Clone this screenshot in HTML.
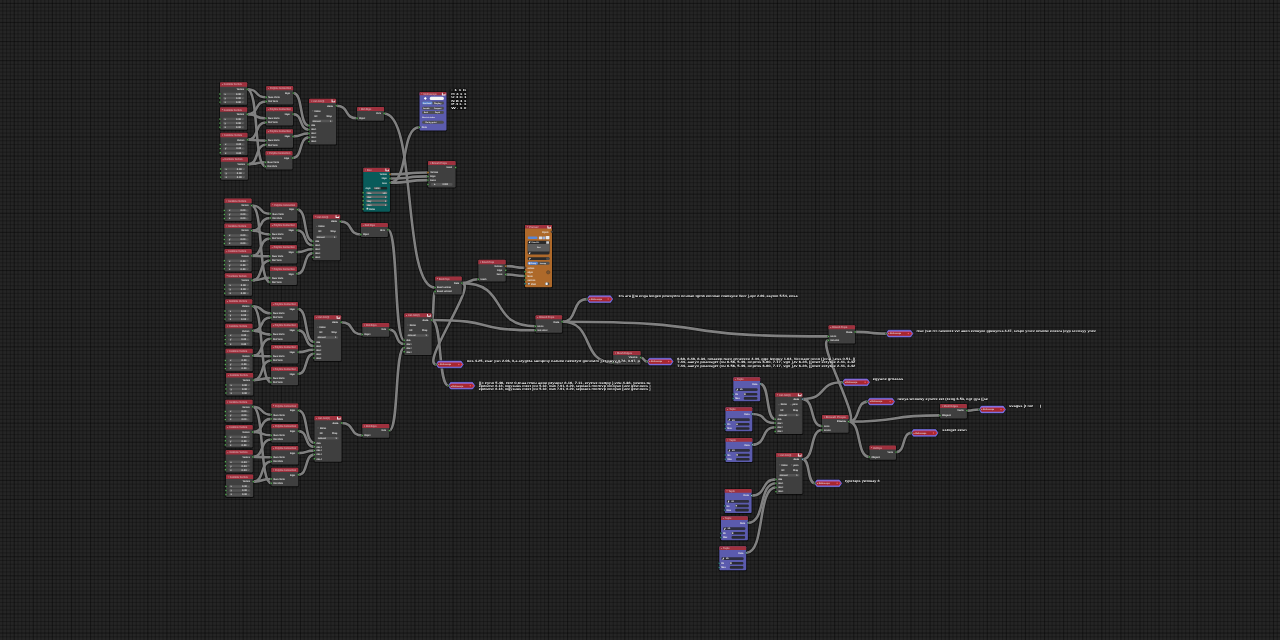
<!DOCTYPE html>
<html><head><meta charset="utf-8"><title>Node Editor</title>
<style>
html,body{margin:0;padding:0;width:1280px;height:640px;overflow:hidden;background:#252525;}
svg{position:absolute;left:0;top:0;display:block;will-change:transform;filter:blur(0.3px);}
text{font-family:"Liberation Sans",sans-serif;text-rendering:geometricPrecision;}
.lo{fill:none;stroke:rgba(8,8,8,0.6);stroke-width:4.0;stroke-linecap:round;}
.li{fill:none;stroke:#808080;stroke-width:2.6;stroke-linecap:round;}
</style></head><body>
<svg width="1280" height="640" viewBox="0 0 1280 640">
<rect width="1280" height="640" fill="#252525"/>
<rect x="-1.58" y="0" width="1" height="640" fill="rgba(0,0,0,0.26)"/>
<rect x="2.23" y="0" width="1" height="640" fill="rgba(0,0,0,0.26)"/>
<rect x="6.05" y="0" width="1" height="640" fill="rgba(0,0,0,0.26)"/>
<rect x="9.86" y="0" width="1" height="640" fill="rgba(0,0,0,0.26)"/>
<rect x="13.68" y="0" width="1.1" height="640" fill="rgba(0,0,0,0.40)"/>
<rect x="17.5" y="0" width="1" height="640" fill="rgba(0,0,0,0.26)"/>
<rect x="21.31" y="0" width="1" height="640" fill="rgba(0,0,0,0.26)"/>
<rect x="25.13" y="0" width="1" height="640" fill="rgba(0,0,0,0.26)"/>
<rect x="28.94" y="0" width="1" height="640" fill="rgba(0,0,0,0.26)"/>
<rect x="32.76" y="0" width="1.1" height="640" fill="rgba(0,0,0,0.40)"/>
<rect x="36.58" y="0" width="1" height="640" fill="rgba(0,0,0,0.26)"/>
<rect x="40.39" y="0" width="1" height="640" fill="rgba(0,0,0,0.26)"/>
<rect x="44.21" y="0" width="1" height="640" fill="rgba(0,0,0,0.26)"/>
<rect x="48.02" y="0" width="1" height="640" fill="rgba(0,0,0,0.26)"/>
<rect x="51.84" y="0" width="1.1" height="640" fill="rgba(0,0,0,0.40)"/>
<rect x="55.66" y="0" width="1" height="640" fill="rgba(0,0,0,0.26)"/>
<rect x="59.47" y="0" width="1" height="640" fill="rgba(0,0,0,0.26)"/>
<rect x="63.29" y="0" width="1" height="640" fill="rgba(0,0,0,0.26)"/>
<rect x="67.1" y="0" width="1" height="640" fill="rgba(0,0,0,0.26)"/>
<rect x="70.92" y="0" width="1.1" height="640" fill="rgba(0,0,0,0.40)"/>
<rect x="74.74" y="0" width="1" height="640" fill="rgba(0,0,0,0.26)"/>
<rect x="78.55" y="0" width="1" height="640" fill="rgba(0,0,0,0.26)"/>
<rect x="82.37" y="0" width="1" height="640" fill="rgba(0,0,0,0.26)"/>
<rect x="86.18" y="0" width="1" height="640" fill="rgba(0,0,0,0.26)"/>
<rect x="90" y="0" width="1.1" height="640" fill="rgba(0,0,0,0.40)"/>
<rect x="93.82" y="0" width="1" height="640" fill="rgba(0,0,0,0.26)"/>
<rect x="97.63" y="0" width="1" height="640" fill="rgba(0,0,0,0.26)"/>
<rect x="101.45" y="0" width="1" height="640" fill="rgba(0,0,0,0.26)"/>
<rect x="105.26" y="0" width="1" height="640" fill="rgba(0,0,0,0.26)"/>
<rect x="109.08" y="0" width="1.1" height="640" fill="rgba(0,0,0,0.40)"/>
<rect x="112.9" y="0" width="1" height="640" fill="rgba(0,0,0,0.26)"/>
<rect x="116.71" y="0" width="1" height="640" fill="rgba(0,0,0,0.26)"/>
<rect x="120.53" y="0" width="1" height="640" fill="rgba(0,0,0,0.26)"/>
<rect x="124.34" y="0" width="1" height="640" fill="rgba(0,0,0,0.26)"/>
<rect x="128.16" y="0" width="1.1" height="640" fill="rgba(0,0,0,0.40)"/>
<rect x="131.98" y="0" width="1" height="640" fill="rgba(0,0,0,0.26)"/>
<rect x="135.79" y="0" width="1" height="640" fill="rgba(0,0,0,0.26)"/>
<rect x="139.61" y="0" width="1" height="640" fill="rgba(0,0,0,0.26)"/>
<rect x="143.42" y="0" width="1" height="640" fill="rgba(0,0,0,0.26)"/>
<rect x="147.24" y="0" width="1.1" height="640" fill="rgba(0,0,0,0.40)"/>
<rect x="151.06" y="0" width="1" height="640" fill="rgba(0,0,0,0.26)"/>
<rect x="154.87" y="0" width="1" height="640" fill="rgba(0,0,0,0.26)"/>
<rect x="158.69" y="0" width="1" height="640" fill="rgba(0,0,0,0.26)"/>
<rect x="162.5" y="0" width="1" height="640" fill="rgba(0,0,0,0.26)"/>
<rect x="166.32" y="0" width="1.1" height="640" fill="rgba(0,0,0,0.40)"/>
<rect x="170.14" y="0" width="1" height="640" fill="rgba(0,0,0,0.26)"/>
<rect x="173.95" y="0" width="1" height="640" fill="rgba(0,0,0,0.26)"/>
<rect x="177.77" y="0" width="1" height="640" fill="rgba(0,0,0,0.26)"/>
<rect x="181.58" y="0" width="1" height="640" fill="rgba(0,0,0,0.26)"/>
<rect x="185.4" y="0" width="1.1" height="640" fill="rgba(0,0,0,0.40)"/>
<rect x="189.22" y="0" width="1" height="640" fill="rgba(0,0,0,0.26)"/>
<rect x="193.03" y="0" width="1" height="640" fill="rgba(0,0,0,0.26)"/>
<rect x="196.85" y="0" width="1" height="640" fill="rgba(0,0,0,0.26)"/>
<rect x="200.66" y="0" width="1" height="640" fill="rgba(0,0,0,0.26)"/>
<rect x="204.48" y="0" width="1.1" height="640" fill="rgba(0,0,0,0.40)"/>
<rect x="208.3" y="0" width="1" height="640" fill="rgba(0,0,0,0.26)"/>
<rect x="212.11" y="0" width="1" height="640" fill="rgba(0,0,0,0.26)"/>
<rect x="215.93" y="0" width="1" height="640" fill="rgba(0,0,0,0.26)"/>
<rect x="219.74" y="0" width="1" height="640" fill="rgba(0,0,0,0.26)"/>
<rect x="223.56" y="0" width="1.1" height="640" fill="rgba(0,0,0,0.40)"/>
<rect x="227.38" y="0" width="1" height="640" fill="rgba(0,0,0,0.26)"/>
<rect x="231.19" y="0" width="1" height="640" fill="rgba(0,0,0,0.26)"/>
<rect x="235.01" y="0" width="1" height="640" fill="rgba(0,0,0,0.26)"/>
<rect x="238.82" y="0" width="1" height="640" fill="rgba(0,0,0,0.26)"/>
<rect x="242.64" y="0" width="1.1" height="640" fill="rgba(0,0,0,0.40)"/>
<rect x="246.46" y="0" width="1" height="640" fill="rgba(0,0,0,0.26)"/>
<rect x="250.27" y="0" width="1" height="640" fill="rgba(0,0,0,0.26)"/>
<rect x="254.09" y="0" width="1" height="640" fill="rgba(0,0,0,0.26)"/>
<rect x="257.9" y="0" width="1" height="640" fill="rgba(0,0,0,0.26)"/>
<rect x="261.72" y="0" width="1.1" height="640" fill="rgba(0,0,0,0.40)"/>
<rect x="265.54" y="0" width="1" height="640" fill="rgba(0,0,0,0.26)"/>
<rect x="269.35" y="0" width="1" height="640" fill="rgba(0,0,0,0.26)"/>
<rect x="273.17" y="0" width="1" height="640" fill="rgba(0,0,0,0.26)"/>
<rect x="276.98" y="0" width="1" height="640" fill="rgba(0,0,0,0.26)"/>
<rect x="280.8" y="0" width="1.1" height="640" fill="rgba(0,0,0,0.40)"/>
<rect x="284.62" y="0" width="1" height="640" fill="rgba(0,0,0,0.26)"/>
<rect x="288.43" y="0" width="1" height="640" fill="rgba(0,0,0,0.26)"/>
<rect x="292.25" y="0" width="1" height="640" fill="rgba(0,0,0,0.26)"/>
<rect x="296.06" y="0" width="1" height="640" fill="rgba(0,0,0,0.26)"/>
<rect x="299.88" y="0" width="1.1" height="640" fill="rgba(0,0,0,0.40)"/>
<rect x="303.7" y="0" width="1" height="640" fill="rgba(0,0,0,0.26)"/>
<rect x="307.51" y="0" width="1" height="640" fill="rgba(0,0,0,0.26)"/>
<rect x="311.33" y="0" width="1" height="640" fill="rgba(0,0,0,0.26)"/>
<rect x="315.14" y="0" width="1" height="640" fill="rgba(0,0,0,0.26)"/>
<rect x="318.96" y="0" width="1.1" height="640" fill="rgba(0,0,0,0.40)"/>
<rect x="322.78" y="0" width="1" height="640" fill="rgba(0,0,0,0.26)"/>
<rect x="326.59" y="0" width="1" height="640" fill="rgba(0,0,0,0.26)"/>
<rect x="330.41" y="0" width="1" height="640" fill="rgba(0,0,0,0.26)"/>
<rect x="334.22" y="0" width="1" height="640" fill="rgba(0,0,0,0.26)"/>
<rect x="338.04" y="0" width="1.1" height="640" fill="rgba(0,0,0,0.40)"/>
<rect x="341.86" y="0" width="1" height="640" fill="rgba(0,0,0,0.26)"/>
<rect x="345.67" y="0" width="1" height="640" fill="rgba(0,0,0,0.26)"/>
<rect x="349.49" y="0" width="1" height="640" fill="rgba(0,0,0,0.26)"/>
<rect x="353.3" y="0" width="1" height="640" fill="rgba(0,0,0,0.26)"/>
<rect x="357.12" y="0" width="1.1" height="640" fill="rgba(0,0,0,0.40)"/>
<rect x="360.94" y="0" width="1" height="640" fill="rgba(0,0,0,0.26)"/>
<rect x="364.75" y="0" width="1" height="640" fill="rgba(0,0,0,0.26)"/>
<rect x="368.57" y="0" width="1" height="640" fill="rgba(0,0,0,0.26)"/>
<rect x="372.38" y="0" width="1" height="640" fill="rgba(0,0,0,0.26)"/>
<rect x="376.2" y="0" width="1.1" height="640" fill="rgba(0,0,0,0.40)"/>
<rect x="380.02" y="0" width="1" height="640" fill="rgba(0,0,0,0.26)"/>
<rect x="383.83" y="0" width="1" height="640" fill="rgba(0,0,0,0.26)"/>
<rect x="387.65" y="0" width="1" height="640" fill="rgba(0,0,0,0.26)"/>
<rect x="391.46" y="0" width="1" height="640" fill="rgba(0,0,0,0.26)"/>
<rect x="395.28" y="0" width="1.1" height="640" fill="rgba(0,0,0,0.40)"/>
<rect x="399.1" y="0" width="1" height="640" fill="rgba(0,0,0,0.26)"/>
<rect x="402.91" y="0" width="1" height="640" fill="rgba(0,0,0,0.26)"/>
<rect x="406.73" y="0" width="1" height="640" fill="rgba(0,0,0,0.26)"/>
<rect x="410.54" y="0" width="1" height="640" fill="rgba(0,0,0,0.26)"/>
<rect x="414.36" y="0" width="1.1" height="640" fill="rgba(0,0,0,0.40)"/>
<rect x="418.18" y="0" width="1" height="640" fill="rgba(0,0,0,0.26)"/>
<rect x="421.99" y="0" width="1" height="640" fill="rgba(0,0,0,0.26)"/>
<rect x="425.81" y="0" width="1" height="640" fill="rgba(0,0,0,0.26)"/>
<rect x="429.62" y="0" width="1" height="640" fill="rgba(0,0,0,0.26)"/>
<rect x="433.44" y="0" width="1.1" height="640" fill="rgba(0,0,0,0.40)"/>
<rect x="437.26" y="0" width="1" height="640" fill="rgba(0,0,0,0.26)"/>
<rect x="441.07" y="0" width="1" height="640" fill="rgba(0,0,0,0.26)"/>
<rect x="444.89" y="0" width="1" height="640" fill="rgba(0,0,0,0.26)"/>
<rect x="448.7" y="0" width="1" height="640" fill="rgba(0,0,0,0.26)"/>
<rect x="452.52" y="0" width="1.1" height="640" fill="rgba(0,0,0,0.40)"/>
<rect x="456.34" y="0" width="1" height="640" fill="rgba(0,0,0,0.26)"/>
<rect x="460.15" y="0" width="1" height="640" fill="rgba(0,0,0,0.26)"/>
<rect x="463.97" y="0" width="1" height="640" fill="rgba(0,0,0,0.26)"/>
<rect x="467.78" y="0" width="1" height="640" fill="rgba(0,0,0,0.26)"/>
<rect x="471.6" y="0" width="1.1" height="640" fill="rgba(0,0,0,0.40)"/>
<rect x="475.42" y="0" width="1" height="640" fill="rgba(0,0,0,0.26)"/>
<rect x="479.23" y="0" width="1" height="640" fill="rgba(0,0,0,0.26)"/>
<rect x="483.05" y="0" width="1" height="640" fill="rgba(0,0,0,0.26)"/>
<rect x="486.86" y="0" width="1" height="640" fill="rgba(0,0,0,0.26)"/>
<rect x="490.68" y="0" width="1.1" height="640" fill="rgba(0,0,0,0.40)"/>
<rect x="494.5" y="0" width="1" height="640" fill="rgba(0,0,0,0.26)"/>
<rect x="498.31" y="0" width="1" height="640" fill="rgba(0,0,0,0.26)"/>
<rect x="502.13" y="0" width="1" height="640" fill="rgba(0,0,0,0.26)"/>
<rect x="505.94" y="0" width="1" height="640" fill="rgba(0,0,0,0.26)"/>
<rect x="509.76" y="0" width="1.1" height="640" fill="rgba(0,0,0,0.40)"/>
<rect x="513.58" y="0" width="1" height="640" fill="rgba(0,0,0,0.26)"/>
<rect x="517.39" y="0" width="1" height="640" fill="rgba(0,0,0,0.26)"/>
<rect x="521.21" y="0" width="1" height="640" fill="rgba(0,0,0,0.26)"/>
<rect x="525.02" y="0" width="1" height="640" fill="rgba(0,0,0,0.26)"/>
<rect x="528.84" y="0" width="1.1" height="640" fill="rgba(0,0,0,0.40)"/>
<rect x="532.66" y="0" width="1" height="640" fill="rgba(0,0,0,0.26)"/>
<rect x="536.47" y="0" width="1" height="640" fill="rgba(0,0,0,0.26)"/>
<rect x="540.29" y="0" width="1" height="640" fill="rgba(0,0,0,0.26)"/>
<rect x="544.1" y="0" width="1" height="640" fill="rgba(0,0,0,0.26)"/>
<rect x="547.92" y="0" width="1.1" height="640" fill="rgba(0,0,0,0.40)"/>
<rect x="551.74" y="0" width="1" height="640" fill="rgba(0,0,0,0.26)"/>
<rect x="555.55" y="0" width="1" height="640" fill="rgba(0,0,0,0.26)"/>
<rect x="559.37" y="0" width="1" height="640" fill="rgba(0,0,0,0.26)"/>
<rect x="563.18" y="0" width="1" height="640" fill="rgba(0,0,0,0.26)"/>
<rect x="567" y="0" width="1.1" height="640" fill="rgba(0,0,0,0.40)"/>
<rect x="570.82" y="0" width="1" height="640" fill="rgba(0,0,0,0.26)"/>
<rect x="574.63" y="0" width="1" height="640" fill="rgba(0,0,0,0.26)"/>
<rect x="578.45" y="0" width="1" height="640" fill="rgba(0,0,0,0.26)"/>
<rect x="582.26" y="0" width="1" height="640" fill="rgba(0,0,0,0.26)"/>
<rect x="586.08" y="0" width="1.1" height="640" fill="rgba(0,0,0,0.40)"/>
<rect x="589.9" y="0" width="1" height="640" fill="rgba(0,0,0,0.26)"/>
<rect x="593.71" y="0" width="1" height="640" fill="rgba(0,0,0,0.26)"/>
<rect x="597.53" y="0" width="1" height="640" fill="rgba(0,0,0,0.26)"/>
<rect x="601.34" y="0" width="1" height="640" fill="rgba(0,0,0,0.26)"/>
<rect x="605.16" y="0" width="1.1" height="640" fill="rgba(0,0,0,0.40)"/>
<rect x="608.98" y="0" width="1" height="640" fill="rgba(0,0,0,0.26)"/>
<rect x="612.79" y="0" width="1" height="640" fill="rgba(0,0,0,0.26)"/>
<rect x="616.61" y="0" width="1" height="640" fill="rgba(0,0,0,0.26)"/>
<rect x="620.42" y="0" width="1" height="640" fill="rgba(0,0,0,0.26)"/>
<rect x="624.24" y="0" width="1.1" height="640" fill="rgba(0,0,0,0.40)"/>
<rect x="628.06" y="0" width="1" height="640" fill="rgba(0,0,0,0.26)"/>
<rect x="631.87" y="0" width="1" height="640" fill="rgba(0,0,0,0.26)"/>
<rect x="635.69" y="0" width="1" height="640" fill="rgba(0,0,0,0.26)"/>
<rect x="639.5" y="0" width="1" height="640" fill="rgba(0,0,0,0.26)"/>
<rect x="643.32" y="0" width="1.1" height="640" fill="rgba(0,0,0,0.40)"/>
<rect x="647.14" y="0" width="1" height="640" fill="rgba(0,0,0,0.26)"/>
<rect x="650.95" y="0" width="1" height="640" fill="rgba(0,0,0,0.26)"/>
<rect x="654.77" y="0" width="1" height="640" fill="rgba(0,0,0,0.26)"/>
<rect x="658.58" y="0" width="1" height="640" fill="rgba(0,0,0,0.26)"/>
<rect x="662.4" y="0" width="1.1" height="640" fill="rgba(0,0,0,0.40)"/>
<rect x="666.22" y="0" width="1" height="640" fill="rgba(0,0,0,0.26)"/>
<rect x="670.03" y="0" width="1" height="640" fill="rgba(0,0,0,0.26)"/>
<rect x="673.85" y="0" width="1" height="640" fill="rgba(0,0,0,0.26)"/>
<rect x="677.66" y="0" width="1" height="640" fill="rgba(0,0,0,0.26)"/>
<rect x="681.48" y="0" width="1.1" height="640" fill="rgba(0,0,0,0.40)"/>
<rect x="685.3" y="0" width="1" height="640" fill="rgba(0,0,0,0.26)"/>
<rect x="689.11" y="0" width="1" height="640" fill="rgba(0,0,0,0.26)"/>
<rect x="692.93" y="0" width="1" height="640" fill="rgba(0,0,0,0.26)"/>
<rect x="696.74" y="0" width="1" height="640" fill="rgba(0,0,0,0.26)"/>
<rect x="700.56" y="0" width="1.1" height="640" fill="rgba(0,0,0,0.40)"/>
<rect x="704.38" y="0" width="1" height="640" fill="rgba(0,0,0,0.26)"/>
<rect x="708.19" y="0" width="1" height="640" fill="rgba(0,0,0,0.26)"/>
<rect x="712.01" y="0" width="1" height="640" fill="rgba(0,0,0,0.26)"/>
<rect x="715.82" y="0" width="1" height="640" fill="rgba(0,0,0,0.26)"/>
<rect x="719.64" y="0" width="1.1" height="640" fill="rgba(0,0,0,0.40)"/>
<rect x="723.46" y="0" width="1" height="640" fill="rgba(0,0,0,0.26)"/>
<rect x="727.27" y="0" width="1" height="640" fill="rgba(0,0,0,0.26)"/>
<rect x="731.09" y="0" width="1" height="640" fill="rgba(0,0,0,0.26)"/>
<rect x="734.9" y="0" width="1" height="640" fill="rgba(0,0,0,0.26)"/>
<rect x="738.72" y="0" width="1.1" height="640" fill="rgba(0,0,0,0.40)"/>
<rect x="742.54" y="0" width="1" height="640" fill="rgba(0,0,0,0.26)"/>
<rect x="746.35" y="0" width="1" height="640" fill="rgba(0,0,0,0.26)"/>
<rect x="750.17" y="0" width="1" height="640" fill="rgba(0,0,0,0.26)"/>
<rect x="753.98" y="0" width="1" height="640" fill="rgba(0,0,0,0.26)"/>
<rect x="757.8" y="0" width="1.1" height="640" fill="rgba(0,0,0,0.40)"/>
<rect x="761.62" y="0" width="1" height="640" fill="rgba(0,0,0,0.26)"/>
<rect x="765.43" y="0" width="1" height="640" fill="rgba(0,0,0,0.26)"/>
<rect x="769.25" y="0" width="1" height="640" fill="rgba(0,0,0,0.26)"/>
<rect x="773.06" y="0" width="1" height="640" fill="rgba(0,0,0,0.26)"/>
<rect x="776.88" y="0" width="1.1" height="640" fill="rgba(0,0,0,0.40)"/>
<rect x="780.7" y="0" width="1" height="640" fill="rgba(0,0,0,0.26)"/>
<rect x="784.51" y="0" width="1" height="640" fill="rgba(0,0,0,0.26)"/>
<rect x="788.33" y="0" width="1" height="640" fill="rgba(0,0,0,0.26)"/>
<rect x="792.14" y="0" width="1" height="640" fill="rgba(0,0,0,0.26)"/>
<rect x="795.96" y="0" width="1.1" height="640" fill="rgba(0,0,0,0.40)"/>
<rect x="799.78" y="0" width="1" height="640" fill="rgba(0,0,0,0.26)"/>
<rect x="803.59" y="0" width="1" height="640" fill="rgba(0,0,0,0.26)"/>
<rect x="807.41" y="0" width="1" height="640" fill="rgba(0,0,0,0.26)"/>
<rect x="811.22" y="0" width="1" height="640" fill="rgba(0,0,0,0.26)"/>
<rect x="815.04" y="0" width="1.1" height="640" fill="rgba(0,0,0,0.40)"/>
<rect x="818.86" y="0" width="1" height="640" fill="rgba(0,0,0,0.26)"/>
<rect x="822.67" y="0" width="1" height="640" fill="rgba(0,0,0,0.26)"/>
<rect x="826.49" y="0" width="1" height="640" fill="rgba(0,0,0,0.26)"/>
<rect x="830.3" y="0" width="1" height="640" fill="rgba(0,0,0,0.26)"/>
<rect x="834.12" y="0" width="1.1" height="640" fill="rgba(0,0,0,0.40)"/>
<rect x="837.94" y="0" width="1" height="640" fill="rgba(0,0,0,0.26)"/>
<rect x="841.75" y="0" width="1" height="640" fill="rgba(0,0,0,0.26)"/>
<rect x="845.57" y="0" width="1" height="640" fill="rgba(0,0,0,0.26)"/>
<rect x="849.38" y="0" width="1" height="640" fill="rgba(0,0,0,0.26)"/>
<rect x="853.2" y="0" width="1.1" height="640" fill="rgba(0,0,0,0.40)"/>
<rect x="857.02" y="0" width="1" height="640" fill="rgba(0,0,0,0.26)"/>
<rect x="860.83" y="0" width="1" height="640" fill="rgba(0,0,0,0.26)"/>
<rect x="864.65" y="0" width="1" height="640" fill="rgba(0,0,0,0.26)"/>
<rect x="868.46" y="0" width="1" height="640" fill="rgba(0,0,0,0.26)"/>
<rect x="872.28" y="0" width="1.1" height="640" fill="rgba(0,0,0,0.40)"/>
<rect x="876.1" y="0" width="1" height="640" fill="rgba(0,0,0,0.26)"/>
<rect x="879.91" y="0" width="1" height="640" fill="rgba(0,0,0,0.26)"/>
<rect x="883.73" y="0" width="1" height="640" fill="rgba(0,0,0,0.26)"/>
<rect x="887.54" y="0" width="1" height="640" fill="rgba(0,0,0,0.26)"/>
<rect x="891.36" y="0" width="1.1" height="640" fill="rgba(0,0,0,0.40)"/>
<rect x="895.18" y="0" width="1" height="640" fill="rgba(0,0,0,0.26)"/>
<rect x="898.99" y="0" width="1" height="640" fill="rgba(0,0,0,0.26)"/>
<rect x="902.81" y="0" width="1" height="640" fill="rgba(0,0,0,0.26)"/>
<rect x="906.62" y="0" width="1" height="640" fill="rgba(0,0,0,0.26)"/>
<rect x="910.44" y="0" width="1.1" height="640" fill="rgba(0,0,0,0.40)"/>
<rect x="914.26" y="0" width="1" height="640" fill="rgba(0,0,0,0.26)"/>
<rect x="918.07" y="0" width="1" height="640" fill="rgba(0,0,0,0.26)"/>
<rect x="921.89" y="0" width="1" height="640" fill="rgba(0,0,0,0.26)"/>
<rect x="925.7" y="0" width="1" height="640" fill="rgba(0,0,0,0.26)"/>
<rect x="929.52" y="0" width="1.1" height="640" fill="rgba(0,0,0,0.40)"/>
<rect x="933.34" y="0" width="1" height="640" fill="rgba(0,0,0,0.26)"/>
<rect x="937.15" y="0" width="1" height="640" fill="rgba(0,0,0,0.26)"/>
<rect x="940.97" y="0" width="1" height="640" fill="rgba(0,0,0,0.26)"/>
<rect x="944.78" y="0" width="1" height="640" fill="rgba(0,0,0,0.26)"/>
<rect x="948.6" y="0" width="1.1" height="640" fill="rgba(0,0,0,0.40)"/>
<rect x="952.42" y="0" width="1" height="640" fill="rgba(0,0,0,0.26)"/>
<rect x="956.23" y="0" width="1" height="640" fill="rgba(0,0,0,0.26)"/>
<rect x="960.05" y="0" width="1" height="640" fill="rgba(0,0,0,0.26)"/>
<rect x="963.86" y="0" width="1" height="640" fill="rgba(0,0,0,0.26)"/>
<rect x="967.68" y="0" width="1.1" height="640" fill="rgba(0,0,0,0.40)"/>
<rect x="971.5" y="0" width="1" height="640" fill="rgba(0,0,0,0.26)"/>
<rect x="975.31" y="0" width="1" height="640" fill="rgba(0,0,0,0.26)"/>
<rect x="979.13" y="0" width="1" height="640" fill="rgba(0,0,0,0.26)"/>
<rect x="982.94" y="0" width="1" height="640" fill="rgba(0,0,0,0.26)"/>
<rect x="986.76" y="0" width="1.1" height="640" fill="rgba(0,0,0,0.40)"/>
<rect x="990.58" y="0" width="1" height="640" fill="rgba(0,0,0,0.26)"/>
<rect x="994.39" y="0" width="1" height="640" fill="rgba(0,0,0,0.26)"/>
<rect x="998.21" y="0" width="1" height="640" fill="rgba(0,0,0,0.26)"/>
<rect x="1002.02" y="0" width="1" height="640" fill="rgba(0,0,0,0.26)"/>
<rect x="1005.84" y="0" width="1.1" height="640" fill="rgba(0,0,0,0.40)"/>
<rect x="1009.66" y="0" width="1" height="640" fill="rgba(0,0,0,0.26)"/>
<rect x="1013.47" y="0" width="1" height="640" fill="rgba(0,0,0,0.26)"/>
<rect x="1017.29" y="0" width="1" height="640" fill="rgba(0,0,0,0.26)"/>
<rect x="1021.1" y="0" width="1" height="640" fill="rgba(0,0,0,0.26)"/>
<rect x="1024.92" y="0" width="1.1" height="640" fill="rgba(0,0,0,0.40)"/>
<rect x="1028.74" y="0" width="1" height="640" fill="rgba(0,0,0,0.26)"/>
<rect x="1032.55" y="0" width="1" height="640" fill="rgba(0,0,0,0.26)"/>
<rect x="1036.37" y="0" width="1" height="640" fill="rgba(0,0,0,0.26)"/>
<rect x="1040.18" y="0" width="1" height="640" fill="rgba(0,0,0,0.26)"/>
<rect x="1044" y="0" width="1.1" height="640" fill="rgba(0,0,0,0.40)"/>
<rect x="1047.82" y="0" width="1" height="640" fill="rgba(0,0,0,0.26)"/>
<rect x="1051.63" y="0" width="1" height="640" fill="rgba(0,0,0,0.26)"/>
<rect x="1055.45" y="0" width="1" height="640" fill="rgba(0,0,0,0.26)"/>
<rect x="1059.26" y="0" width="1" height="640" fill="rgba(0,0,0,0.26)"/>
<rect x="1063.08" y="0" width="1.1" height="640" fill="rgba(0,0,0,0.40)"/>
<rect x="1066.9" y="0" width="1" height="640" fill="rgba(0,0,0,0.26)"/>
<rect x="1070.71" y="0" width="1" height="640" fill="rgba(0,0,0,0.26)"/>
<rect x="1074.53" y="0" width="1" height="640" fill="rgba(0,0,0,0.26)"/>
<rect x="1078.34" y="0" width="1" height="640" fill="rgba(0,0,0,0.26)"/>
<rect x="1082.16" y="0" width="1.1" height="640" fill="rgba(0,0,0,0.40)"/>
<rect x="1085.98" y="0" width="1" height="640" fill="rgba(0,0,0,0.26)"/>
<rect x="1089.79" y="0" width="1" height="640" fill="rgba(0,0,0,0.26)"/>
<rect x="1093.61" y="0" width="1" height="640" fill="rgba(0,0,0,0.26)"/>
<rect x="1097.42" y="0" width="1" height="640" fill="rgba(0,0,0,0.26)"/>
<rect x="1101.24" y="0" width="1.1" height="640" fill="rgba(0,0,0,0.40)"/>
<rect x="1105.06" y="0" width="1" height="640" fill="rgba(0,0,0,0.26)"/>
<rect x="1108.87" y="0" width="1" height="640" fill="rgba(0,0,0,0.26)"/>
<rect x="1112.69" y="0" width="1" height="640" fill="rgba(0,0,0,0.26)"/>
<rect x="1116.5" y="0" width="1" height="640" fill="rgba(0,0,0,0.26)"/>
<rect x="1120.32" y="0" width="1.1" height="640" fill="rgba(0,0,0,0.40)"/>
<rect x="1124.14" y="0" width="1" height="640" fill="rgba(0,0,0,0.26)"/>
<rect x="1127.95" y="0" width="1" height="640" fill="rgba(0,0,0,0.26)"/>
<rect x="1131.77" y="0" width="1" height="640" fill="rgba(0,0,0,0.26)"/>
<rect x="1135.58" y="0" width="1" height="640" fill="rgba(0,0,0,0.26)"/>
<rect x="1139.4" y="0" width="1.1" height="640" fill="rgba(0,0,0,0.40)"/>
<rect x="1143.22" y="0" width="1" height="640" fill="rgba(0,0,0,0.26)"/>
<rect x="1147.03" y="0" width="1" height="640" fill="rgba(0,0,0,0.26)"/>
<rect x="1150.85" y="0" width="1" height="640" fill="rgba(0,0,0,0.26)"/>
<rect x="1154.66" y="0" width="1" height="640" fill="rgba(0,0,0,0.26)"/>
<rect x="1158.48" y="0" width="1.1" height="640" fill="rgba(0,0,0,0.40)"/>
<rect x="1162.3" y="0" width="1" height="640" fill="rgba(0,0,0,0.26)"/>
<rect x="1166.11" y="0" width="1" height="640" fill="rgba(0,0,0,0.26)"/>
<rect x="1169.93" y="0" width="1" height="640" fill="rgba(0,0,0,0.26)"/>
<rect x="1173.74" y="0" width="1" height="640" fill="rgba(0,0,0,0.26)"/>
<rect x="1177.56" y="0" width="1.1" height="640" fill="rgba(0,0,0,0.40)"/>
<rect x="1181.38" y="0" width="1" height="640" fill="rgba(0,0,0,0.26)"/>
<rect x="1185.19" y="0" width="1" height="640" fill="rgba(0,0,0,0.26)"/>
<rect x="1189.01" y="0" width="1" height="640" fill="rgba(0,0,0,0.26)"/>
<rect x="1192.82" y="0" width="1" height="640" fill="rgba(0,0,0,0.26)"/>
<rect x="1196.64" y="0" width="1.1" height="640" fill="rgba(0,0,0,0.40)"/>
<rect x="1200.46" y="0" width="1" height="640" fill="rgba(0,0,0,0.26)"/>
<rect x="1204.27" y="0" width="1" height="640" fill="rgba(0,0,0,0.26)"/>
<rect x="1208.09" y="0" width="1" height="640" fill="rgba(0,0,0,0.26)"/>
<rect x="1211.9" y="0" width="1" height="640" fill="rgba(0,0,0,0.26)"/>
<rect x="1215.72" y="0" width="1.1" height="640" fill="rgba(0,0,0,0.40)"/>
<rect x="1219.54" y="0" width="1" height="640" fill="rgba(0,0,0,0.26)"/>
<rect x="1223.35" y="0" width="1" height="640" fill="rgba(0,0,0,0.26)"/>
<rect x="1227.17" y="0" width="1" height="640" fill="rgba(0,0,0,0.26)"/>
<rect x="1230.98" y="0" width="1" height="640" fill="rgba(0,0,0,0.26)"/>
<rect x="1234.8" y="0" width="1.1" height="640" fill="rgba(0,0,0,0.40)"/>
<rect x="1238.62" y="0" width="1" height="640" fill="rgba(0,0,0,0.26)"/>
<rect x="1242.43" y="0" width="1" height="640" fill="rgba(0,0,0,0.26)"/>
<rect x="1246.25" y="0" width="1" height="640" fill="rgba(0,0,0,0.26)"/>
<rect x="1250.06" y="0" width="1" height="640" fill="rgba(0,0,0,0.26)"/>
<rect x="1253.88" y="0" width="1.1" height="640" fill="rgba(0,0,0,0.40)"/>
<rect x="1257.7" y="0" width="1" height="640" fill="rgba(0,0,0,0.26)"/>
<rect x="1261.51" y="0" width="1" height="640" fill="rgba(0,0,0,0.26)"/>
<rect x="1265.33" y="0" width="1" height="640" fill="rgba(0,0,0,0.26)"/>
<rect x="1269.14" y="0" width="1" height="640" fill="rgba(0,0,0,0.26)"/>
<rect x="1272.96" y="0" width="1.1" height="640" fill="rgba(0,0,0,0.40)"/>
<rect x="1276.78" y="0" width="1" height="640" fill="rgba(0,0,0,0.26)"/>
<rect x="0" y="-0.98" width="1280" height="1" fill="rgba(0,0,0,0.26)"/>
<rect x="0" y="2.84" width="1280" height="1.1" fill="rgba(0,0,0,0.40)"/>
<rect x="0" y="6.66" width="1280" height="1" fill="rgba(0,0,0,0.26)"/>
<rect x="0" y="10.47" width="1280" height="1" fill="rgba(0,0,0,0.26)"/>
<rect x="0" y="14.29" width="1280" height="1" fill="rgba(0,0,0,0.26)"/>
<rect x="0" y="18.1" width="1280" height="1" fill="rgba(0,0,0,0.26)"/>
<rect x="0" y="21.92" width="1280" height="1.1" fill="rgba(0,0,0,0.40)"/>
<rect x="0" y="25.74" width="1280" height="1" fill="rgba(0,0,0,0.26)"/>
<rect x="0" y="29.55" width="1280" height="1" fill="rgba(0,0,0,0.26)"/>
<rect x="0" y="33.37" width="1280" height="1" fill="rgba(0,0,0,0.26)"/>
<rect x="0" y="37.18" width="1280" height="1" fill="rgba(0,0,0,0.26)"/>
<rect x="0" y="41" width="1280" height="1.1" fill="rgba(0,0,0,0.40)"/>
<rect x="0" y="44.82" width="1280" height="1" fill="rgba(0,0,0,0.26)"/>
<rect x="0" y="48.63" width="1280" height="1" fill="rgba(0,0,0,0.26)"/>
<rect x="0" y="52.45" width="1280" height="1" fill="rgba(0,0,0,0.26)"/>
<rect x="0" y="56.26" width="1280" height="1" fill="rgba(0,0,0,0.26)"/>
<rect x="0" y="60.08" width="1280" height="1.1" fill="rgba(0,0,0,0.40)"/>
<rect x="0" y="63.9" width="1280" height="1" fill="rgba(0,0,0,0.26)"/>
<rect x="0" y="67.71" width="1280" height="1" fill="rgba(0,0,0,0.26)"/>
<rect x="0" y="71.53" width="1280" height="1" fill="rgba(0,0,0,0.26)"/>
<rect x="0" y="75.34" width="1280" height="1" fill="rgba(0,0,0,0.26)"/>
<rect x="0" y="79.16" width="1280" height="1.1" fill="rgba(0,0,0,0.40)"/>
<rect x="0" y="82.98" width="1280" height="1" fill="rgba(0,0,0,0.26)"/>
<rect x="0" y="86.79" width="1280" height="1" fill="rgba(0,0,0,0.26)"/>
<rect x="0" y="90.61" width="1280" height="1" fill="rgba(0,0,0,0.26)"/>
<rect x="0" y="94.42" width="1280" height="1" fill="rgba(0,0,0,0.26)"/>
<rect x="0" y="98.24" width="1280" height="1.1" fill="rgba(0,0,0,0.40)"/>
<rect x="0" y="102.06" width="1280" height="1" fill="rgba(0,0,0,0.26)"/>
<rect x="0" y="105.87" width="1280" height="1" fill="rgba(0,0,0,0.26)"/>
<rect x="0" y="109.69" width="1280" height="1" fill="rgba(0,0,0,0.26)"/>
<rect x="0" y="113.5" width="1280" height="1" fill="rgba(0,0,0,0.26)"/>
<rect x="0" y="117.32" width="1280" height="1.1" fill="rgba(0,0,0,0.40)"/>
<rect x="0" y="121.14" width="1280" height="1" fill="rgba(0,0,0,0.26)"/>
<rect x="0" y="124.95" width="1280" height="1" fill="rgba(0,0,0,0.26)"/>
<rect x="0" y="128.77" width="1280" height="1" fill="rgba(0,0,0,0.26)"/>
<rect x="0" y="132.58" width="1280" height="1" fill="rgba(0,0,0,0.26)"/>
<rect x="0" y="136.4" width="1280" height="1.1" fill="rgba(0,0,0,0.40)"/>
<rect x="0" y="140.22" width="1280" height="1" fill="rgba(0,0,0,0.26)"/>
<rect x="0" y="144.03" width="1280" height="1" fill="rgba(0,0,0,0.26)"/>
<rect x="0" y="147.85" width="1280" height="1" fill="rgba(0,0,0,0.26)"/>
<rect x="0" y="151.66" width="1280" height="1" fill="rgba(0,0,0,0.26)"/>
<rect x="0" y="155.48" width="1280" height="1.1" fill="rgba(0,0,0,0.40)"/>
<rect x="0" y="159.3" width="1280" height="1" fill="rgba(0,0,0,0.26)"/>
<rect x="0" y="163.11" width="1280" height="1" fill="rgba(0,0,0,0.26)"/>
<rect x="0" y="166.93" width="1280" height="1" fill="rgba(0,0,0,0.26)"/>
<rect x="0" y="170.74" width="1280" height="1" fill="rgba(0,0,0,0.26)"/>
<rect x="0" y="174.56" width="1280" height="1.1" fill="rgba(0,0,0,0.40)"/>
<rect x="0" y="178.38" width="1280" height="1" fill="rgba(0,0,0,0.26)"/>
<rect x="0" y="182.19" width="1280" height="1" fill="rgba(0,0,0,0.26)"/>
<rect x="0" y="186.01" width="1280" height="1" fill="rgba(0,0,0,0.26)"/>
<rect x="0" y="189.82" width="1280" height="1" fill="rgba(0,0,0,0.26)"/>
<rect x="0" y="193.64" width="1280" height="1.1" fill="rgba(0,0,0,0.40)"/>
<rect x="0" y="197.46" width="1280" height="1" fill="rgba(0,0,0,0.26)"/>
<rect x="0" y="201.27" width="1280" height="1" fill="rgba(0,0,0,0.26)"/>
<rect x="0" y="205.09" width="1280" height="1" fill="rgba(0,0,0,0.26)"/>
<rect x="0" y="208.9" width="1280" height="1" fill="rgba(0,0,0,0.26)"/>
<rect x="0" y="212.72" width="1280" height="1.1" fill="rgba(0,0,0,0.40)"/>
<rect x="0" y="216.54" width="1280" height="1" fill="rgba(0,0,0,0.26)"/>
<rect x="0" y="220.35" width="1280" height="1" fill="rgba(0,0,0,0.26)"/>
<rect x="0" y="224.17" width="1280" height="1" fill="rgba(0,0,0,0.26)"/>
<rect x="0" y="227.98" width="1280" height="1" fill="rgba(0,0,0,0.26)"/>
<rect x="0" y="231.8" width="1280" height="1.1" fill="rgba(0,0,0,0.40)"/>
<rect x="0" y="235.62" width="1280" height="1" fill="rgba(0,0,0,0.26)"/>
<rect x="0" y="239.43" width="1280" height="1" fill="rgba(0,0,0,0.26)"/>
<rect x="0" y="243.25" width="1280" height="1" fill="rgba(0,0,0,0.26)"/>
<rect x="0" y="247.06" width="1280" height="1" fill="rgba(0,0,0,0.26)"/>
<rect x="0" y="250.88" width="1280" height="1.1" fill="rgba(0,0,0,0.40)"/>
<rect x="0" y="254.7" width="1280" height="1" fill="rgba(0,0,0,0.26)"/>
<rect x="0" y="258.51" width="1280" height="1" fill="rgba(0,0,0,0.26)"/>
<rect x="0" y="262.33" width="1280" height="1" fill="rgba(0,0,0,0.26)"/>
<rect x="0" y="266.14" width="1280" height="1" fill="rgba(0,0,0,0.26)"/>
<rect x="0" y="269.96" width="1280" height="1.1" fill="rgba(0,0,0,0.40)"/>
<rect x="0" y="273.78" width="1280" height="1" fill="rgba(0,0,0,0.26)"/>
<rect x="0" y="277.59" width="1280" height="1" fill="rgba(0,0,0,0.26)"/>
<rect x="0" y="281.41" width="1280" height="1" fill="rgba(0,0,0,0.26)"/>
<rect x="0" y="285.22" width="1280" height="1" fill="rgba(0,0,0,0.26)"/>
<rect x="0" y="289.04" width="1280" height="1.1" fill="rgba(0,0,0,0.40)"/>
<rect x="0" y="292.86" width="1280" height="1" fill="rgba(0,0,0,0.26)"/>
<rect x="0" y="296.67" width="1280" height="1" fill="rgba(0,0,0,0.26)"/>
<rect x="0" y="300.49" width="1280" height="1" fill="rgba(0,0,0,0.26)"/>
<rect x="0" y="304.3" width="1280" height="1" fill="rgba(0,0,0,0.26)"/>
<rect x="0" y="308.12" width="1280" height="1.1" fill="rgba(0,0,0,0.40)"/>
<rect x="0" y="311.94" width="1280" height="1" fill="rgba(0,0,0,0.26)"/>
<rect x="0" y="315.75" width="1280" height="1" fill="rgba(0,0,0,0.26)"/>
<rect x="0" y="319.57" width="1280" height="1" fill="rgba(0,0,0,0.26)"/>
<rect x="0" y="323.38" width="1280" height="1" fill="rgba(0,0,0,0.26)"/>
<rect x="0" y="327.2" width="1280" height="1.1" fill="rgba(0,0,0,0.40)"/>
<rect x="0" y="331.02" width="1280" height="1" fill="rgba(0,0,0,0.26)"/>
<rect x="0" y="334.83" width="1280" height="1" fill="rgba(0,0,0,0.26)"/>
<rect x="0" y="338.65" width="1280" height="1" fill="rgba(0,0,0,0.26)"/>
<rect x="0" y="342.46" width="1280" height="1" fill="rgba(0,0,0,0.26)"/>
<rect x="0" y="346.28" width="1280" height="1.1" fill="rgba(0,0,0,0.40)"/>
<rect x="0" y="350.1" width="1280" height="1" fill="rgba(0,0,0,0.26)"/>
<rect x="0" y="353.91" width="1280" height="1" fill="rgba(0,0,0,0.26)"/>
<rect x="0" y="357.73" width="1280" height="1" fill="rgba(0,0,0,0.26)"/>
<rect x="0" y="361.54" width="1280" height="1" fill="rgba(0,0,0,0.26)"/>
<rect x="0" y="365.36" width="1280" height="1.1" fill="rgba(0,0,0,0.40)"/>
<rect x="0" y="369.18" width="1280" height="1" fill="rgba(0,0,0,0.26)"/>
<rect x="0" y="372.99" width="1280" height="1" fill="rgba(0,0,0,0.26)"/>
<rect x="0" y="376.81" width="1280" height="1" fill="rgba(0,0,0,0.26)"/>
<rect x="0" y="380.62" width="1280" height="1" fill="rgba(0,0,0,0.26)"/>
<rect x="0" y="384.44" width="1280" height="1.1" fill="rgba(0,0,0,0.40)"/>
<rect x="0" y="388.26" width="1280" height="1" fill="rgba(0,0,0,0.26)"/>
<rect x="0" y="392.07" width="1280" height="1" fill="rgba(0,0,0,0.26)"/>
<rect x="0" y="395.89" width="1280" height="1" fill="rgba(0,0,0,0.26)"/>
<rect x="0" y="399.7" width="1280" height="1" fill="rgba(0,0,0,0.26)"/>
<rect x="0" y="403.52" width="1280" height="1.1" fill="rgba(0,0,0,0.40)"/>
<rect x="0" y="407.34" width="1280" height="1" fill="rgba(0,0,0,0.26)"/>
<rect x="0" y="411.15" width="1280" height="1" fill="rgba(0,0,0,0.26)"/>
<rect x="0" y="414.97" width="1280" height="1" fill="rgba(0,0,0,0.26)"/>
<rect x="0" y="418.78" width="1280" height="1" fill="rgba(0,0,0,0.26)"/>
<rect x="0" y="422.6" width="1280" height="1.1" fill="rgba(0,0,0,0.40)"/>
<rect x="0" y="426.42" width="1280" height="1" fill="rgba(0,0,0,0.26)"/>
<rect x="0" y="430.23" width="1280" height="1" fill="rgba(0,0,0,0.26)"/>
<rect x="0" y="434.05" width="1280" height="1" fill="rgba(0,0,0,0.26)"/>
<rect x="0" y="437.86" width="1280" height="1" fill="rgba(0,0,0,0.26)"/>
<rect x="0" y="441.68" width="1280" height="1.1" fill="rgba(0,0,0,0.40)"/>
<rect x="0" y="445.5" width="1280" height="1" fill="rgba(0,0,0,0.26)"/>
<rect x="0" y="449.31" width="1280" height="1" fill="rgba(0,0,0,0.26)"/>
<rect x="0" y="453.13" width="1280" height="1" fill="rgba(0,0,0,0.26)"/>
<rect x="0" y="456.94" width="1280" height="1" fill="rgba(0,0,0,0.26)"/>
<rect x="0" y="460.76" width="1280" height="1.1" fill="rgba(0,0,0,0.40)"/>
<rect x="0" y="464.58" width="1280" height="1" fill="rgba(0,0,0,0.26)"/>
<rect x="0" y="468.39" width="1280" height="1" fill="rgba(0,0,0,0.26)"/>
<rect x="0" y="472.21" width="1280" height="1" fill="rgba(0,0,0,0.26)"/>
<rect x="0" y="476.02" width="1280" height="1" fill="rgba(0,0,0,0.26)"/>
<rect x="0" y="479.84" width="1280" height="1.1" fill="rgba(0,0,0,0.40)"/>
<rect x="0" y="483.66" width="1280" height="1" fill="rgba(0,0,0,0.26)"/>
<rect x="0" y="487.47" width="1280" height="1" fill="rgba(0,0,0,0.26)"/>
<rect x="0" y="491.29" width="1280" height="1" fill="rgba(0,0,0,0.26)"/>
<rect x="0" y="495.1" width="1280" height="1" fill="rgba(0,0,0,0.26)"/>
<rect x="0" y="498.92" width="1280" height="1.1" fill="rgba(0,0,0,0.40)"/>
<rect x="0" y="502.74" width="1280" height="1" fill="rgba(0,0,0,0.26)"/>
<rect x="0" y="506.55" width="1280" height="1" fill="rgba(0,0,0,0.26)"/>
<rect x="0" y="510.37" width="1280" height="1" fill="rgba(0,0,0,0.26)"/>
<rect x="0" y="514.18" width="1280" height="1" fill="rgba(0,0,0,0.26)"/>
<rect x="0" y="518" width="1280" height="1.1" fill="rgba(0,0,0,0.40)"/>
<rect x="0" y="521.82" width="1280" height="1" fill="rgba(0,0,0,0.26)"/>
<rect x="0" y="525.63" width="1280" height="1" fill="rgba(0,0,0,0.26)"/>
<rect x="0" y="529.45" width="1280" height="1" fill="rgba(0,0,0,0.26)"/>
<rect x="0" y="533.26" width="1280" height="1" fill="rgba(0,0,0,0.26)"/>
<rect x="0" y="537.08" width="1280" height="1.1" fill="rgba(0,0,0,0.40)"/>
<rect x="0" y="540.9" width="1280" height="1" fill="rgba(0,0,0,0.26)"/>
<rect x="0" y="544.71" width="1280" height="1" fill="rgba(0,0,0,0.26)"/>
<rect x="0" y="548.53" width="1280" height="1" fill="rgba(0,0,0,0.26)"/>
<rect x="0" y="552.34" width="1280" height="1" fill="rgba(0,0,0,0.26)"/>
<rect x="0" y="556.16" width="1280" height="1.1" fill="rgba(0,0,0,0.40)"/>
<rect x="0" y="559.98" width="1280" height="1" fill="rgba(0,0,0,0.26)"/>
<rect x="0" y="563.79" width="1280" height="1" fill="rgba(0,0,0,0.26)"/>
<rect x="0" y="567.61" width="1280" height="1" fill="rgba(0,0,0,0.26)"/>
<rect x="0" y="571.42" width="1280" height="1" fill="rgba(0,0,0,0.26)"/>
<rect x="0" y="575.24" width="1280" height="1.1" fill="rgba(0,0,0,0.40)"/>
<rect x="0" y="579.06" width="1280" height="1" fill="rgba(0,0,0,0.26)"/>
<rect x="0" y="582.87" width="1280" height="1" fill="rgba(0,0,0,0.26)"/>
<rect x="0" y="586.69" width="1280" height="1" fill="rgba(0,0,0,0.26)"/>
<rect x="0" y="590.5" width="1280" height="1" fill="rgba(0,0,0,0.26)"/>
<rect x="0" y="594.32" width="1280" height="1.1" fill="rgba(0,0,0,0.40)"/>
<rect x="0" y="598.14" width="1280" height="1" fill="rgba(0,0,0,0.26)"/>
<rect x="0" y="601.95" width="1280" height="1" fill="rgba(0,0,0,0.26)"/>
<rect x="0" y="605.77" width="1280" height="1" fill="rgba(0,0,0,0.26)"/>
<rect x="0" y="609.58" width="1280" height="1" fill="rgba(0,0,0,0.26)"/>
<rect x="0" y="613.4" width="1280" height="1.1" fill="rgba(0,0,0,0.40)"/>
<rect x="0" y="617.22" width="1280" height="1" fill="rgba(0,0,0,0.26)"/>
<rect x="0" y="621.03" width="1280" height="1" fill="rgba(0,0,0,0.26)"/>
<rect x="0" y="624.85" width="1280" height="1" fill="rgba(0,0,0,0.26)"/>
<rect x="0" y="628.66" width="1280" height="1" fill="rgba(0,0,0,0.26)"/>
<rect x="0" y="632.48" width="1280" height="1.1" fill="rgba(0,0,0,0.40)"/>
<rect x="0" y="636.3" width="1280" height="1" fill="rgba(0,0,0,0.26)"/>
<g><path d="M247.2 89.2C259.55 89.2 253.85 97.3 266.2 97.3" class="lo"/>
<path d="M247.2 114.3C259.55 114.3 253.85 101.5 266.2 101.5" class="lo"/>
<path d="M293.2 93.1C303.47 93.1 298.73 125.5 309 125.5" class="lo"/>
<path d="M247.2 114.3C259.42 114.3 253.78 118.3 266 118.3" class="lo"/>
<path d="M247.5 139.8C259.52 139.8 253.97 122.5 266 122.5" class="lo"/>
<path d="M293 114.1C303.4 114.1 298.6 129.6 309 129.6" class="lo"/>
<path d="M247.5 139.8C259.52 139.8 253.97 140.6 266 140.6" class="lo"/>
<path d="M248 164.2C259.7 164.2 254.3 144.8 266 144.8" class="lo"/>
<path d="M293 136.4C303.4 136.4 298.6 133.4 309 133.4" class="lo"/>
<path d="M248 164.2C259.38 164.2 254.12 162.2 265.5 162.2" class="lo"/>
<path d="M247.2 89.2C259.09 89.2 253.6 166.4 265.5 166.4" class="lo"/>
<path d="M292.5 158C303.23 158 298.27 137.4 309 137.4" class="lo"/>
<path d="M336.2 105.8C349.79 105.8 343.51 118.3 357.1 118.3" class="lo"/>
<path d="M251.6 205.6C263.82 205.6 258.18 213.8 270.4 213.8" class="lo"/>
<path d="M251.6 230.6C263.82 230.6 258.18 218 270.4 218" class="lo"/>
<path d="M297.4 209.6C307.54 209.6 302.86 241.2 313 241.2" class="lo"/>
<path d="M251.6 230.6C263.56 230.6 258.04 234.4 270 234.4" class="lo"/>
<path d="M251.7 255.9C263.59 255.9 258.11 238.6 270 238.6" class="lo"/>
<path d="M297 230.2C307.4 230.2 302.6 245.3 313 245.3" class="lo"/>
<path d="M251.7 255.9C263.53 255.9 258.07 256.3 269.9 256.3" class="lo"/>
<path d="M252 280.3C263.63 280.3 258.26 260.5 269.9 260.5" class="lo"/>
<path d="M296.9 252.1C307.37 252.1 302.53 249.1 313 249.1" class="lo"/>
<path d="M252 280.3C263.63 280.3 258.26 277.9 269.9 277.9" class="lo"/>
<path d="M251.6 205.6C263.5 205.6 258 282.1 269.9 282.1" class="lo"/>
<path d="M296.9 273.7C307.37 273.7 302.53 253.1 313 253.1" class="lo"/>
<path d="M340.2 221.5C353.65 221.5 347.44 234.5 360.9 234.5" class="lo"/>
<path d="M252.3 306.2C264.45 306.2 258.84 313.3 271 313.3" class="lo"/>
<path d="M252.5 330.8C264.52 330.8 258.98 317.5 271 317.5" class="lo"/>
<path d="M298 309.1C308.4 309.1 303.6 341.9 314 341.9" class="lo"/>
<path d="M252.5 330.8C264.52 330.8 258.98 334.6 271 334.6" class="lo"/>
<path d="M252.7 355.7C264.59 355.7 259.11 338.8 271 338.8" class="lo"/>
<path d="M298 330.4C308.4 330.4 303.6 346 314 346" class="lo"/>
<path d="M252.7 355.7C264.59 355.7 259.11 356.3 271 356.3" class="lo"/>
<path d="M253.2 380.1C264.77 380.1 259.43 360.5 271 360.5" class="lo"/>
<path d="M298 352.1C308.4 352.1 303.6 349.8 314 349.8" class="lo"/>
<path d="M253.2 380.1C264.77 380.1 259.43 378.1 271 378.1" class="lo"/>
<path d="M252.3 306.2C264.45 306.2 258.84 382.3 271 382.3" class="lo"/>
<path d="M298 373.9C308.4 373.9 303.6 353.8 314 353.8" class="lo"/>
<path d="M341.2 322.2C354.92 322.2 348.58 334.4 362.3 334.4" class="lo"/>
<path d="M252.6 406.7C264.75 406.7 259.14 414.7 271.3 414.7" class="lo"/>
<path d="M252.7 432C264.79 432 259.21 418.9 271.3 418.9" class="lo"/>
<path d="M298.3 410.5C308.76 410.5 303.94 442.7 314.4 442.7" class="lo"/>
<path d="M252.7 432C264.79 432 259.21 435.3 271.3 435.3" class="lo"/>
<path d="M252.8 456.9C264.82 456.9 259.27 439.5 271.3 439.5" class="lo"/>
<path d="M298.3 431.1C308.76 431.1 303.94 446.8 314.4 446.8" class="lo"/>
<path d="M252.8 456.9C264.82 456.9 259.27 457.3 271.3 457.3" class="lo"/>
<path d="M253.2 481.6C264.97 481.6 259.53 461.5 271.3 461.5" class="lo"/>
<path d="M298.3 453.1C308.76 453.1 303.94 450.6 314.4 450.6" class="lo"/>
<path d="M253.2 481.6C264.97 481.6 259.53 479 271.3 479" class="lo"/>
<path d="M252.6 406.7C264.75 406.7 259.14 483.2 271.3 483.2" class="lo"/>
<path d="M298.3 474.8C308.76 474.8 303.94 454.6 314.4 454.6" class="lo"/>
<path d="M341.6 423C355.06 423 348.84 435.4 362.3 435.4" class="lo"/>
<path d="M384.1 113.5C417.25 113.5 401.95 287.6 435.1 287.6" class="lo"/>
<path d="M387.9 229.7C398.5 229.7 393.6 340.2 404.2 340.2" class="lo"/>
<path d="M389.3 329.6C398.99 329.6 394.51 344 404.2 344" class="lo"/>
<path d="M389.3 430.6C398.99 430.6 394.51 347.8 404.2 347.8" class="lo"/>
<path d="M390 174.2C414.7 174.2 403.3 172.5 428 172.5" class="lo"/>
<path d="M390 178.5C414.7 178.5 403.3 176.4 428 176.4" class="lo"/>
<path d="M390 182.7C414.7 182.7 403.3 180.1 428 180.1" class="lo"/>
<path d="M390 182.7C409.18 182.7 400.32 127.3 419.5 127.3" class="lo"/>
<path d="M461.8 283.1C472.53 283.1 467.57 279.3 478.3 279.3" class="lo"/>
<path d="M461.8 283.1C509.7 283.1 487.6 326.3 535.5 326.3" class="lo"/>
<path d="M461.8 283.1C478.38 283.1 419.73 364.4 436.3 364.4" class="lo"/>
<path d="M431.7 320C433.91 320 432.89 291.5 435.1 291.5" class="lo"/>
<path d="M431.7 320C499.17 320 468.03 330.2 535.5 330.2" class="lo"/>
<path d="M431.7 320C442.69 320 437.62 385.7 448.6 385.7" class="lo"/>
<path d="M505.7 266.1C518.25 266.1 512.46 267.7 525 267.7" class="lo"/>
<path d="M505.7 274.5C518.25 274.5 512.46 276 525 276" class="lo"/>
<path d="M562.1 321.8C578.41 321.8 570.88 299.1 587.2 299.1" class="lo"/>
<path d="M562.1 321.8C595.32 321.8 579.99 362.4 613.2 362.4" class="lo"/>
<path d="M562.1 321.8C735.26 321.8 655.34 336.4 828.5 336.4" class="lo"/>
<path d="M640.6 357.6C644.95 357.6 642.95 361.6 647.3 361.6" class="lo"/>
<path d="M855.1 331.9C875.38 331.9 866.02 333.6 886.3 333.6" class="lo"/>
<path d="M848.6 421.6C861.67 421.6 815.43 340.3 828.5 340.3" class="lo"/>
<path d="M760.2 383.9C769.95 383.9 765.45 419.2 775.2 419.2" class="lo"/>
<path d="M752.3 414C767.19 414 760.31 423 775.2 423" class="lo"/>
<path d="M752.4 444.7C767.22 444.7 760.38 427.2 775.2 427.2" class="lo"/>
<path d="M751.6 495.6C767.46 495.6 760.14 479.4 776 479.4" class="lo"/>
<path d="M747.9 522.9C766.16 522.9 757.74 483.2 776 483.2" class="lo"/>
<path d="M746.2 552.9C765.57 552.9 756.63 487.4 776 487.4" class="lo"/>
<path d="M802.5 399.1C828.56 399.1 816.53 382.3 842.6 382.3" class="lo"/>
<path d="M802.5 399.1C815.17 399.1 809.33 426.1 822 426.1" class="lo"/>
<path d="M802.5 459.3C815.17 459.3 809.33 430 822 430" class="lo"/>
<path d="M802.5 459.3C810.56 459.3 806.84 483.3 814.9 483.3" class="lo"/>
<path d="M848.6 421.6C860.95 421.6 855.25 401.6 867.6 401.6" class="lo"/>
<path d="M848.6 421.6C908.01 421.6 880.59 415.4 940 415.4" class="lo"/>
<path d="M848.6 421.6C862.12 421.6 855.88 456.9 869.4 456.9" class="lo"/>
<path d="M966.9 410.6C974.96 410.6 971.24 409.5 979.3 409.5" class="lo"/>
<path d="M896 452.1C906.01 452.1 901.39 432.9 911.4 432.9" class="lo"/>
<path d="M247.2 89.2C259.55 89.2 253.85 97.3 266.2 97.3" class="li"/>
<path d="M247.2 114.3C259.55 114.3 253.85 101.5 266.2 101.5" class="li"/>
<path d="M293.2 93.1C303.47 93.1 298.73 125.5 309 125.5" class="li"/>
<path d="M247.2 114.3C259.42 114.3 253.78 118.3 266 118.3" class="li"/>
<path d="M247.5 139.8C259.52 139.8 253.97 122.5 266 122.5" class="li"/>
<path d="M293 114.1C303.4 114.1 298.6 129.6 309 129.6" class="li"/>
<path d="M247.5 139.8C259.52 139.8 253.97 140.6 266 140.6" class="li"/>
<path d="M248 164.2C259.7 164.2 254.3 144.8 266 144.8" class="li"/>
<path d="M293 136.4C303.4 136.4 298.6 133.4 309 133.4" class="li"/>
<path d="M248 164.2C259.38 164.2 254.12 162.2 265.5 162.2" class="li"/>
<path d="M247.2 89.2C259.09 89.2 253.6 166.4 265.5 166.4" class="li"/>
<path d="M292.5 158C303.23 158 298.27 137.4 309 137.4" class="li"/>
<path d="M336.2 105.8C349.79 105.8 343.51 118.3 357.1 118.3" class="li"/>
<path d="M251.6 205.6C263.82 205.6 258.18 213.8 270.4 213.8" class="li"/>
<path d="M251.6 230.6C263.82 230.6 258.18 218 270.4 218" class="li"/>
<path d="M297.4 209.6C307.54 209.6 302.86 241.2 313 241.2" class="li"/>
<path d="M251.6 230.6C263.56 230.6 258.04 234.4 270 234.4" class="li"/>
<path d="M251.7 255.9C263.59 255.9 258.11 238.6 270 238.6" class="li"/>
<path d="M297 230.2C307.4 230.2 302.6 245.3 313 245.3" class="li"/>
<path d="M251.7 255.9C263.53 255.9 258.07 256.3 269.9 256.3" class="li"/>
<path d="M252 280.3C263.63 280.3 258.26 260.5 269.9 260.5" class="li"/>
<path d="M296.9 252.1C307.37 252.1 302.53 249.1 313 249.1" class="li"/>
<path d="M252 280.3C263.63 280.3 258.26 277.9 269.9 277.9" class="li"/>
<path d="M251.6 205.6C263.5 205.6 258 282.1 269.9 282.1" class="li"/>
<path d="M296.9 273.7C307.37 273.7 302.53 253.1 313 253.1" class="li"/>
<path d="M340.2 221.5C353.65 221.5 347.44 234.5 360.9 234.5" class="li"/>
<path d="M252.3 306.2C264.45 306.2 258.84 313.3 271 313.3" class="li"/>
<path d="M252.5 330.8C264.52 330.8 258.98 317.5 271 317.5" class="li"/>
<path d="M298 309.1C308.4 309.1 303.6 341.9 314 341.9" class="li"/>
<path d="M252.5 330.8C264.52 330.8 258.98 334.6 271 334.6" class="li"/>
<path d="M252.7 355.7C264.59 355.7 259.11 338.8 271 338.8" class="li"/>
<path d="M298 330.4C308.4 330.4 303.6 346 314 346" class="li"/>
<path d="M252.7 355.7C264.59 355.7 259.11 356.3 271 356.3" class="li"/>
<path d="M253.2 380.1C264.77 380.1 259.43 360.5 271 360.5" class="li"/>
<path d="M298 352.1C308.4 352.1 303.6 349.8 314 349.8" class="li"/>
<path d="M253.2 380.1C264.77 380.1 259.43 378.1 271 378.1" class="li"/>
<path d="M252.3 306.2C264.45 306.2 258.84 382.3 271 382.3" class="li"/>
<path d="M298 373.9C308.4 373.9 303.6 353.8 314 353.8" class="li"/>
<path d="M341.2 322.2C354.92 322.2 348.58 334.4 362.3 334.4" class="li"/>
<path d="M252.6 406.7C264.75 406.7 259.14 414.7 271.3 414.7" class="li"/>
<path d="M252.7 432C264.79 432 259.21 418.9 271.3 418.9" class="li"/>
<path d="M298.3 410.5C308.76 410.5 303.94 442.7 314.4 442.7" class="li"/>
<path d="M252.7 432C264.79 432 259.21 435.3 271.3 435.3" class="li"/>
<path d="M252.8 456.9C264.82 456.9 259.27 439.5 271.3 439.5" class="li"/>
<path d="M298.3 431.1C308.76 431.1 303.94 446.8 314.4 446.8" class="li"/>
<path d="M252.8 456.9C264.82 456.9 259.27 457.3 271.3 457.3" class="li"/>
<path d="M253.2 481.6C264.97 481.6 259.53 461.5 271.3 461.5" class="li"/>
<path d="M298.3 453.1C308.76 453.1 303.94 450.6 314.4 450.6" class="li"/>
<path d="M253.2 481.6C264.97 481.6 259.53 479 271.3 479" class="li"/>
<path d="M252.6 406.7C264.75 406.7 259.14 483.2 271.3 483.2" class="li"/>
<path d="M298.3 474.8C308.76 474.8 303.94 454.6 314.4 454.6" class="li"/>
<path d="M341.6 423C355.06 423 348.84 435.4 362.3 435.4" class="li"/>
<path d="M384.1 113.5C417.25 113.5 401.95 287.6 435.1 287.6" class="li"/>
<path d="M387.9 229.7C398.5 229.7 393.6 340.2 404.2 340.2" class="li"/>
<path d="M389.3 329.6C398.99 329.6 394.51 344 404.2 344" class="li"/>
<path d="M389.3 430.6C398.99 430.6 394.51 347.8 404.2 347.8" class="li"/>
<path d="M390 174.2C414.7 174.2 403.3 172.5 428 172.5" class="li"/>
<path d="M390 178.5C414.7 178.5 403.3 176.4 428 176.4" class="li"/>
<path d="M390 182.7C414.7 182.7 403.3 180.1 428 180.1" class="li"/>
<path d="M390 182.7C409.18 182.7 400.32 127.3 419.5 127.3" class="li"/>
<path d="M461.8 283.1C472.53 283.1 467.57 279.3 478.3 279.3" class="li"/>
<path d="M461.8 283.1C509.7 283.1 487.6 326.3 535.5 326.3" class="li"/>
<path d="M461.8 283.1C478.38 283.1 419.73 364.4 436.3 364.4" class="li"/>
<path d="M431.7 320C433.91 320 432.89 291.5 435.1 291.5" class="li"/>
<path d="M431.7 320C499.17 320 468.03 330.2 535.5 330.2" class="li"/>
<path d="M431.7 320C442.69 320 437.62 385.7 448.6 385.7" class="li"/>
<path d="M505.7 266.1C518.25 266.1 512.46 267.7 525 267.7" class="li"/>
<path d="M505.7 274.5C518.25 274.5 512.46 276 525 276" class="li"/>
<path d="M562.1 321.8C578.41 321.8 570.88 299.1 587.2 299.1" class="li"/>
<path d="M562.1 321.8C595.32 321.8 579.99 362.4 613.2 362.4" class="li"/>
<path d="M562.1 321.8C735.26 321.8 655.34 336.4 828.5 336.4" class="li"/>
<path d="M640.6 357.6C644.95 357.6 642.95 361.6 647.3 361.6" class="li"/>
<path d="M855.1 331.9C875.38 331.9 866.02 333.6 886.3 333.6" class="li"/>
<path d="M848.6 421.6C861.67 421.6 815.43 340.3 828.5 340.3" class="li"/>
<path d="M760.2 383.9C769.95 383.9 765.45 419.2 775.2 419.2" class="li"/>
<path d="M752.3 414C767.19 414 760.31 423 775.2 423" class="li"/>
<path d="M752.4 444.7C767.22 444.7 760.38 427.2 775.2 427.2" class="li"/>
<path d="M751.6 495.6C767.46 495.6 760.14 479.4 776 479.4" class="li"/>
<path d="M747.9 522.9C766.16 522.9 757.74 483.2 776 483.2" class="li"/>
<path d="M746.2 552.9C765.57 552.9 756.63 487.4 776 487.4" class="li"/>
<path d="M802.5 399.1C828.56 399.1 816.53 382.3 842.6 382.3" class="li"/>
<path d="M802.5 399.1C815.17 399.1 809.33 426.1 822 426.1" class="li"/>
<path d="M802.5 459.3C815.17 459.3 809.33 430 822 430" class="li"/>
<path d="M802.5 459.3C810.56 459.3 806.84 483.3 814.9 483.3" class="li"/>
<path d="M848.6 421.6C860.95 421.6 855.25 401.6 867.6 401.6" class="li"/>
<path d="M848.6 421.6C908.01 421.6 880.59 415.4 940 415.4" class="li"/>
<path d="M848.6 421.6C862.12 421.6 855.88 456.9 869.4 456.9" class="li"/>
<path d="M966.9 410.6C974.96 410.6 971.24 409.5 979.3 409.5" class="li"/>
<path d="M896 452.1C906.01 452.1 901.39 432.9 911.4 432.9" class="li"/></g>
<g><rect x="219.2" y="81.7" width="28.8" height="24" rx="1.6" fill="rgba(0,0,0,0.6)"/>
<rect x="220" y="82.2" width="27.2" height="22.5" rx="1" fill="#3f3f3f"/>
<path d="M220 83.2 a1 1 0 0 1 1 -1 h25.2 a1 1 0 0 1 1 1 v3.5 h-27.2 z" fill="#9f313e"/>
<path d="M221.8 84.25 l1 0 l-0.5 0.9z" fill="#ddd"/>
<text x="223.8" y="85.45" font-size="2.9" fill="#f6e6e8" font-weight="bold" opacity="0.62" textLength="18" lengthAdjust="spacingAndGlyphs">Combine Vectors</text>
<text x="236.8" y="90.05" font-size="2.5" fill="#e8e8e8" font-weight="bold" textLength="7.4" lengthAdjust="spacingAndGlyphs">Vectors</text>
<rect x="222.9" y="92.75" width="21.4" height="2.5" rx="1" fill="#555555"/>
<text x="224.6" y="94.8" font-size="2.3" fill="#e8e8e8" font-weight="bold" textLength="1.4" lengthAdjust="spacingAndGlyphs">x</text>
<text x="236" y="94.8" font-size="2.3" fill="#e8e8e8" font-weight="bold" textLength="5" lengthAdjust="spacingAndGlyphs">0.00</text>
<text x="242.2" y="94.7" font-size="2.0" fill="#e8e8e8" opacity="0.6">›</text>
<rect x="222.9" y="96.75" width="21.4" height="2.5" rx="1" fill="#555555"/>
<text x="224.6" y="98.8" font-size="2.3" fill="#e8e8e8" font-weight="bold" textLength="1.4" lengthAdjust="spacingAndGlyphs">y</text>
<text x="236" y="98.8" font-size="2.3" fill="#e8e8e8" font-weight="bold" textLength="5" lengthAdjust="spacingAndGlyphs">0.00</text>
<text x="242.2" y="98.7" font-size="2.0" fill="#e8e8e8" opacity="0.6">›</text>
<rect x="222.9" y="100.85" width="21.4" height="2.5" rx="1" fill="#555555"/>
<text x="224.6" y="102.9" font-size="2.3" fill="#e8e8e8" font-weight="bold" textLength="1.4" lengthAdjust="spacingAndGlyphs">z</text>
<text x="236" y="102.9" font-size="2.3" fill="#e8e8e8" font-weight="bold" textLength="5" lengthAdjust="spacingAndGlyphs">0.00</text>
<text x="242.2" y="102.8" font-size="2.0" fill="#e8e8e8" opacity="0.6">›</text>
<circle cx="247.2" cy="89.2" r="0.95" fill="#62c462" stroke="#111" stroke-width="0.4"/>
<circle cx="220" cy="94" r="0.95" fill="#62c462" stroke="#111" stroke-width="0.4"/>
<circle cx="220" cy="98" r="0.95" fill="#62c462" stroke="#111" stroke-width="0.4"/>
<circle cx="220" cy="102.1" r="0.95" fill="#62c462" stroke="#111" stroke-width="0.4"/>
<rect x="265.4" y="85.5" width="28.6" height="20" rx="1.6" fill="rgba(0,0,0,0.6)"/>
<rect x="266.2" y="86" width="27" height="18.5" rx="1" fill="#3f3f3f"/>
<path d="M266.2 87 a1 1 0 0 1 1 -1 h25 a1 1 0 0 1 1 1 v3.3 h-27 z" fill="#9f313e"/>
<path d="M268 87.95 l1 0 l-0.5 0.9z" fill="#ddd"/>
<text x="270" y="89.15" font-size="2.9" fill="#f6e6e8" font-weight="bold" opacity="0.62" textLength="21" lengthAdjust="spacingAndGlyphs">Polyline Connection</text>
<text x="285" y="93.95" font-size="2.5" fill="#e8e8e8" font-weight="bold" textLength="5" lengthAdjust="spacingAndGlyphs">Edges</text>
<text x="268.3" y="98.15" font-size="2.5" fill="#e8e8e8" font-weight="bold" textLength="11.4" lengthAdjust="spacingAndGlyphs">Num Verts</text>
<text x="268.3" y="102.35" font-size="2.5" fill="#e8e8e8" font-weight="bold" textLength="9.6" lengthAdjust="spacingAndGlyphs">Dist Verts</text>
<circle cx="293.2" cy="93.1" r="0.95" fill="#62c462" stroke="#111" stroke-width="0.4"/>
<circle cx="266.2" cy="97.3" r="0.95" fill="#62c462" stroke="#111" stroke-width="0.4"/>
<circle cx="266.2" cy="101.5" r="0.95" fill="#62c462" stroke="#111" stroke-width="0.4"/>
<rect x="219.2" y="106.8" width="28.8" height="24" rx="1.6" fill="rgba(0,0,0,0.6)"/>
<rect x="220" y="107.3" width="27.2" height="22.5" rx="1" fill="#3f3f3f"/>
<path d="M220 108.3 a1 1 0 0 1 1 -1 h25.2 a1 1 0 0 1 1 1 v3.5 h-27.2 z" fill="#9f313e"/>
<path d="M221.8 109.35 l1 0 l-0.5 0.9z" fill="#ddd"/>
<text x="223.8" y="110.55" font-size="2.9" fill="#f6e6e8" font-weight="bold" opacity="0.62" textLength="18" lengthAdjust="spacingAndGlyphs">Combine Vectors</text>
<text x="236.8" y="115.15" font-size="2.5" fill="#e8e8e8" font-weight="bold" textLength="7.4" lengthAdjust="spacingAndGlyphs">Vectors</text>
<rect x="222.9" y="117.85" width="21.4" height="2.5" rx="1" fill="#555555"/>
<text x="224.6" y="119.9" font-size="2.3" fill="#e8e8e8" font-weight="bold" textLength="1.4" lengthAdjust="spacingAndGlyphs">x</text>
<text x="236" y="119.9" font-size="2.3" fill="#e8e8e8" font-weight="bold" textLength="5" lengthAdjust="spacingAndGlyphs">0.00</text>
<text x="242.2" y="119.8" font-size="2.0" fill="#e8e8e8" opacity="0.6">›</text>
<rect x="222.9" y="121.85" width="21.4" height="2.5" rx="1" fill="#555555"/>
<text x="224.6" y="123.9" font-size="2.3" fill="#e8e8e8" font-weight="bold" textLength="1.4" lengthAdjust="spacingAndGlyphs">y</text>
<text x="236" y="123.9" font-size="2.3" fill="#e8e8e8" font-weight="bold" textLength="5" lengthAdjust="spacingAndGlyphs">0.00</text>
<text x="242.2" y="123.8" font-size="2.0" fill="#e8e8e8" opacity="0.6">›</text>
<rect x="222.9" y="125.95" width="21.4" height="2.5" rx="1" fill="#555555"/>
<text x="224.6" y="128" font-size="2.3" fill="#e8e8e8" font-weight="bold" textLength="1.4" lengthAdjust="spacingAndGlyphs">z</text>
<text x="236" y="128" font-size="2.3" fill="#e8e8e8" font-weight="bold" textLength="5" lengthAdjust="spacingAndGlyphs">0.00</text>
<text x="242.2" y="127.9" font-size="2.0" fill="#e8e8e8" opacity="0.6">›</text>
<circle cx="247.2" cy="114.3" r="0.95" fill="#62c462" stroke="#111" stroke-width="0.4"/>
<circle cx="220" cy="119.1" r="0.95" fill="#62c462" stroke="#111" stroke-width="0.4"/>
<circle cx="220" cy="123.1" r="0.95" fill="#62c462" stroke="#111" stroke-width="0.4"/>
<circle cx="220" cy="127.2" r="0.95" fill="#62c462" stroke="#111" stroke-width="0.4"/>
<rect x="265.2" y="106.5" width="28.6" height="20" rx="1.6" fill="rgba(0,0,0,0.6)"/>
<rect x="266" y="107" width="27" height="18.5" rx="1" fill="#3f3f3f"/>
<path d="M266 108 a1 1 0 0 1 1 -1 h25 a1 1 0 0 1 1 1 v3.3 h-27 z" fill="#9f313e"/>
<path d="M267.8 108.95 l1 0 l-0.5 0.9z" fill="#ddd"/>
<text x="269.8" y="110.15" font-size="2.9" fill="#f6e6e8" font-weight="bold" opacity="0.62" textLength="21" lengthAdjust="spacingAndGlyphs">Polyline Connection</text>
<text x="284.8" y="114.95" font-size="2.5" fill="#e8e8e8" font-weight="bold" textLength="5" lengthAdjust="spacingAndGlyphs">Edges</text>
<text x="268.1" y="119.15" font-size="2.5" fill="#e8e8e8" font-weight="bold" textLength="11.4" lengthAdjust="spacingAndGlyphs">Num Verts</text>
<text x="268.1" y="123.35" font-size="2.5" fill="#e8e8e8" font-weight="bold" textLength="9.6" lengthAdjust="spacingAndGlyphs">Dist Verts</text>
<circle cx="293" cy="114.1" r="0.95" fill="#62c462" stroke="#111" stroke-width="0.4"/>
<circle cx="266" cy="118.3" r="0.95" fill="#62c462" stroke="#111" stroke-width="0.4"/>
<circle cx="266" cy="122.5" r="0.95" fill="#62c462" stroke="#111" stroke-width="0.4"/>
<rect x="219.5" y="132.3" width="28.8" height="24" rx="1.6" fill="rgba(0,0,0,0.6)"/>
<rect x="220.3" y="132.8" width="27.2" height="22.5" rx="1" fill="#3f3f3f"/>
<path d="M220.3 133.8 a1 1 0 0 1 1 -1 h25.2 a1 1 0 0 1 1 1 v3.5 h-27.2 z" fill="#9f313e"/>
<path d="M222.1 134.85 l1 0 l-0.5 0.9z" fill="#ddd"/>
<text x="224.1" y="136.05" font-size="2.9" fill="#f6e6e8" font-weight="bold" opacity="0.62" textLength="18" lengthAdjust="spacingAndGlyphs">Combine Vectors</text>
<text x="237.1" y="140.65" font-size="2.5" fill="#e8e8e8" font-weight="bold" textLength="7.4" lengthAdjust="spacingAndGlyphs">Vectors</text>
<rect x="223.2" y="143.35" width="21.4" height="2.5" rx="1" fill="#555555"/>
<text x="224.9" y="145.4" font-size="2.3" fill="#e8e8e8" font-weight="bold" textLength="1.4" lengthAdjust="spacingAndGlyphs">x</text>
<text x="236.3" y="145.4" font-size="2.3" fill="#e8e8e8" font-weight="bold" textLength="5" lengthAdjust="spacingAndGlyphs">0.00</text>
<text x="242.5" y="145.3" font-size="2.0" fill="#e8e8e8" opacity="0.6">›</text>
<rect x="223.2" y="147.35" width="21.4" height="2.5" rx="1" fill="#555555"/>
<text x="224.9" y="149.4" font-size="2.3" fill="#e8e8e8" font-weight="bold" textLength="1.4" lengthAdjust="spacingAndGlyphs">y</text>
<text x="236.3" y="149.4" font-size="2.3" fill="#e8e8e8" font-weight="bold" textLength="5" lengthAdjust="spacingAndGlyphs">0.00</text>
<text x="242.5" y="149.3" font-size="2.0" fill="#e8e8e8" opacity="0.6">›</text>
<rect x="223.2" y="151.45" width="21.4" height="2.5" rx="1" fill="#555555"/>
<text x="224.9" y="153.5" font-size="2.3" fill="#e8e8e8" font-weight="bold" textLength="1.4" lengthAdjust="spacingAndGlyphs">z</text>
<text x="236.3" y="153.5" font-size="2.3" fill="#e8e8e8" font-weight="bold" textLength="5" lengthAdjust="spacingAndGlyphs">0.00</text>
<text x="242.5" y="153.4" font-size="2.0" fill="#e8e8e8" opacity="0.6">›</text>
<circle cx="247.5" cy="139.8" r="0.95" fill="#62c462" stroke="#111" stroke-width="0.4"/>
<circle cx="220.3" cy="144.6" r="0.95" fill="#62c462" stroke="#111" stroke-width="0.4"/>
<circle cx="220.3" cy="148.6" r="0.95" fill="#62c462" stroke="#111" stroke-width="0.4"/>
<circle cx="220.3" cy="152.7" r="0.95" fill="#62c462" stroke="#111" stroke-width="0.4"/>
<rect x="265.2" y="128.8" width="28.6" height="20" rx="1.6" fill="rgba(0,0,0,0.6)"/>
<rect x="266" y="129.3" width="27" height="18.5" rx="1" fill="#3f3f3f"/>
<path d="M266 130.3 a1 1 0 0 1 1 -1 h25 a1 1 0 0 1 1 1 v3.3 h-27 z" fill="#9f313e"/>
<path d="M267.8 131.25 l1 0 l-0.5 0.9z" fill="#ddd"/>
<text x="269.8" y="132.45" font-size="2.9" fill="#f6e6e8" font-weight="bold" opacity="0.62" textLength="21" lengthAdjust="spacingAndGlyphs">Polyline Connection</text>
<text x="284.8" y="137.25" font-size="2.5" fill="#e8e8e8" font-weight="bold" textLength="5" lengthAdjust="spacingAndGlyphs">Edges</text>
<text x="268.1" y="141.45" font-size="2.5" fill="#e8e8e8" font-weight="bold" textLength="11.4" lengthAdjust="spacingAndGlyphs">Num Verts</text>
<text x="268.1" y="145.65" font-size="2.5" fill="#e8e8e8" font-weight="bold" textLength="9.6" lengthAdjust="spacingAndGlyphs">Dist Verts</text>
<circle cx="293" cy="136.4" r="0.95" fill="#62c462" stroke="#111" stroke-width="0.4"/>
<circle cx="266" cy="140.6" r="0.95" fill="#62c462" stroke="#111" stroke-width="0.4"/>
<circle cx="266" cy="144.8" r="0.95" fill="#62c462" stroke="#111" stroke-width="0.4"/>
<rect x="220" y="156.7" width="28.8" height="24" rx="1.6" fill="rgba(0,0,0,0.6)"/>
<rect x="220.8" y="157.2" width="27.2" height="22.5" rx="1" fill="#3f3f3f"/>
<path d="M220.8 158.2 a1 1 0 0 1 1 -1 h25.2 a1 1 0 0 1 1 1 v3.5 h-27.2 z" fill="#9f313e"/>
<path d="M222.6 159.25 l1 0 l-0.5 0.9z" fill="#ddd"/>
<text x="224.6" y="160.45" font-size="2.9" fill="#f6e6e8" font-weight="bold" opacity="0.62" textLength="18" lengthAdjust="spacingAndGlyphs">Combine Vectors</text>
<text x="237.6" y="165.05" font-size="2.5" fill="#e8e8e8" font-weight="bold" textLength="7.4" lengthAdjust="spacingAndGlyphs">Vectors</text>
<rect x="223.7" y="167.75" width="21.4" height="2.5" rx="1" fill="#555555"/>
<text x="225.4" y="169.8" font-size="2.3" fill="#e8e8e8" font-weight="bold" textLength="1.4" lengthAdjust="spacingAndGlyphs">x</text>
<text x="236.8" y="169.8" font-size="2.3" fill="#e8e8e8" font-weight="bold" textLength="5" lengthAdjust="spacingAndGlyphs">0.00</text>
<text x="243" y="169.7" font-size="2.0" fill="#e8e8e8" opacity="0.6">›</text>
<rect x="223.7" y="171.75" width="21.4" height="2.5" rx="1" fill="#555555"/>
<text x="225.4" y="173.8" font-size="2.3" fill="#e8e8e8" font-weight="bold" textLength="1.4" lengthAdjust="spacingAndGlyphs">y</text>
<text x="236.8" y="173.8" font-size="2.3" fill="#e8e8e8" font-weight="bold" textLength="5" lengthAdjust="spacingAndGlyphs">0.00</text>
<text x="243" y="173.7" font-size="2.0" fill="#e8e8e8" opacity="0.6">›</text>
<rect x="223.7" y="175.85" width="21.4" height="2.5" rx="1" fill="#555555"/>
<text x="225.4" y="177.9" font-size="2.3" fill="#e8e8e8" font-weight="bold" textLength="1.4" lengthAdjust="spacingAndGlyphs">z</text>
<text x="236.8" y="177.9" font-size="2.3" fill="#e8e8e8" font-weight="bold" textLength="5" lengthAdjust="spacingAndGlyphs">0.00</text>
<text x="243" y="177.8" font-size="2.0" fill="#e8e8e8" opacity="0.6">›</text>
<circle cx="248" cy="164.2" r="0.95" fill="#62c462" stroke="#111" stroke-width="0.4"/>
<circle cx="220.8" cy="169" r="0.95" fill="#62c462" stroke="#111" stroke-width="0.4"/>
<circle cx="220.8" cy="173" r="0.95" fill="#62c462" stroke="#111" stroke-width="0.4"/>
<circle cx="220.8" cy="177.1" r="0.95" fill="#62c462" stroke="#111" stroke-width="0.4"/>
<rect x="264.7" y="150.4" width="28.6" height="20" rx="1.6" fill="rgba(0,0,0,0.6)"/>
<rect x="265.5" y="150.9" width="27" height="18.5" rx="1" fill="#3f3f3f"/>
<path d="M265.5 151.9 a1 1 0 0 1 1 -1 h25 a1 1 0 0 1 1 1 v3.3 h-27 z" fill="#9f313e"/>
<path d="M267.3 152.85 l1 0 l-0.5 0.9z" fill="#ddd"/>
<text x="269.3" y="154.05" font-size="2.9" fill="#f6e6e8" font-weight="bold" opacity="0.62" textLength="21" lengthAdjust="spacingAndGlyphs">Polyline Connection</text>
<text x="284.3" y="158.85" font-size="2.5" fill="#e8e8e8" font-weight="bold" textLength="5" lengthAdjust="spacingAndGlyphs">Edges</text>
<text x="267.6" y="163.05" font-size="2.5" fill="#e8e8e8" font-weight="bold" textLength="11.4" lengthAdjust="spacingAndGlyphs">Num Verts</text>
<text x="267.6" y="167.25" font-size="2.5" fill="#e8e8e8" font-weight="bold" textLength="9.6" lengthAdjust="spacingAndGlyphs">Dist Verts</text>
<circle cx="292.5" cy="158" r="0.95" fill="#62c462" stroke="#111" stroke-width="0.4"/>
<circle cx="265.5" cy="162.2" r="0.95" fill="#62c462" stroke="#111" stroke-width="0.4"/>
<circle cx="265.5" cy="166.4" r="0.95" fill="#62c462" stroke="#111" stroke-width="0.4"/>
<rect x="308.2" y="98.3" width="28.8" height="47.3" rx="1.6" fill="rgba(0,0,0,0.6)"/>
<rect x="309" y="98.8" width="27.2" height="45.8" rx="1" fill="#3f3f3f"/>
<path d="M309 99.8 a1 1 0 0 1 1 -1 h25.2 a1 1 0 0 1 1 1 v3.3 h-27.2 z" fill="#9f313e"/>
<path d="M310.8 100.75 l1 0 l-0.5 0.9z" fill="#ddd"/>
<text x="312.8" y="101.95" font-size="2.9" fill="#f6e6e8" font-weight="bold" opacity="0.62" textLength="11.5" lengthAdjust="spacingAndGlyphs">List Join(1)</text>
<path d="M331.6 99.5 l0.9 0 l0 1.9 l1.9 0 l0.5 -1.2 l0.4 0 l-0.2 2.1 l-3.5 0 z" fill="#f2f2f2"/>
<text x="327.1" y="106.65" font-size="2.5" fill="#e8e8e8" font-weight="bold" textLength="5.8" lengthAdjust="spacingAndGlyphs">data</text>
<rect x="312" y="110" width="1.4" height="1.4" rx="0.3" fill="#5a5a5a"/>
<text x="314.5" y="111.55" font-size="2.5" fill="#e8e8e8" font-weight="bold" textLength="6.2" lengthAdjust="spacingAndGlyphs">Flatten</text>
<text x="314.4" y="116.65" font-size="2.5" fill="#e8e8e8" font-weight="bold" textLength="2.8" lengthAdjust="spacingAndGlyphs">Fill</text>
<text x="326.6" y="116.65" font-size="2.5" fill="#e8e8e8" font-weight="bold" textLength="5.2" lengthAdjust="spacingAndGlyphs">Wrap</text>
<rect x="312" y="119.8" width="21.2" height="2.5" rx="1" fill="#555555"/>
<text x="312.6" y="121.9" font-size="2.3" fill="#e8e8e8" font-weight="bold" textLength="8" lengthAdjust="spacingAndGlyphs">JoinLevel</text>
<text x="330" y="121.9" font-size="2.3" fill="#e8e8e8" font-weight="bold">1</text>
<text x="311.2" y="126.35" font-size="2.5" fill="#e8e8e8" font-weight="bold" textLength="4" lengthAdjust="spacingAndGlyphs">data</text>
<text x="311.2" y="130.45" font-size="2.5" fill="#e8e8e8" font-weight="bold" textLength="5" lengthAdjust="spacingAndGlyphs">data 1</text>
<text x="311.2" y="134.25" font-size="2.5" fill="#e8e8e8" font-weight="bold" textLength="5" lengthAdjust="spacingAndGlyphs">data 2</text>
<text x="311.2" y="138.25" font-size="2.5" fill="#e8e8e8" font-weight="bold" textLength="5" lengthAdjust="spacingAndGlyphs">data 3</text>
<text x="311.2" y="142.45" font-size="2.5" fill="#e8e8e8" font-weight="bold" textLength="5" lengthAdjust="spacingAndGlyphs">data 4</text>
<circle cx="336.2" cy="105.8" r="0.95" fill="#62c462" stroke="#111" stroke-width="0.4"/>
<circle cx="309" cy="125.5" r="0.95" fill="#62c462" stroke="#111" stroke-width="0.4"/>
<circle cx="309" cy="129.6" r="0.95" fill="#62c462" stroke="#111" stroke-width="0.4"/>
<circle cx="309" cy="133.4" r="0.95" fill="#62c462" stroke="#111" stroke-width="0.4"/>
<circle cx="309" cy="137.4" r="0.95" fill="#62c462" stroke="#111" stroke-width="0.4"/>
<circle cx="309" cy="141.6" r="0.95" fill="#62c462" stroke="#111" stroke-width="0.4"/>
<rect x="356.3" y="106.4" width="28.6" height="15.3" rx="1.6" fill="rgba(0,0,0,0.6)"/>
<rect x="357.1" y="106.9" width="27" height="13.8" rx="1" fill="#3f3f3f"/>
<path d="M357.1 107.9 a1 1 0 0 1 1 -1 h25 a1 1 0 0 1 1 1 v3 h-27 z" fill="#9f313e"/>
<path d="M358.9 108.7 l1 0 l-0.5 0.9z" fill="#ddd"/>
<text x="360.9" y="109.9" font-size="2.9" fill="#f6e6e8" font-weight="bold" opacity="0.62" textLength="10.3" lengthAdjust="spacingAndGlyphs">Mesh Edges</text>
<text x="376.1" y="114.35" font-size="2.5" fill="#e8e8e8" font-weight="bold" textLength="4.9" lengthAdjust="spacingAndGlyphs">Verts</text>
<text x="359.1" y="119.15" font-size="2.5" fill="#e8e8e8" font-weight="bold" textLength="6" lengthAdjust="spacingAndGlyphs">Object</text>
<circle cx="384.1" cy="113.5" r="0.95" fill="#62c462" stroke="#111" stroke-width="0.4"/>
<circle cx="357.1" cy="118.3" r="0.95" fill="#62c462" stroke="#111" stroke-width="0.4"/>
<rect x="223.6" y="198.1" width="28.8" height="24" rx="1.6" fill="rgba(0,0,0,0.6)"/>
<rect x="224.4" y="198.6" width="27.2" height="22.5" rx="1" fill="#3f3f3f"/>
<path d="M224.4 199.6 a1 1 0 0 1 1 -1 h25.2 a1 1 0 0 1 1 1 v3.5 h-27.2 z" fill="#9f313e"/>
<path d="M226.2 200.65 l1 0 l-0.5 0.9z" fill="#ddd"/>
<text x="228.2" y="201.85" font-size="2.9" fill="#f6e6e8" font-weight="bold" opacity="0.62" textLength="18" lengthAdjust="spacingAndGlyphs">Combine Vectors</text>
<text x="241.2" y="206.45" font-size="2.5" fill="#e8e8e8" font-weight="bold" textLength="7.4" lengthAdjust="spacingAndGlyphs">Vectors</text>
<rect x="227.3" y="209.15" width="21.4" height="2.5" rx="1" fill="#555555"/>
<text x="229" y="211.2" font-size="2.3" fill="#e8e8e8" font-weight="bold" textLength="1.4" lengthAdjust="spacingAndGlyphs">x</text>
<text x="240.4" y="211.2" font-size="2.3" fill="#e8e8e8" font-weight="bold" textLength="5" lengthAdjust="spacingAndGlyphs">0.00</text>
<text x="246.6" y="211.1" font-size="2.0" fill="#e8e8e8" opacity="0.6">›</text>
<rect x="227.3" y="213.15" width="21.4" height="2.5" rx="1" fill="#555555"/>
<text x="229" y="215.2" font-size="2.3" fill="#e8e8e8" font-weight="bold" textLength="1.4" lengthAdjust="spacingAndGlyphs">y</text>
<text x="240.4" y="215.2" font-size="2.3" fill="#e8e8e8" font-weight="bold" textLength="5" lengthAdjust="spacingAndGlyphs">0.00</text>
<text x="246.6" y="215.1" font-size="2.0" fill="#e8e8e8" opacity="0.6">›</text>
<rect x="227.3" y="217.25" width="21.4" height="2.5" rx="1" fill="#555555"/>
<text x="229" y="219.3" font-size="2.3" fill="#e8e8e8" font-weight="bold" textLength="1.4" lengthAdjust="spacingAndGlyphs">z</text>
<text x="240.4" y="219.3" font-size="2.3" fill="#e8e8e8" font-weight="bold" textLength="5" lengthAdjust="spacingAndGlyphs">0.00</text>
<text x="246.6" y="219.2" font-size="2.0" fill="#e8e8e8" opacity="0.6">›</text>
<circle cx="251.6" cy="205.6" r="0.95" fill="#62c462" stroke="#111" stroke-width="0.4"/>
<circle cx="224.4" cy="210.4" r="0.95" fill="#62c462" stroke="#111" stroke-width="0.4"/>
<circle cx="224.4" cy="214.4" r="0.95" fill="#62c462" stroke="#111" stroke-width="0.4"/>
<circle cx="224.4" cy="218.5" r="0.95" fill="#62c462" stroke="#111" stroke-width="0.4"/>
<rect x="269.6" y="202" width="28.6" height="20" rx="1.6" fill="rgba(0,0,0,0.6)"/>
<rect x="270.4" y="202.5" width="27" height="18.5" rx="1" fill="#3f3f3f"/>
<path d="M270.4 203.5 a1 1 0 0 1 1 -1 h25 a1 1 0 0 1 1 1 v3.3 h-27 z" fill="#9f313e"/>
<path d="M272.2 204.45 l1 0 l-0.5 0.9z" fill="#ddd"/>
<text x="274.2" y="205.65" font-size="2.9" fill="#f6e6e8" font-weight="bold" opacity="0.62" textLength="21" lengthAdjust="spacingAndGlyphs">Polyline Connection</text>
<text x="289.2" y="210.45" font-size="2.5" fill="#e8e8e8" font-weight="bold" textLength="5" lengthAdjust="spacingAndGlyphs">Edges</text>
<text x="272.5" y="214.65" font-size="2.5" fill="#e8e8e8" font-weight="bold" textLength="11.4" lengthAdjust="spacingAndGlyphs">Num Verts</text>
<text x="272.5" y="218.85" font-size="2.5" fill="#e8e8e8" font-weight="bold" textLength="9.6" lengthAdjust="spacingAndGlyphs">Dist Verts</text>
<circle cx="297.4" cy="209.6" r="0.95" fill="#62c462" stroke="#111" stroke-width="0.4"/>
<circle cx="270.4" cy="213.8" r="0.95" fill="#62c462" stroke="#111" stroke-width="0.4"/>
<circle cx="270.4" cy="218" r="0.95" fill="#62c462" stroke="#111" stroke-width="0.4"/>
<rect x="223.6" y="223.1" width="28.8" height="24" rx="1.6" fill="rgba(0,0,0,0.6)"/>
<rect x="224.4" y="223.6" width="27.2" height="22.5" rx="1" fill="#3f3f3f"/>
<path d="M224.4 224.6 a1 1 0 0 1 1 -1 h25.2 a1 1 0 0 1 1 1 v3.5 h-27.2 z" fill="#9f313e"/>
<path d="M226.2 225.65 l1 0 l-0.5 0.9z" fill="#ddd"/>
<text x="228.2" y="226.85" font-size="2.9" fill="#f6e6e8" font-weight="bold" opacity="0.62" textLength="18" lengthAdjust="spacingAndGlyphs">Combine Vectors</text>
<text x="241.2" y="231.45" font-size="2.5" fill="#e8e8e8" font-weight="bold" textLength="7.4" lengthAdjust="spacingAndGlyphs">Vectors</text>
<rect x="227.3" y="234.15" width="21.4" height="2.5" rx="1" fill="#555555"/>
<text x="229" y="236.2" font-size="2.3" fill="#e8e8e8" font-weight="bold" textLength="1.4" lengthAdjust="spacingAndGlyphs">x</text>
<text x="240.4" y="236.2" font-size="2.3" fill="#e8e8e8" font-weight="bold" textLength="5" lengthAdjust="spacingAndGlyphs">0.00</text>
<text x="246.6" y="236.1" font-size="2.0" fill="#e8e8e8" opacity="0.6">›</text>
<rect x="227.3" y="238.15" width="21.4" height="2.5" rx="1" fill="#555555"/>
<text x="229" y="240.2" font-size="2.3" fill="#e8e8e8" font-weight="bold" textLength="1.4" lengthAdjust="spacingAndGlyphs">y</text>
<text x="240.4" y="240.2" font-size="2.3" fill="#e8e8e8" font-weight="bold" textLength="5" lengthAdjust="spacingAndGlyphs">0.00</text>
<text x="246.6" y="240.1" font-size="2.0" fill="#e8e8e8" opacity="0.6">›</text>
<rect x="227.3" y="242.25" width="21.4" height="2.5" rx="1" fill="#555555"/>
<text x="229" y="244.3" font-size="2.3" fill="#e8e8e8" font-weight="bold" textLength="1.4" lengthAdjust="spacingAndGlyphs">z</text>
<text x="240.4" y="244.3" font-size="2.3" fill="#e8e8e8" font-weight="bold" textLength="5" lengthAdjust="spacingAndGlyphs">0.00</text>
<text x="246.6" y="244.2" font-size="2.0" fill="#e8e8e8" opacity="0.6">›</text>
<circle cx="251.6" cy="230.6" r="0.95" fill="#62c462" stroke="#111" stroke-width="0.4"/>
<circle cx="224.4" cy="235.4" r="0.95" fill="#62c462" stroke="#111" stroke-width="0.4"/>
<circle cx="224.4" cy="239.4" r="0.95" fill="#62c462" stroke="#111" stroke-width="0.4"/>
<circle cx="224.4" cy="243.5" r="0.95" fill="#62c462" stroke="#111" stroke-width="0.4"/>
<rect x="269.2" y="222.6" width="28.6" height="20" rx="1.6" fill="rgba(0,0,0,0.6)"/>
<rect x="270" y="223.1" width="27" height="18.5" rx="1" fill="#3f3f3f"/>
<path d="M270 224.1 a1 1 0 0 1 1 -1 h25 a1 1 0 0 1 1 1 v3.3 h-27 z" fill="#9f313e"/>
<path d="M271.8 225.05 l1 0 l-0.5 0.9z" fill="#ddd"/>
<text x="273.8" y="226.25" font-size="2.9" fill="#f6e6e8" font-weight="bold" opacity="0.62" textLength="21" lengthAdjust="spacingAndGlyphs">Polyline Connection</text>
<text x="288.8" y="231.05" font-size="2.5" fill="#e8e8e8" font-weight="bold" textLength="5" lengthAdjust="spacingAndGlyphs">Edges</text>
<text x="272.1" y="235.25" font-size="2.5" fill="#e8e8e8" font-weight="bold" textLength="11.4" lengthAdjust="spacingAndGlyphs">Num Verts</text>
<text x="272.1" y="239.45" font-size="2.5" fill="#e8e8e8" font-weight="bold" textLength="9.6" lengthAdjust="spacingAndGlyphs">Dist Verts</text>
<circle cx="297" cy="230.2" r="0.95" fill="#62c462" stroke="#111" stroke-width="0.4"/>
<circle cx="270" cy="234.4" r="0.95" fill="#62c462" stroke="#111" stroke-width="0.4"/>
<circle cx="270" cy="238.6" r="0.95" fill="#62c462" stroke="#111" stroke-width="0.4"/>
<rect x="223.7" y="248.4" width="28.8" height="24" rx="1.6" fill="rgba(0,0,0,0.6)"/>
<rect x="224.5" y="248.9" width="27.2" height="22.5" rx="1" fill="#3f3f3f"/>
<path d="M224.5 249.9 a1 1 0 0 1 1 -1 h25.2 a1 1 0 0 1 1 1 v3.5 h-27.2 z" fill="#9f313e"/>
<path d="M226.3 250.95 l1 0 l-0.5 0.9z" fill="#ddd"/>
<text x="228.3" y="252.15" font-size="2.9" fill="#f6e6e8" font-weight="bold" opacity="0.62" textLength="18" lengthAdjust="spacingAndGlyphs">Combine Vectors</text>
<text x="241.3" y="256.75" font-size="2.5" fill="#e8e8e8" font-weight="bold" textLength="7.4" lengthAdjust="spacingAndGlyphs">Vectors</text>
<rect x="227.4" y="259.45" width="21.4" height="2.5" rx="1" fill="#555555"/>
<text x="229.1" y="261.5" font-size="2.3" fill="#e8e8e8" font-weight="bold" textLength="1.4" lengthAdjust="spacingAndGlyphs">x</text>
<text x="240.5" y="261.5" font-size="2.3" fill="#e8e8e8" font-weight="bold" textLength="5" lengthAdjust="spacingAndGlyphs">0.00</text>
<text x="246.7" y="261.4" font-size="2.0" fill="#e8e8e8" opacity="0.6">›</text>
<rect x="227.4" y="263.45" width="21.4" height="2.5" rx="1" fill="#555555"/>
<text x="229.1" y="265.5" font-size="2.3" fill="#e8e8e8" font-weight="bold" textLength="1.4" lengthAdjust="spacingAndGlyphs">y</text>
<text x="240.5" y="265.5" font-size="2.3" fill="#e8e8e8" font-weight="bold" textLength="5" lengthAdjust="spacingAndGlyphs">0.00</text>
<text x="246.7" y="265.4" font-size="2.0" fill="#e8e8e8" opacity="0.6">›</text>
<rect x="227.4" y="267.55" width="21.4" height="2.5" rx="1" fill="#555555"/>
<text x="229.1" y="269.6" font-size="2.3" fill="#e8e8e8" font-weight="bold" textLength="1.4" lengthAdjust="spacingAndGlyphs">z</text>
<text x="240.5" y="269.6" font-size="2.3" fill="#e8e8e8" font-weight="bold" textLength="5" lengthAdjust="spacingAndGlyphs">0.00</text>
<text x="246.7" y="269.5" font-size="2.0" fill="#e8e8e8" opacity="0.6">›</text>
<circle cx="251.7" cy="255.9" r="0.95" fill="#62c462" stroke="#111" stroke-width="0.4"/>
<circle cx="224.5" cy="260.7" r="0.95" fill="#62c462" stroke="#111" stroke-width="0.4"/>
<circle cx="224.5" cy="264.7" r="0.95" fill="#62c462" stroke="#111" stroke-width="0.4"/>
<circle cx="224.5" cy="268.8" r="0.95" fill="#62c462" stroke="#111" stroke-width="0.4"/>
<rect x="269.1" y="244.5" width="28.6" height="20" rx="1.6" fill="rgba(0,0,0,0.6)"/>
<rect x="269.9" y="245" width="27" height="18.5" rx="1" fill="#3f3f3f"/>
<path d="M269.9 246 a1 1 0 0 1 1 -1 h25 a1 1 0 0 1 1 1 v3.3 h-27 z" fill="#9f313e"/>
<path d="M271.7 246.95 l1 0 l-0.5 0.9z" fill="#ddd"/>
<text x="273.7" y="248.15" font-size="2.9" fill="#f6e6e8" font-weight="bold" opacity="0.62" textLength="21" lengthAdjust="spacingAndGlyphs">Polyline Connection</text>
<text x="288.7" y="252.95" font-size="2.5" fill="#e8e8e8" font-weight="bold" textLength="5" lengthAdjust="spacingAndGlyphs">Edges</text>
<text x="272" y="257.15" font-size="2.5" fill="#e8e8e8" font-weight="bold" textLength="11.4" lengthAdjust="spacingAndGlyphs">Num Verts</text>
<text x="272" y="261.35" font-size="2.5" fill="#e8e8e8" font-weight="bold" textLength="9.6" lengthAdjust="spacingAndGlyphs">Dist Verts</text>
<circle cx="296.9" cy="252.1" r="0.95" fill="#62c462" stroke="#111" stroke-width="0.4"/>
<circle cx="269.9" cy="256.3" r="0.95" fill="#62c462" stroke="#111" stroke-width="0.4"/>
<circle cx="269.9" cy="260.5" r="0.95" fill="#62c462" stroke="#111" stroke-width="0.4"/>
<rect x="224" y="272.8" width="28.8" height="24" rx="1.6" fill="rgba(0,0,0,0.6)"/>
<rect x="224.8" y="273.3" width="27.2" height="22.5" rx="1" fill="#3f3f3f"/>
<path d="M224.8 274.3 a1 1 0 0 1 1 -1 h25.2 a1 1 0 0 1 1 1 v3.5 h-27.2 z" fill="#9f313e"/>
<path d="M226.6 275.35 l1 0 l-0.5 0.9z" fill="#ddd"/>
<text x="228.6" y="276.55" font-size="2.9" fill="#f6e6e8" font-weight="bold" opacity="0.62" textLength="18" lengthAdjust="spacingAndGlyphs">Combine Vectors</text>
<text x="241.6" y="281.15" font-size="2.5" fill="#e8e8e8" font-weight="bold" textLength="7.4" lengthAdjust="spacingAndGlyphs">Vectors</text>
<rect x="227.7" y="283.85" width="21.4" height="2.5" rx="1" fill="#555555"/>
<text x="229.4" y="285.9" font-size="2.3" fill="#e8e8e8" font-weight="bold" textLength="1.4" lengthAdjust="spacingAndGlyphs">x</text>
<text x="240.8" y="285.9" font-size="2.3" fill="#e8e8e8" font-weight="bold" textLength="5" lengthAdjust="spacingAndGlyphs">0.00</text>
<text x="247" y="285.8" font-size="2.0" fill="#e8e8e8" opacity="0.6">›</text>
<rect x="227.7" y="287.85" width="21.4" height="2.5" rx="1" fill="#555555"/>
<text x="229.4" y="289.9" font-size="2.3" fill="#e8e8e8" font-weight="bold" textLength="1.4" lengthAdjust="spacingAndGlyphs">y</text>
<text x="240.8" y="289.9" font-size="2.3" fill="#e8e8e8" font-weight="bold" textLength="5" lengthAdjust="spacingAndGlyphs">0.00</text>
<text x="247" y="289.8" font-size="2.0" fill="#e8e8e8" opacity="0.6">›</text>
<rect x="227.7" y="291.95" width="21.4" height="2.5" rx="1" fill="#555555"/>
<text x="229.4" y="294" font-size="2.3" fill="#e8e8e8" font-weight="bold" textLength="1.4" lengthAdjust="spacingAndGlyphs">z</text>
<text x="240.8" y="294" font-size="2.3" fill="#e8e8e8" font-weight="bold" textLength="5" lengthAdjust="spacingAndGlyphs">0.00</text>
<text x="247" y="293.9" font-size="2.0" fill="#e8e8e8" opacity="0.6">›</text>
<circle cx="252" cy="280.3" r="0.95" fill="#62c462" stroke="#111" stroke-width="0.4"/>
<circle cx="224.8" cy="285.1" r="0.95" fill="#62c462" stroke="#111" stroke-width="0.4"/>
<circle cx="224.8" cy="289.1" r="0.95" fill="#62c462" stroke="#111" stroke-width="0.4"/>
<circle cx="224.8" cy="293.2" r="0.95" fill="#62c462" stroke="#111" stroke-width="0.4"/>
<rect x="269.1" y="266.1" width="28.6" height="20" rx="1.6" fill="rgba(0,0,0,0.6)"/>
<rect x="269.9" y="266.6" width="27" height="18.5" rx="1" fill="#3f3f3f"/>
<path d="M269.9 267.6 a1 1 0 0 1 1 -1 h25 a1 1 0 0 1 1 1 v3.3 h-27 z" fill="#9f313e"/>
<path d="M271.7 268.55 l1 0 l-0.5 0.9z" fill="#ddd"/>
<text x="273.7" y="269.75" font-size="2.9" fill="#f6e6e8" font-weight="bold" opacity="0.62" textLength="21" lengthAdjust="spacingAndGlyphs">Polyline Connection</text>
<text x="288.7" y="274.55" font-size="2.5" fill="#e8e8e8" font-weight="bold" textLength="5" lengthAdjust="spacingAndGlyphs">Edges</text>
<text x="272" y="278.75" font-size="2.5" fill="#e8e8e8" font-weight="bold" textLength="11.4" lengthAdjust="spacingAndGlyphs">Num Verts</text>
<text x="272" y="282.95" font-size="2.5" fill="#e8e8e8" font-weight="bold" textLength="9.6" lengthAdjust="spacingAndGlyphs">Dist Verts</text>
<circle cx="296.9" cy="273.7" r="0.95" fill="#62c462" stroke="#111" stroke-width="0.4"/>
<circle cx="269.9" cy="277.9" r="0.95" fill="#62c462" stroke="#111" stroke-width="0.4"/>
<circle cx="269.9" cy="282.1" r="0.95" fill="#62c462" stroke="#111" stroke-width="0.4"/>
<rect x="312.2" y="214" width="28.8" height="47.3" rx="1.6" fill="rgba(0,0,0,0.6)"/>
<rect x="313" y="214.5" width="27.2" height="45.8" rx="1" fill="#3f3f3f"/>
<path d="M313 215.5 a1 1 0 0 1 1 -1 h25.2 a1 1 0 0 1 1 1 v3.3 h-27.2 z" fill="#9f313e"/>
<path d="M314.8 216.45 l1 0 l-0.5 0.9z" fill="#ddd"/>
<text x="316.8" y="217.65" font-size="2.9" fill="#f6e6e8" font-weight="bold" opacity="0.62" textLength="11.5" lengthAdjust="spacingAndGlyphs">List Join(1)</text>
<path d="M335.6 215.2 l0.9 0 l0 1.9 l1.9 0 l0.5 -1.2 l0.4 0 l-0.2 2.1 l-3.5 0 z" fill="#f2f2f2"/>
<text x="331.1" y="222.35" font-size="2.5" fill="#e8e8e8" font-weight="bold" textLength="5.8" lengthAdjust="spacingAndGlyphs">data</text>
<rect x="316" y="225.7" width="1.4" height="1.4" rx="0.3" fill="#5a5a5a"/>
<text x="318.5" y="227.25" font-size="2.5" fill="#e8e8e8" font-weight="bold" textLength="6.2" lengthAdjust="spacingAndGlyphs">Flatten</text>
<text x="318.4" y="232.35" font-size="2.5" fill="#e8e8e8" font-weight="bold" textLength="2.8" lengthAdjust="spacingAndGlyphs">Fill</text>
<text x="330.6" y="232.35" font-size="2.5" fill="#e8e8e8" font-weight="bold" textLength="5.2" lengthAdjust="spacingAndGlyphs">Wrap</text>
<rect x="316" y="235.5" width="21.2" height="2.5" rx="1" fill="#555555"/>
<text x="316.6" y="237.6" font-size="2.3" fill="#e8e8e8" font-weight="bold" textLength="8" lengthAdjust="spacingAndGlyphs">JoinLevel</text>
<text x="334" y="237.6" font-size="2.3" fill="#e8e8e8" font-weight="bold">1</text>
<text x="315.2" y="242.05" font-size="2.5" fill="#e8e8e8" font-weight="bold" textLength="4" lengthAdjust="spacingAndGlyphs">data</text>
<text x="315.2" y="246.15" font-size="2.5" fill="#e8e8e8" font-weight="bold" textLength="5" lengthAdjust="spacingAndGlyphs">data 1</text>
<text x="315.2" y="249.95" font-size="2.5" fill="#e8e8e8" font-weight="bold" textLength="5" lengthAdjust="spacingAndGlyphs">data 2</text>
<text x="315.2" y="253.95" font-size="2.5" fill="#e8e8e8" font-weight="bold" textLength="5" lengthAdjust="spacingAndGlyphs">data 3</text>
<text x="315.2" y="258.15" font-size="2.5" fill="#e8e8e8" font-weight="bold" textLength="5" lengthAdjust="spacingAndGlyphs">data 4</text>
<circle cx="340.2" cy="221.5" r="0.95" fill="#62c462" stroke="#111" stroke-width="0.4"/>
<circle cx="313" cy="241.2" r="0.95" fill="#62c462" stroke="#111" stroke-width="0.4"/>
<circle cx="313" cy="245.3" r="0.95" fill="#62c462" stroke="#111" stroke-width="0.4"/>
<circle cx="313" cy="249.1" r="0.95" fill="#62c462" stroke="#111" stroke-width="0.4"/>
<circle cx="313" cy="253.1" r="0.95" fill="#62c462" stroke="#111" stroke-width="0.4"/>
<circle cx="313" cy="257.3" r="0.95" fill="#62c462" stroke="#111" stroke-width="0.4"/>
<rect x="360.1" y="222.6" width="28.6" height="15.3" rx="1.6" fill="rgba(0,0,0,0.6)"/>
<rect x="360.9" y="223.1" width="27" height="13.8" rx="1" fill="#3f3f3f"/>
<path d="M360.9 224.1 a1 1 0 0 1 1 -1 h25 a1 1 0 0 1 1 1 v3 h-27 z" fill="#9f313e"/>
<path d="M362.7 224.9 l1 0 l-0.5 0.9z" fill="#ddd"/>
<text x="364.7" y="226.1" font-size="2.9" fill="#f6e6e8" font-weight="bold" opacity="0.62" textLength="10.3" lengthAdjust="spacingAndGlyphs">Mesh Edges</text>
<text x="379.9" y="230.55" font-size="2.5" fill="#e8e8e8" font-weight="bold" textLength="4.9" lengthAdjust="spacingAndGlyphs">Verts</text>
<text x="362.9" y="235.35" font-size="2.5" fill="#e8e8e8" font-weight="bold" textLength="6" lengthAdjust="spacingAndGlyphs">Object</text>
<circle cx="387.9" cy="229.7" r="0.95" fill="#62c462" stroke="#111" stroke-width="0.4"/>
<circle cx="360.9" cy="234.5" r="0.95" fill="#62c462" stroke="#111" stroke-width="0.4"/>
<rect x="224.3" y="298.7" width="28.8" height="24" rx="1.6" fill="rgba(0,0,0,0.6)"/>
<rect x="225.1" y="299.2" width="27.2" height="22.5" rx="1" fill="#3f3f3f"/>
<path d="M225.1 300.2 a1 1 0 0 1 1 -1 h25.2 a1 1 0 0 1 1 1 v3.5 h-27.2 z" fill="#9f313e"/>
<path d="M226.9 301.25 l1 0 l-0.5 0.9z" fill="#ddd"/>
<text x="228.9" y="302.45" font-size="2.9" fill="#f6e6e8" font-weight="bold" opacity="0.62" textLength="18" lengthAdjust="spacingAndGlyphs">Combine Vectors</text>
<text x="241.9" y="307.05" font-size="2.5" fill="#e8e8e8" font-weight="bold" textLength="7.4" lengthAdjust="spacingAndGlyphs">Vectors</text>
<rect x="228" y="309.75" width="21.4" height="2.5" rx="1" fill="#555555"/>
<text x="229.7" y="311.8" font-size="2.3" fill="#e8e8e8" font-weight="bold" textLength="1.4" lengthAdjust="spacingAndGlyphs">x</text>
<text x="241.1" y="311.8" font-size="2.3" fill="#e8e8e8" font-weight="bold" textLength="5" lengthAdjust="spacingAndGlyphs">0.00</text>
<text x="247.3" y="311.7" font-size="2.0" fill="#e8e8e8" opacity="0.6">›</text>
<rect x="228" y="313.75" width="21.4" height="2.5" rx="1" fill="#555555"/>
<text x="229.7" y="315.8" font-size="2.3" fill="#e8e8e8" font-weight="bold" textLength="1.4" lengthAdjust="spacingAndGlyphs">y</text>
<text x="241.1" y="315.8" font-size="2.3" fill="#e8e8e8" font-weight="bold" textLength="5" lengthAdjust="spacingAndGlyphs">0.00</text>
<text x="247.3" y="315.7" font-size="2.0" fill="#e8e8e8" opacity="0.6">›</text>
<rect x="228" y="317.85" width="21.4" height="2.5" rx="1" fill="#555555"/>
<text x="229.7" y="319.9" font-size="2.3" fill="#e8e8e8" font-weight="bold" textLength="1.4" lengthAdjust="spacingAndGlyphs">z</text>
<text x="241.1" y="319.9" font-size="2.3" fill="#e8e8e8" font-weight="bold" textLength="5" lengthAdjust="spacingAndGlyphs">0.00</text>
<text x="247.3" y="319.8" font-size="2.0" fill="#e8e8e8" opacity="0.6">›</text>
<circle cx="252.3" cy="306.2" r="0.95" fill="#62c462" stroke="#111" stroke-width="0.4"/>
<circle cx="225.1" cy="311" r="0.95" fill="#62c462" stroke="#111" stroke-width="0.4"/>
<circle cx="225.1" cy="315" r="0.95" fill="#62c462" stroke="#111" stroke-width="0.4"/>
<circle cx="225.1" cy="319.1" r="0.95" fill="#62c462" stroke="#111" stroke-width="0.4"/>
<rect x="270.2" y="301.5" width="28.6" height="20" rx="1.6" fill="rgba(0,0,0,0.6)"/>
<rect x="271" y="302" width="27" height="18.5" rx="1" fill="#3f3f3f"/>
<path d="M271 303 a1 1 0 0 1 1 -1 h25 a1 1 0 0 1 1 1 v3.3 h-27 z" fill="#9f313e"/>
<path d="M272.8 303.95 l1 0 l-0.5 0.9z" fill="#ddd"/>
<text x="274.8" y="305.15" font-size="2.9" fill="#f6e6e8" font-weight="bold" opacity="0.62" textLength="21" lengthAdjust="spacingAndGlyphs">Polyline Connection</text>
<text x="289.8" y="309.95" font-size="2.5" fill="#e8e8e8" font-weight="bold" textLength="5" lengthAdjust="spacingAndGlyphs">Edges</text>
<text x="273.1" y="314.15" font-size="2.5" fill="#e8e8e8" font-weight="bold" textLength="11.4" lengthAdjust="spacingAndGlyphs">Num Verts</text>
<text x="273.1" y="318.35" font-size="2.5" fill="#e8e8e8" font-weight="bold" textLength="9.6" lengthAdjust="spacingAndGlyphs">Dist Verts</text>
<circle cx="298" cy="309.1" r="0.95" fill="#62c462" stroke="#111" stroke-width="0.4"/>
<circle cx="271" cy="313.3" r="0.95" fill="#62c462" stroke="#111" stroke-width="0.4"/>
<circle cx="271" cy="317.5" r="0.95" fill="#62c462" stroke="#111" stroke-width="0.4"/>
<rect x="224.5" y="323.3" width="28.8" height="24" rx="1.6" fill="rgba(0,0,0,0.6)"/>
<rect x="225.3" y="323.8" width="27.2" height="22.5" rx="1" fill="#3f3f3f"/>
<path d="M225.3 324.8 a1 1 0 0 1 1 -1 h25.2 a1 1 0 0 1 1 1 v3.5 h-27.2 z" fill="#9f313e"/>
<path d="M227.1 325.85 l1 0 l-0.5 0.9z" fill="#ddd"/>
<text x="229.1" y="327.05" font-size="2.9" fill="#f6e6e8" font-weight="bold" opacity="0.62" textLength="18" lengthAdjust="spacingAndGlyphs">Combine Vectors</text>
<text x="242.1" y="331.65" font-size="2.5" fill="#e8e8e8" font-weight="bold" textLength="7.4" lengthAdjust="spacingAndGlyphs">Vectors</text>
<rect x="228.2" y="334.35" width="21.4" height="2.5" rx="1" fill="#555555"/>
<text x="229.9" y="336.4" font-size="2.3" fill="#e8e8e8" font-weight="bold" textLength="1.4" lengthAdjust="spacingAndGlyphs">x</text>
<text x="241.3" y="336.4" font-size="2.3" fill="#e8e8e8" font-weight="bold" textLength="5" lengthAdjust="spacingAndGlyphs">0.00</text>
<text x="247.5" y="336.3" font-size="2.0" fill="#e8e8e8" opacity="0.6">›</text>
<rect x="228.2" y="338.35" width="21.4" height="2.5" rx="1" fill="#555555"/>
<text x="229.9" y="340.4" font-size="2.3" fill="#e8e8e8" font-weight="bold" textLength="1.4" lengthAdjust="spacingAndGlyphs">y</text>
<text x="241.3" y="340.4" font-size="2.3" fill="#e8e8e8" font-weight="bold" textLength="5" lengthAdjust="spacingAndGlyphs">0.00</text>
<text x="247.5" y="340.3" font-size="2.0" fill="#e8e8e8" opacity="0.6">›</text>
<rect x="228.2" y="342.45" width="21.4" height="2.5" rx="1" fill="#555555"/>
<text x="229.9" y="344.5" font-size="2.3" fill="#e8e8e8" font-weight="bold" textLength="1.4" lengthAdjust="spacingAndGlyphs">z</text>
<text x="241.3" y="344.5" font-size="2.3" fill="#e8e8e8" font-weight="bold" textLength="5" lengthAdjust="spacingAndGlyphs">0.00</text>
<text x="247.5" y="344.4" font-size="2.0" fill="#e8e8e8" opacity="0.6">›</text>
<circle cx="252.5" cy="330.8" r="0.95" fill="#62c462" stroke="#111" stroke-width="0.4"/>
<circle cx="225.3" cy="335.6" r="0.95" fill="#62c462" stroke="#111" stroke-width="0.4"/>
<circle cx="225.3" cy="339.6" r="0.95" fill="#62c462" stroke="#111" stroke-width="0.4"/>
<circle cx="225.3" cy="343.7" r="0.95" fill="#62c462" stroke="#111" stroke-width="0.4"/>
<rect x="270.2" y="322.8" width="28.6" height="20" rx="1.6" fill="rgba(0,0,0,0.6)"/>
<rect x="271" y="323.3" width="27" height="18.5" rx="1" fill="#3f3f3f"/>
<path d="M271 324.3 a1 1 0 0 1 1 -1 h25 a1 1 0 0 1 1 1 v3.3 h-27 z" fill="#9f313e"/>
<path d="M272.8 325.25 l1 0 l-0.5 0.9z" fill="#ddd"/>
<text x="274.8" y="326.45" font-size="2.9" fill="#f6e6e8" font-weight="bold" opacity="0.62" textLength="21" lengthAdjust="spacingAndGlyphs">Polyline Connection</text>
<text x="289.8" y="331.25" font-size="2.5" fill="#e8e8e8" font-weight="bold" textLength="5" lengthAdjust="spacingAndGlyphs">Edges</text>
<text x="273.1" y="335.45" font-size="2.5" fill="#e8e8e8" font-weight="bold" textLength="11.4" lengthAdjust="spacingAndGlyphs">Num Verts</text>
<text x="273.1" y="339.65" font-size="2.5" fill="#e8e8e8" font-weight="bold" textLength="9.6" lengthAdjust="spacingAndGlyphs">Dist Verts</text>
<circle cx="298" cy="330.4" r="0.95" fill="#62c462" stroke="#111" stroke-width="0.4"/>
<circle cx="271" cy="334.6" r="0.95" fill="#62c462" stroke="#111" stroke-width="0.4"/>
<circle cx="271" cy="338.8" r="0.95" fill="#62c462" stroke="#111" stroke-width="0.4"/>
<rect x="224.7" y="348.2" width="28.8" height="24" rx="1.6" fill="rgba(0,0,0,0.6)"/>
<rect x="225.5" y="348.7" width="27.2" height="22.5" rx="1" fill="#3f3f3f"/>
<path d="M225.5 349.7 a1 1 0 0 1 1 -1 h25.2 a1 1 0 0 1 1 1 v3.5 h-27.2 z" fill="#9f313e"/>
<path d="M227.3 350.75 l1 0 l-0.5 0.9z" fill="#ddd"/>
<text x="229.3" y="351.95" font-size="2.9" fill="#f6e6e8" font-weight="bold" opacity="0.62" textLength="18" lengthAdjust="spacingAndGlyphs">Combine Vectors</text>
<text x="242.3" y="356.55" font-size="2.5" fill="#e8e8e8" font-weight="bold" textLength="7.4" lengthAdjust="spacingAndGlyphs">Vectors</text>
<rect x="228.4" y="359.25" width="21.4" height="2.5" rx="1" fill="#555555"/>
<text x="230.1" y="361.3" font-size="2.3" fill="#e8e8e8" font-weight="bold" textLength="1.4" lengthAdjust="spacingAndGlyphs">x</text>
<text x="241.5" y="361.3" font-size="2.3" fill="#e8e8e8" font-weight="bold" textLength="5" lengthAdjust="spacingAndGlyphs">0.00</text>
<text x="247.7" y="361.2" font-size="2.0" fill="#e8e8e8" opacity="0.6">›</text>
<rect x="228.4" y="363.25" width="21.4" height="2.5" rx="1" fill="#555555"/>
<text x="230.1" y="365.3" font-size="2.3" fill="#e8e8e8" font-weight="bold" textLength="1.4" lengthAdjust="spacingAndGlyphs">y</text>
<text x="241.5" y="365.3" font-size="2.3" fill="#e8e8e8" font-weight="bold" textLength="5" lengthAdjust="spacingAndGlyphs">0.00</text>
<text x="247.7" y="365.2" font-size="2.0" fill="#e8e8e8" opacity="0.6">›</text>
<rect x="228.4" y="367.35" width="21.4" height="2.5" rx="1" fill="#555555"/>
<text x="230.1" y="369.4" font-size="2.3" fill="#e8e8e8" font-weight="bold" textLength="1.4" lengthAdjust="spacingAndGlyphs">z</text>
<text x="241.5" y="369.4" font-size="2.3" fill="#e8e8e8" font-weight="bold" textLength="5" lengthAdjust="spacingAndGlyphs">0.00</text>
<text x="247.7" y="369.3" font-size="2.0" fill="#e8e8e8" opacity="0.6">›</text>
<circle cx="252.7" cy="355.7" r="0.95" fill="#62c462" stroke="#111" stroke-width="0.4"/>
<circle cx="225.5" cy="360.5" r="0.95" fill="#62c462" stroke="#111" stroke-width="0.4"/>
<circle cx="225.5" cy="364.5" r="0.95" fill="#62c462" stroke="#111" stroke-width="0.4"/>
<circle cx="225.5" cy="368.6" r="0.95" fill="#62c462" stroke="#111" stroke-width="0.4"/>
<rect x="270.2" y="344.5" width="28.6" height="20" rx="1.6" fill="rgba(0,0,0,0.6)"/>
<rect x="271" y="345" width="27" height="18.5" rx="1" fill="#3f3f3f"/>
<path d="M271 346 a1 1 0 0 1 1 -1 h25 a1 1 0 0 1 1 1 v3.3 h-27 z" fill="#9f313e"/>
<path d="M272.8 346.95 l1 0 l-0.5 0.9z" fill="#ddd"/>
<text x="274.8" y="348.15" font-size="2.9" fill="#f6e6e8" font-weight="bold" opacity="0.62" textLength="21" lengthAdjust="spacingAndGlyphs">Polyline Connection</text>
<text x="289.8" y="352.95" font-size="2.5" fill="#e8e8e8" font-weight="bold" textLength="5" lengthAdjust="spacingAndGlyphs">Edges</text>
<text x="273.1" y="357.15" font-size="2.5" fill="#e8e8e8" font-weight="bold" textLength="11.4" lengthAdjust="spacingAndGlyphs">Num Verts</text>
<text x="273.1" y="361.35" font-size="2.5" fill="#e8e8e8" font-weight="bold" textLength="9.6" lengthAdjust="spacingAndGlyphs">Dist Verts</text>
<circle cx="298" cy="352.1" r="0.95" fill="#62c462" stroke="#111" stroke-width="0.4"/>
<circle cx="271" cy="356.3" r="0.95" fill="#62c462" stroke="#111" stroke-width="0.4"/>
<circle cx="271" cy="360.5" r="0.95" fill="#62c462" stroke="#111" stroke-width="0.4"/>
<rect x="225.2" y="372.6" width="28.8" height="24" rx="1.6" fill="rgba(0,0,0,0.6)"/>
<rect x="226" y="373.1" width="27.2" height="22.5" rx="1" fill="#3f3f3f"/>
<path d="M226 374.1 a1 1 0 0 1 1 -1 h25.2 a1 1 0 0 1 1 1 v3.5 h-27.2 z" fill="#9f313e"/>
<path d="M227.8 375.15 l1 0 l-0.5 0.9z" fill="#ddd"/>
<text x="229.8" y="376.35" font-size="2.9" fill="#f6e6e8" font-weight="bold" opacity="0.62" textLength="18" lengthAdjust="spacingAndGlyphs">Combine Vectors</text>
<text x="242.8" y="380.95" font-size="2.5" fill="#e8e8e8" font-weight="bold" textLength="7.4" lengthAdjust="spacingAndGlyphs">Vectors</text>
<rect x="228.9" y="383.65" width="21.4" height="2.5" rx="1" fill="#555555"/>
<text x="230.6" y="385.7" font-size="2.3" fill="#e8e8e8" font-weight="bold" textLength="1.4" lengthAdjust="spacingAndGlyphs">x</text>
<text x="242" y="385.7" font-size="2.3" fill="#e8e8e8" font-weight="bold" textLength="5" lengthAdjust="spacingAndGlyphs">0.00</text>
<text x="248.2" y="385.6" font-size="2.0" fill="#e8e8e8" opacity="0.6">›</text>
<rect x="228.9" y="387.65" width="21.4" height="2.5" rx="1" fill="#555555"/>
<text x="230.6" y="389.7" font-size="2.3" fill="#e8e8e8" font-weight="bold" textLength="1.4" lengthAdjust="spacingAndGlyphs">y</text>
<text x="242" y="389.7" font-size="2.3" fill="#e8e8e8" font-weight="bold" textLength="5" lengthAdjust="spacingAndGlyphs">0.00</text>
<text x="248.2" y="389.6" font-size="2.0" fill="#e8e8e8" opacity="0.6">›</text>
<rect x="228.9" y="391.75" width="21.4" height="2.5" rx="1" fill="#555555"/>
<text x="230.6" y="393.8" font-size="2.3" fill="#e8e8e8" font-weight="bold" textLength="1.4" lengthAdjust="spacingAndGlyphs">z</text>
<text x="242" y="393.8" font-size="2.3" fill="#e8e8e8" font-weight="bold" textLength="5" lengthAdjust="spacingAndGlyphs">0.00</text>
<text x="248.2" y="393.7" font-size="2.0" fill="#e8e8e8" opacity="0.6">›</text>
<circle cx="253.2" cy="380.1" r="0.95" fill="#62c462" stroke="#111" stroke-width="0.4"/>
<circle cx="226" cy="384.9" r="0.95" fill="#62c462" stroke="#111" stroke-width="0.4"/>
<circle cx="226" cy="388.9" r="0.95" fill="#62c462" stroke="#111" stroke-width="0.4"/>
<circle cx="226" cy="393" r="0.95" fill="#62c462" stroke="#111" stroke-width="0.4"/>
<rect x="270.2" y="366.3" width="28.6" height="20" rx="1.6" fill="rgba(0,0,0,0.6)"/>
<rect x="271" y="366.8" width="27" height="18.5" rx="1" fill="#3f3f3f"/>
<path d="M271 367.8 a1 1 0 0 1 1 -1 h25 a1 1 0 0 1 1 1 v3.3 h-27 z" fill="#9f313e"/>
<path d="M272.8 368.75 l1 0 l-0.5 0.9z" fill="#ddd"/>
<text x="274.8" y="369.95" font-size="2.9" fill="#f6e6e8" font-weight="bold" opacity="0.62" textLength="21" lengthAdjust="spacingAndGlyphs">Polyline Connection</text>
<text x="289.8" y="374.75" font-size="2.5" fill="#e8e8e8" font-weight="bold" textLength="5" lengthAdjust="spacingAndGlyphs">Edges</text>
<text x="273.1" y="378.95" font-size="2.5" fill="#e8e8e8" font-weight="bold" textLength="11.4" lengthAdjust="spacingAndGlyphs">Num Verts</text>
<text x="273.1" y="383.15" font-size="2.5" fill="#e8e8e8" font-weight="bold" textLength="9.6" lengthAdjust="spacingAndGlyphs">Dist Verts</text>
<circle cx="298" cy="373.9" r="0.95" fill="#62c462" stroke="#111" stroke-width="0.4"/>
<circle cx="271" cy="378.1" r="0.95" fill="#62c462" stroke="#111" stroke-width="0.4"/>
<circle cx="271" cy="382.3" r="0.95" fill="#62c462" stroke="#111" stroke-width="0.4"/>
<rect x="313.2" y="314.7" width="28.8" height="47.3" rx="1.6" fill="rgba(0,0,0,0.6)"/>
<rect x="314" y="315.2" width="27.2" height="45.8" rx="1" fill="#3f3f3f"/>
<path d="M314 316.2 a1 1 0 0 1 1 -1 h25.2 a1 1 0 0 1 1 1 v3.3 h-27.2 z" fill="#9f313e"/>
<path d="M315.8 317.15 l1 0 l-0.5 0.9z" fill="#ddd"/>
<text x="317.8" y="318.35" font-size="2.9" fill="#f6e6e8" font-weight="bold" opacity="0.62" textLength="11.5" lengthAdjust="spacingAndGlyphs">List Join(1)</text>
<path d="M336.6 315.9 l0.9 0 l0 1.9 l1.9 0 l0.5 -1.2 l0.4 0 l-0.2 2.1 l-3.5 0 z" fill="#f2f2f2"/>
<text x="332.1" y="323.05" font-size="2.5" fill="#e8e8e8" font-weight="bold" textLength="5.8" lengthAdjust="spacingAndGlyphs">data</text>
<rect x="317" y="326.4" width="1.4" height="1.4" rx="0.3" fill="#5a5a5a"/>
<text x="319.5" y="327.95" font-size="2.5" fill="#e8e8e8" font-weight="bold" textLength="6.2" lengthAdjust="spacingAndGlyphs">Flatten</text>
<text x="319.4" y="333.05" font-size="2.5" fill="#e8e8e8" font-weight="bold" textLength="2.8" lengthAdjust="spacingAndGlyphs">Fill</text>
<text x="331.6" y="333.05" font-size="2.5" fill="#e8e8e8" font-weight="bold" textLength="5.2" lengthAdjust="spacingAndGlyphs">Wrap</text>
<rect x="317" y="336.2" width="21.2" height="2.5" rx="1" fill="#555555"/>
<text x="317.6" y="338.3" font-size="2.3" fill="#e8e8e8" font-weight="bold" textLength="8" lengthAdjust="spacingAndGlyphs">JoinLevel</text>
<text x="335" y="338.3" font-size="2.3" fill="#e8e8e8" font-weight="bold">1</text>
<text x="316.2" y="342.75" font-size="2.5" fill="#e8e8e8" font-weight="bold" textLength="4" lengthAdjust="spacingAndGlyphs">data</text>
<text x="316.2" y="346.85" font-size="2.5" fill="#e8e8e8" font-weight="bold" textLength="5" lengthAdjust="spacingAndGlyphs">data 1</text>
<text x="316.2" y="350.65" font-size="2.5" fill="#e8e8e8" font-weight="bold" textLength="5" lengthAdjust="spacingAndGlyphs">data 2</text>
<text x="316.2" y="354.65" font-size="2.5" fill="#e8e8e8" font-weight="bold" textLength="5" lengthAdjust="spacingAndGlyphs">data 3</text>
<text x="316.2" y="358.85" font-size="2.5" fill="#e8e8e8" font-weight="bold" textLength="5" lengthAdjust="spacingAndGlyphs">data 4</text>
<circle cx="341.2" cy="322.2" r="0.95" fill="#62c462" stroke="#111" stroke-width="0.4"/>
<circle cx="314" cy="341.9" r="0.95" fill="#62c462" stroke="#111" stroke-width="0.4"/>
<circle cx="314" cy="346" r="0.95" fill="#62c462" stroke="#111" stroke-width="0.4"/>
<circle cx="314" cy="349.8" r="0.95" fill="#62c462" stroke="#111" stroke-width="0.4"/>
<circle cx="314" cy="353.8" r="0.95" fill="#62c462" stroke="#111" stroke-width="0.4"/>
<circle cx="314" cy="358" r="0.95" fill="#62c462" stroke="#111" stroke-width="0.4"/>
<rect x="361.5" y="322.5" width="28.6" height="15.3" rx="1.6" fill="rgba(0,0,0,0.6)"/>
<rect x="362.3" y="323" width="27" height="13.8" rx="1" fill="#3f3f3f"/>
<path d="M362.3 324 a1 1 0 0 1 1 -1 h25 a1 1 0 0 1 1 1 v3 h-27 z" fill="#9f313e"/>
<path d="M364.1 324.8 l1 0 l-0.5 0.9z" fill="#ddd"/>
<text x="366.1" y="326" font-size="2.9" fill="#f6e6e8" font-weight="bold" opacity="0.62" textLength="10.3" lengthAdjust="spacingAndGlyphs">Mesh Edges</text>
<text x="381.3" y="330.45" font-size="2.5" fill="#e8e8e8" font-weight="bold" textLength="4.9" lengthAdjust="spacingAndGlyphs">Verts</text>
<text x="364.3" y="335.25" font-size="2.5" fill="#e8e8e8" font-weight="bold" textLength="6" lengthAdjust="spacingAndGlyphs">Object</text>
<circle cx="389.3" cy="329.6" r="0.95" fill="#62c462" stroke="#111" stroke-width="0.4"/>
<circle cx="362.3" cy="334.4" r="0.95" fill="#62c462" stroke="#111" stroke-width="0.4"/>
<rect x="224.6" y="399.2" width="28.8" height="24" rx="1.6" fill="rgba(0,0,0,0.6)"/>
<rect x="225.4" y="399.7" width="27.2" height="22.5" rx="1" fill="#3f3f3f"/>
<path d="M225.4 400.7 a1 1 0 0 1 1 -1 h25.2 a1 1 0 0 1 1 1 v3.5 h-27.2 z" fill="#9f313e"/>
<path d="M227.2 401.75 l1 0 l-0.5 0.9z" fill="#ddd"/>
<text x="229.2" y="402.95" font-size="2.9" fill="#f6e6e8" font-weight="bold" opacity="0.62" textLength="18" lengthAdjust="spacingAndGlyphs">Combine Vectors</text>
<text x="242.2" y="407.55" font-size="2.5" fill="#e8e8e8" font-weight="bold" textLength="7.4" lengthAdjust="spacingAndGlyphs">Vectors</text>
<rect x="228.3" y="410.25" width="21.4" height="2.5" rx="1" fill="#555555"/>
<text x="230" y="412.3" font-size="2.3" fill="#e8e8e8" font-weight="bold" textLength="1.4" lengthAdjust="spacingAndGlyphs">x</text>
<text x="241.4" y="412.3" font-size="2.3" fill="#e8e8e8" font-weight="bold" textLength="5" lengthAdjust="spacingAndGlyphs">0.00</text>
<text x="247.6" y="412.2" font-size="2.0" fill="#e8e8e8" opacity="0.6">›</text>
<rect x="228.3" y="414.25" width="21.4" height="2.5" rx="1" fill="#555555"/>
<text x="230" y="416.3" font-size="2.3" fill="#e8e8e8" font-weight="bold" textLength="1.4" lengthAdjust="spacingAndGlyphs">y</text>
<text x="241.4" y="416.3" font-size="2.3" fill="#e8e8e8" font-weight="bold" textLength="5" lengthAdjust="spacingAndGlyphs">0.00</text>
<text x="247.6" y="416.2" font-size="2.0" fill="#e8e8e8" opacity="0.6">›</text>
<rect x="228.3" y="418.35" width="21.4" height="2.5" rx="1" fill="#555555"/>
<text x="230" y="420.4" font-size="2.3" fill="#e8e8e8" font-weight="bold" textLength="1.4" lengthAdjust="spacingAndGlyphs">z</text>
<text x="241.4" y="420.4" font-size="2.3" fill="#e8e8e8" font-weight="bold" textLength="5" lengthAdjust="spacingAndGlyphs">0.00</text>
<text x="247.6" y="420.3" font-size="2.0" fill="#e8e8e8" opacity="0.6">›</text>
<circle cx="252.6" cy="406.7" r="0.95" fill="#62c462" stroke="#111" stroke-width="0.4"/>
<circle cx="225.4" cy="411.5" r="0.95" fill="#62c462" stroke="#111" stroke-width="0.4"/>
<circle cx="225.4" cy="415.5" r="0.95" fill="#62c462" stroke="#111" stroke-width="0.4"/>
<circle cx="225.4" cy="419.6" r="0.95" fill="#62c462" stroke="#111" stroke-width="0.4"/>
<rect x="270.5" y="402.9" width="28.6" height="20" rx="1.6" fill="rgba(0,0,0,0.6)"/>
<rect x="271.3" y="403.4" width="27" height="18.5" rx="1" fill="#3f3f3f"/>
<path d="M271.3 404.4 a1 1 0 0 1 1 -1 h25 a1 1 0 0 1 1 1 v3.3 h-27 z" fill="#9f313e"/>
<path d="M273.1 405.35 l1 0 l-0.5 0.9z" fill="#ddd"/>
<text x="275.1" y="406.55" font-size="2.9" fill="#f6e6e8" font-weight="bold" opacity="0.62" textLength="21" lengthAdjust="spacingAndGlyphs">Polyline Connection</text>
<text x="290.1" y="411.35" font-size="2.5" fill="#e8e8e8" font-weight="bold" textLength="5" lengthAdjust="spacingAndGlyphs">Edges</text>
<text x="273.4" y="415.55" font-size="2.5" fill="#e8e8e8" font-weight="bold" textLength="11.4" lengthAdjust="spacingAndGlyphs">Num Verts</text>
<text x="273.4" y="419.75" font-size="2.5" fill="#e8e8e8" font-weight="bold" textLength="9.6" lengthAdjust="spacingAndGlyphs">Dist Verts</text>
<circle cx="298.3" cy="410.5" r="0.95" fill="#62c462" stroke="#111" stroke-width="0.4"/>
<circle cx="271.3" cy="414.7" r="0.95" fill="#62c462" stroke="#111" stroke-width="0.4"/>
<circle cx="271.3" cy="418.9" r="0.95" fill="#62c462" stroke="#111" stroke-width="0.4"/>
<rect x="224.7" y="424.5" width="28.8" height="24" rx="1.6" fill="rgba(0,0,0,0.6)"/>
<rect x="225.5" y="425" width="27.2" height="22.5" rx="1" fill="#3f3f3f"/>
<path d="M225.5 426 a1 1 0 0 1 1 -1 h25.2 a1 1 0 0 1 1 1 v3.5 h-27.2 z" fill="#9f313e"/>
<path d="M227.3 427.05 l1 0 l-0.5 0.9z" fill="#ddd"/>
<text x="229.3" y="428.25" font-size="2.9" fill="#f6e6e8" font-weight="bold" opacity="0.62" textLength="18" lengthAdjust="spacingAndGlyphs">Combine Vectors</text>
<text x="242.3" y="432.85" font-size="2.5" fill="#e8e8e8" font-weight="bold" textLength="7.4" lengthAdjust="spacingAndGlyphs">Vectors</text>
<rect x="228.4" y="435.55" width="21.4" height="2.5" rx="1" fill="#555555"/>
<text x="230.1" y="437.6" font-size="2.3" fill="#e8e8e8" font-weight="bold" textLength="1.4" lengthAdjust="spacingAndGlyphs">x</text>
<text x="241.5" y="437.6" font-size="2.3" fill="#e8e8e8" font-weight="bold" textLength="5" lengthAdjust="spacingAndGlyphs">0.00</text>
<text x="247.7" y="437.5" font-size="2.0" fill="#e8e8e8" opacity="0.6">›</text>
<rect x="228.4" y="439.55" width="21.4" height="2.5" rx="1" fill="#555555"/>
<text x="230.1" y="441.6" font-size="2.3" fill="#e8e8e8" font-weight="bold" textLength="1.4" lengthAdjust="spacingAndGlyphs">y</text>
<text x="241.5" y="441.6" font-size="2.3" fill="#e8e8e8" font-weight="bold" textLength="5" lengthAdjust="spacingAndGlyphs">0.00</text>
<text x="247.7" y="441.5" font-size="2.0" fill="#e8e8e8" opacity="0.6">›</text>
<rect x="228.4" y="443.65" width="21.4" height="2.5" rx="1" fill="#555555"/>
<text x="230.1" y="445.7" font-size="2.3" fill="#e8e8e8" font-weight="bold" textLength="1.4" lengthAdjust="spacingAndGlyphs">z</text>
<text x="241.5" y="445.7" font-size="2.3" fill="#e8e8e8" font-weight="bold" textLength="5" lengthAdjust="spacingAndGlyphs">0.00</text>
<text x="247.7" y="445.6" font-size="2.0" fill="#e8e8e8" opacity="0.6">›</text>
<circle cx="252.7" cy="432" r="0.95" fill="#62c462" stroke="#111" stroke-width="0.4"/>
<circle cx="225.5" cy="436.8" r="0.95" fill="#62c462" stroke="#111" stroke-width="0.4"/>
<circle cx="225.5" cy="440.8" r="0.95" fill="#62c462" stroke="#111" stroke-width="0.4"/>
<circle cx="225.5" cy="444.9" r="0.95" fill="#62c462" stroke="#111" stroke-width="0.4"/>
<rect x="270.5" y="423.5" width="28.6" height="20" rx="1.6" fill="rgba(0,0,0,0.6)"/>
<rect x="271.3" y="424" width="27" height="18.5" rx="1" fill="#3f3f3f"/>
<path d="M271.3 425 a1 1 0 0 1 1 -1 h25 a1 1 0 0 1 1 1 v3.3 h-27 z" fill="#9f313e"/>
<path d="M273.1 425.95 l1 0 l-0.5 0.9z" fill="#ddd"/>
<text x="275.1" y="427.15" font-size="2.9" fill="#f6e6e8" font-weight="bold" opacity="0.62" textLength="21" lengthAdjust="spacingAndGlyphs">Polyline Connection</text>
<text x="290.1" y="431.95" font-size="2.5" fill="#e8e8e8" font-weight="bold" textLength="5" lengthAdjust="spacingAndGlyphs">Edges</text>
<text x="273.4" y="436.15" font-size="2.5" fill="#e8e8e8" font-weight="bold" textLength="11.4" lengthAdjust="spacingAndGlyphs">Num Verts</text>
<text x="273.4" y="440.35" font-size="2.5" fill="#e8e8e8" font-weight="bold" textLength="9.6" lengthAdjust="spacingAndGlyphs">Dist Verts</text>
<circle cx="298.3" cy="431.1" r="0.95" fill="#62c462" stroke="#111" stroke-width="0.4"/>
<circle cx="271.3" cy="435.3" r="0.95" fill="#62c462" stroke="#111" stroke-width="0.4"/>
<circle cx="271.3" cy="439.5" r="0.95" fill="#62c462" stroke="#111" stroke-width="0.4"/>
<rect x="224.8" y="449.4" width="28.8" height="24" rx="1.6" fill="rgba(0,0,0,0.6)"/>
<rect x="225.6" y="449.9" width="27.2" height="22.5" rx="1" fill="#3f3f3f"/>
<path d="M225.6 450.9 a1 1 0 0 1 1 -1 h25.2 a1 1 0 0 1 1 1 v3.5 h-27.2 z" fill="#9f313e"/>
<path d="M227.4 451.95 l1 0 l-0.5 0.9z" fill="#ddd"/>
<text x="229.4" y="453.15" font-size="2.9" fill="#f6e6e8" font-weight="bold" opacity="0.62" textLength="18" lengthAdjust="spacingAndGlyphs">Combine Vectors</text>
<text x="242.4" y="457.75" font-size="2.5" fill="#e8e8e8" font-weight="bold" textLength="7.4" lengthAdjust="spacingAndGlyphs">Vectors</text>
<rect x="228.5" y="460.45" width="21.4" height="2.5" rx="1" fill="#555555"/>
<text x="230.2" y="462.5" font-size="2.3" fill="#e8e8e8" font-weight="bold" textLength="1.4" lengthAdjust="spacingAndGlyphs">x</text>
<text x="241.6" y="462.5" font-size="2.3" fill="#e8e8e8" font-weight="bold" textLength="5" lengthAdjust="spacingAndGlyphs">0.00</text>
<text x="247.8" y="462.4" font-size="2.0" fill="#e8e8e8" opacity="0.6">›</text>
<rect x="228.5" y="464.45" width="21.4" height="2.5" rx="1" fill="#555555"/>
<text x="230.2" y="466.5" font-size="2.3" fill="#e8e8e8" font-weight="bold" textLength="1.4" lengthAdjust="spacingAndGlyphs">y</text>
<text x="241.6" y="466.5" font-size="2.3" fill="#e8e8e8" font-weight="bold" textLength="5" lengthAdjust="spacingAndGlyphs">0.00</text>
<text x="247.8" y="466.4" font-size="2.0" fill="#e8e8e8" opacity="0.6">›</text>
<rect x="228.5" y="468.55" width="21.4" height="2.5" rx="1" fill="#555555"/>
<text x="230.2" y="470.6" font-size="2.3" fill="#e8e8e8" font-weight="bold" textLength="1.4" lengthAdjust="spacingAndGlyphs">z</text>
<text x="241.6" y="470.6" font-size="2.3" fill="#e8e8e8" font-weight="bold" textLength="5" lengthAdjust="spacingAndGlyphs">0.00</text>
<text x="247.8" y="470.5" font-size="2.0" fill="#e8e8e8" opacity="0.6">›</text>
<circle cx="252.8" cy="456.9" r="0.95" fill="#62c462" stroke="#111" stroke-width="0.4"/>
<circle cx="225.6" cy="461.7" r="0.95" fill="#62c462" stroke="#111" stroke-width="0.4"/>
<circle cx="225.6" cy="465.7" r="0.95" fill="#62c462" stroke="#111" stroke-width="0.4"/>
<circle cx="225.6" cy="469.8" r="0.95" fill="#62c462" stroke="#111" stroke-width="0.4"/>
<rect x="270.5" y="445.5" width="28.6" height="20" rx="1.6" fill="rgba(0,0,0,0.6)"/>
<rect x="271.3" y="446" width="27" height="18.5" rx="1" fill="#3f3f3f"/>
<path d="M271.3 447 a1 1 0 0 1 1 -1 h25 a1 1 0 0 1 1 1 v3.3 h-27 z" fill="#9f313e"/>
<path d="M273.1 447.95 l1 0 l-0.5 0.9z" fill="#ddd"/>
<text x="275.1" y="449.15" font-size="2.9" fill="#f6e6e8" font-weight="bold" opacity="0.62" textLength="21" lengthAdjust="spacingAndGlyphs">Polyline Connection</text>
<text x="290.1" y="453.95" font-size="2.5" fill="#e8e8e8" font-weight="bold" textLength="5" lengthAdjust="spacingAndGlyphs">Edges</text>
<text x="273.4" y="458.15" font-size="2.5" fill="#e8e8e8" font-weight="bold" textLength="11.4" lengthAdjust="spacingAndGlyphs">Num Verts</text>
<text x="273.4" y="462.35" font-size="2.5" fill="#e8e8e8" font-weight="bold" textLength="9.6" lengthAdjust="spacingAndGlyphs">Dist Verts</text>
<circle cx="298.3" cy="453.1" r="0.95" fill="#62c462" stroke="#111" stroke-width="0.4"/>
<circle cx="271.3" cy="457.3" r="0.95" fill="#62c462" stroke="#111" stroke-width="0.4"/>
<circle cx="271.3" cy="461.5" r="0.95" fill="#62c462" stroke="#111" stroke-width="0.4"/>
<rect x="225.2" y="474.1" width="28.8" height="24" rx="1.6" fill="rgba(0,0,0,0.6)"/>
<rect x="226" y="474.6" width="27.2" height="22.5" rx="1" fill="#3f3f3f"/>
<path d="M226 475.6 a1 1 0 0 1 1 -1 h25.2 a1 1 0 0 1 1 1 v3.5 h-27.2 z" fill="#9f313e"/>
<path d="M227.8 476.65 l1 0 l-0.5 0.9z" fill="#ddd"/>
<text x="229.8" y="477.85" font-size="2.9" fill="#f6e6e8" font-weight="bold" opacity="0.62" textLength="18" lengthAdjust="spacingAndGlyphs">Combine Vectors</text>
<text x="242.8" y="482.45" font-size="2.5" fill="#e8e8e8" font-weight="bold" textLength="7.4" lengthAdjust="spacingAndGlyphs">Vectors</text>
<rect x="228.9" y="485.15" width="21.4" height="2.5" rx="1" fill="#555555"/>
<text x="230.6" y="487.2" font-size="2.3" fill="#e8e8e8" font-weight="bold" textLength="1.4" lengthAdjust="spacingAndGlyphs">x</text>
<text x="242" y="487.2" font-size="2.3" fill="#e8e8e8" font-weight="bold" textLength="5" lengthAdjust="spacingAndGlyphs">0.00</text>
<text x="248.2" y="487.1" font-size="2.0" fill="#e8e8e8" opacity="0.6">›</text>
<rect x="228.9" y="489.15" width="21.4" height="2.5" rx="1" fill="#555555"/>
<text x="230.6" y="491.2" font-size="2.3" fill="#e8e8e8" font-weight="bold" textLength="1.4" lengthAdjust="spacingAndGlyphs">y</text>
<text x="242" y="491.2" font-size="2.3" fill="#e8e8e8" font-weight="bold" textLength="5" lengthAdjust="spacingAndGlyphs">0.00</text>
<text x="248.2" y="491.1" font-size="2.0" fill="#e8e8e8" opacity="0.6">›</text>
<rect x="228.9" y="493.25" width="21.4" height="2.5" rx="1" fill="#555555"/>
<text x="230.6" y="495.3" font-size="2.3" fill="#e8e8e8" font-weight="bold" textLength="1.4" lengthAdjust="spacingAndGlyphs">z</text>
<text x="242" y="495.3" font-size="2.3" fill="#e8e8e8" font-weight="bold" textLength="5" lengthAdjust="spacingAndGlyphs">0.00</text>
<text x="248.2" y="495.2" font-size="2.0" fill="#e8e8e8" opacity="0.6">›</text>
<circle cx="253.2" cy="481.6" r="0.95" fill="#62c462" stroke="#111" stroke-width="0.4"/>
<circle cx="226" cy="486.4" r="0.95" fill="#62c462" stroke="#111" stroke-width="0.4"/>
<circle cx="226" cy="490.4" r="0.95" fill="#62c462" stroke="#111" stroke-width="0.4"/>
<circle cx="226" cy="494.5" r="0.95" fill="#62c462" stroke="#111" stroke-width="0.4"/>
<rect x="270.5" y="467.2" width="28.6" height="20" rx="1.6" fill="rgba(0,0,0,0.6)"/>
<rect x="271.3" y="467.7" width="27" height="18.5" rx="1" fill="#3f3f3f"/>
<path d="M271.3 468.7 a1 1 0 0 1 1 -1 h25 a1 1 0 0 1 1 1 v3.3 h-27 z" fill="#9f313e"/>
<path d="M273.1 469.65 l1 0 l-0.5 0.9z" fill="#ddd"/>
<text x="275.1" y="470.85" font-size="2.9" fill="#f6e6e8" font-weight="bold" opacity="0.62" textLength="21" lengthAdjust="spacingAndGlyphs">Polyline Connection</text>
<text x="290.1" y="475.65" font-size="2.5" fill="#e8e8e8" font-weight="bold" textLength="5" lengthAdjust="spacingAndGlyphs">Edges</text>
<text x="273.4" y="479.85" font-size="2.5" fill="#e8e8e8" font-weight="bold" textLength="11.4" lengthAdjust="spacingAndGlyphs">Num Verts</text>
<text x="273.4" y="484.05" font-size="2.5" fill="#e8e8e8" font-weight="bold" textLength="9.6" lengthAdjust="spacingAndGlyphs">Dist Verts</text>
<circle cx="298.3" cy="474.8" r="0.95" fill="#62c462" stroke="#111" stroke-width="0.4"/>
<circle cx="271.3" cy="479" r="0.95" fill="#62c462" stroke="#111" stroke-width="0.4"/>
<circle cx="271.3" cy="483.2" r="0.95" fill="#62c462" stroke="#111" stroke-width="0.4"/>
<rect x="313.6" y="415.5" width="28.8" height="47.3" rx="1.6" fill="rgba(0,0,0,0.6)"/>
<rect x="314.4" y="416" width="27.2" height="45.8" rx="1" fill="#3f3f3f"/>
<path d="M314.4 417 a1 1 0 0 1 1 -1 h25.2 a1 1 0 0 1 1 1 v3.3 h-27.2 z" fill="#9f313e"/>
<path d="M316.2 417.95 l1 0 l-0.5 0.9z" fill="#ddd"/>
<text x="318.2" y="419.15" font-size="2.9" fill="#f6e6e8" font-weight="bold" opacity="0.62" textLength="11.5" lengthAdjust="spacingAndGlyphs">List Join(1)</text>
<path d="M337 416.7 l0.9 0 l0 1.9 l1.9 0 l0.5 -1.2 l0.4 0 l-0.2 2.1 l-3.5 0 z" fill="#f2f2f2"/>
<text x="332.5" y="423.85" font-size="2.5" fill="#e8e8e8" font-weight="bold" textLength="5.8" lengthAdjust="spacingAndGlyphs">data</text>
<rect x="317.4" y="427.2" width="1.4" height="1.4" rx="0.3" fill="#5a5a5a"/>
<text x="319.9" y="428.75" font-size="2.5" fill="#e8e8e8" font-weight="bold" textLength="6.2" lengthAdjust="spacingAndGlyphs">Flatten</text>
<text x="319.8" y="433.85" font-size="2.5" fill="#e8e8e8" font-weight="bold" textLength="2.8" lengthAdjust="spacingAndGlyphs">Fill</text>
<text x="332" y="433.85" font-size="2.5" fill="#e8e8e8" font-weight="bold" textLength="5.2" lengthAdjust="spacingAndGlyphs">Wrap</text>
<rect x="317.4" y="437" width="21.2" height="2.5" rx="1" fill="#555555"/>
<text x="318" y="439.1" font-size="2.3" fill="#e8e8e8" font-weight="bold" textLength="8" lengthAdjust="spacingAndGlyphs">JoinLevel</text>
<text x="335.4" y="439.1" font-size="2.3" fill="#e8e8e8" font-weight="bold">1</text>
<text x="316.6" y="443.55" font-size="2.5" fill="#e8e8e8" font-weight="bold" textLength="4" lengthAdjust="spacingAndGlyphs">data</text>
<text x="316.6" y="447.65" font-size="2.5" fill="#e8e8e8" font-weight="bold" textLength="5" lengthAdjust="spacingAndGlyphs">data 1</text>
<text x="316.6" y="451.45" font-size="2.5" fill="#e8e8e8" font-weight="bold" textLength="5" lengthAdjust="spacingAndGlyphs">data 2</text>
<text x="316.6" y="455.45" font-size="2.5" fill="#e8e8e8" font-weight="bold" textLength="5" lengthAdjust="spacingAndGlyphs">data 3</text>
<text x="316.6" y="459.65" font-size="2.5" fill="#e8e8e8" font-weight="bold" textLength="5" lengthAdjust="spacingAndGlyphs">data 4</text>
<circle cx="341.6" cy="423" r="0.95" fill="#62c462" stroke="#111" stroke-width="0.4"/>
<circle cx="314.4" cy="442.7" r="0.95" fill="#62c462" stroke="#111" stroke-width="0.4"/>
<circle cx="314.4" cy="446.8" r="0.95" fill="#62c462" stroke="#111" stroke-width="0.4"/>
<circle cx="314.4" cy="450.6" r="0.95" fill="#62c462" stroke="#111" stroke-width="0.4"/>
<circle cx="314.4" cy="454.6" r="0.95" fill="#62c462" stroke="#111" stroke-width="0.4"/>
<circle cx="314.4" cy="458.8" r="0.95" fill="#62c462" stroke="#111" stroke-width="0.4"/>
<rect x="361.5" y="423.5" width="28.6" height="15.3" rx="1.6" fill="rgba(0,0,0,0.6)"/>
<rect x="362.3" y="424" width="27" height="13.8" rx="1" fill="#3f3f3f"/>
<path d="M362.3 425 a1 1 0 0 1 1 -1 h25 a1 1 0 0 1 1 1 v3 h-27 z" fill="#9f313e"/>
<path d="M364.1 425.8 l1 0 l-0.5 0.9z" fill="#ddd"/>
<text x="366.1" y="427" font-size="2.9" fill="#f6e6e8" font-weight="bold" opacity="0.62" textLength="10.3" lengthAdjust="spacingAndGlyphs">Mesh Edges</text>
<text x="381.3" y="431.45" font-size="2.5" fill="#e8e8e8" font-weight="bold" textLength="4.9" lengthAdjust="spacingAndGlyphs">Verts</text>
<text x="364.3" y="436.25" font-size="2.5" fill="#e8e8e8" font-weight="bold" textLength="6" lengthAdjust="spacingAndGlyphs">Object</text>
<circle cx="389.3" cy="430.6" r="0.95" fill="#62c462" stroke="#111" stroke-width="0.4"/>
<circle cx="362.3" cy="435.4" r="0.95" fill="#62c462" stroke="#111" stroke-width="0.4"/>
<rect x="418.7" y="91.5" width="28.6" height="40" rx="1.6" fill="rgba(0,0,0,0.6)"/>
<rect x="419.5" y="92" width="27" height="38.5" rx="1" fill="#5b5bae"/>
<path d="M419.5 93 a1 1 0 0 1 1 -1 h25 a1 1 0 0 1 1 1 v2.2 h-27 z" fill="#9f313e"/>
<path d="M421.3 93.4 l1 0 l-0.5 0.9z" fill="#ddd"/>
<text x="423.3" y="94.6" font-size="2.9" fill="#f6e6e8" font-weight="bold" opacity="0.62" textLength="13.5" lengthAdjust="spacingAndGlyphs">Stethoscope</text>
<path d="M441.9 92.7 l0.9 0 l0 1.9 l1.9 0 l0.5 -1.2 l0.4 0 l-0.2 2.1 l-3.5 0 z" fill="#f2f2f2"/>
<path d="M423.8 98.3 l1.5 -1.4 l1.5 1.4 l-1.5 1.6z" fill="#fff"/>
<rect x="429.7" y="96.8" width="14.2" height="3.2" rx="1.5" fill="#f4f4f4"/>
<rect x="422.1" y="101.6" width="21.8" height="2.9" rx="1.2" fill="#4e4e52"/>
<rect x="422.1" y="101.6" width="10.4" height="2.9" rx="1.2" fill="#5d86d6"/>
<text x="422.9" y="103.9" font-size="2.1" fill="#e8e8e8" font-weight="bold" textLength="8.5" lengthAdjust="spacingAndGlyphs">Sort level</text>
<text x="433.9" y="103.9" font-size="2.1" fill="#e8e8e8" font-weight="bold" textLength="7.5" lengthAdjust="spacingAndGlyphs">Display</text>
<rect x="422.1" y="106.8" width="21.8" height="2.9" rx="1.2" fill="#4e4e52"/>
<rect x="422.1" y="111.1" width="21.8" height="2.9" rx="1.2" fill="#4e4e52"/>
<text x="423.1" y="109.1" font-size="2.1" fill="#e8e8e8" font-weight="bold" textLength="6.4" lengthAdjust="spacingAndGlyphs">Levels</text>
<text x="433.9" y="109.1" font-size="2.1" fill="#e8e8e8" font-weight="bold" textLength="7.5" lengthAdjust="spacingAndGlyphs">Compact</text>
<text x="424.1" y="113.4" font-size="2.1" fill="#e8e8e8" font-weight="bold" textLength="4" lengthAdjust="spacingAndGlyphs">Both</text>
<text x="435.1" y="113.4" font-size="2.1" fill="#e8e8e8" font-weight="bold" textLength="5" lengthAdjust="spacingAndGlyphs">Depth</text>
<text x="421.9" y="118.4" font-size="2.1" fill="#e8e8e8" font-weight="bold" textLength="13" lengthAdjust="spacingAndGlyphs">Show text window</text>
<rect x="422.1" y="120.7" width="21.8" height="3" rx="1.5" fill="#4e4e52"/>
<text x="425.5" y="123" font-size="2.1" fill="#e8e8e8" font-weight="bold" textLength="11" lengthAdjust="spacingAndGlyphs">Do by print</text>
<text x="421.7" y="128.15" font-size="2.5" fill="#e8e8e8" font-weight="bold" textLength="5" lengthAdjust="spacingAndGlyphs">Data</text>
<circle cx="419.5" cy="127.3" r="0.95" fill="#62c462" stroke="#111" stroke-width="0.4"/>
<rect x="362.4" y="167.3" width="28.4" height="45.5" rx="1.6" fill="rgba(0,0,0,0.6)"/>
<rect x="363.2" y="167.8" width="26.8" height="44" rx="1" fill="#095b5a"/>
<path d="M363.2 168.8 a1 1 0 0 1 1 -1 h24.8 a1 1 0 0 1 1 1 v3.1 h-26.8 z" fill="#9f313e"/>
<path d="M365 169.65 l1 0 l-0.5 0.9z" fill="#ddd"/>
<text x="367" y="170.85" font-size="2.9" fill="#f6e6e8" font-weight="bold" opacity="0.62" textLength="4.5" lengthAdjust="spacingAndGlyphs">Box</text>
<path d="M385.4 168.5 l0.9 0 l0 1.9 l1.9 0 l0.5 -1.2 l0.4 0 l-0.2 2.1 l-3.5 0 z" fill="#f2f2f2"/>
<text x="379.8" y="175.05" font-size="2.5" fill="#e8e8e8" font-weight="bold" textLength="7" lengthAdjust="spacingAndGlyphs">Vertices</text>
<text x="381.8" y="179.35" font-size="2.5" fill="#e8e8e8" font-weight="bold" textLength="5" lengthAdjust="spacingAndGlyphs">Edges</text>
<text x="382.3" y="183.55" font-size="2.5" fill="#e8e8e8" font-weight="bold" textLength="4.5" lengthAdjust="spacingAndGlyphs">Faces</text>
<text x="365.4" y="189.05" font-size="2.5" fill="#e8e8e8" font-weight="bold" textLength="5" lengthAdjust="spacingAndGlyphs">Angle</text>
<rect x="373.6" y="186.9" width="13.6" height="2.6" rx="1" fill="#1c2626"/>
<rect x="373.6" y="186.9" width="7.4" height="2.6" rx="1" fill="#4a5656"/>
<text x="374.4" y="189" font-size="2.2" fill="#e8e8e8" font-weight="bold" textLength="5" lengthAdjust="spacingAndGlyphs">0.454</text>
<rect x="365.8" y="191.5" width="21.6" height="2.6" rx="1" fill="#5d6565"/>
<text x="367.4" y="193.6" font-size="2.2" fill="#e8e8e8" font-weight="bold" textLength="4" lengthAdjust="spacingAndGlyphs">Size</text>
<text x="382.4" y="193.6" font-size="2.2" fill="#e8e8e8" font-weight="bold" textLength="4" lengthAdjust="spacingAndGlyphs">1.00</text>
<rect x="365.8" y="195.5" width="21.6" height="2.6" rx="1" fill="#5d6565"/>
<text x="367.4" y="197.6" font-size="2.2" fill="#e8e8e8" font-weight="bold" textLength="4" lengthAdjust="spacingAndGlyphs">Divx</text>
<text x="384.9" y="197.6" font-size="2.2" fill="#e8e8e8" font-weight="bold" textLength="1.2" lengthAdjust="spacingAndGlyphs">1</text>
<rect x="365.8" y="199.4" width="21.6" height="2.6" rx="1" fill="#5d6565"/>
<text x="367.4" y="201.5" font-size="2.2" fill="#e8e8e8" font-weight="bold" textLength="4" lengthAdjust="spacingAndGlyphs">Divy</text>
<text x="384.9" y="201.5" font-size="2.2" fill="#e8e8e8" font-weight="bold" textLength="1.2" lengthAdjust="spacingAndGlyphs">1</text>
<rect x="365.8" y="203.4" width="21.6" height="2.6" rx="1" fill="#5d6565"/>
<text x="367.4" y="205.5" font-size="2.2" fill="#e8e8e8" font-weight="bold" textLength="4" lengthAdjust="spacingAndGlyphs">Divz</text>
<text x="384.9" y="205.5" font-size="2.2" fill="#e8e8e8" font-weight="bold" textLength="1.2" lengthAdjust="spacingAndGlyphs">1</text>
<rect x="366.5" y="207.8" width="1.8" height="1.8" rx="0.3" fill="#dddddd"/>
<text x="369.2" y="209.85" font-size="2.5" fill="#e8e8e8" font-weight="bold" textLength="6" lengthAdjust="spacingAndGlyphs">Flatten</text>
<circle cx="390" cy="174.2" r="0.95" fill="#e39a33" stroke="#111" stroke-width="0.4"/>
<circle cx="390" cy="178.5" r="0.95" fill="#62c462" stroke="#111" stroke-width="0.4"/>
<circle cx="390" cy="182.7" r="0.95" fill="#62c462" stroke="#111" stroke-width="0.4"/>
<circle cx="363.2" cy="192.8" r="0.95" fill="#62c462" stroke="#111" stroke-width="0.4"/>
<circle cx="363.2" cy="196.8" r="0.95" fill="#62c462" stroke="#111" stroke-width="0.4"/>
<circle cx="363.2" cy="200.7" r="0.95" fill="#62c462" stroke="#111" stroke-width="0.4"/>
<circle cx="363.2" cy="204.7" r="0.95" fill="#62c462" stroke="#111" stroke-width="0.4"/>
<circle cx="363.2" cy="209" r="0.95" fill="#62c462" stroke="#111" stroke-width="0.4"/>
<rect x="427.2" y="160.5" width="29.2" height="27.9" rx="1.6" fill="rgba(0,0,0,0.6)"/>
<rect x="428" y="161" width="27.6" height="26.4" rx="1" fill="#3f3f3f"/>
<path d="M428 162 a1 1 0 0 1 1 -1 h25.6 a1 1 0 0 1 1 1 v2.9 h-27.6 z" fill="#9f313e"/>
<path d="M429.8 162.75 l1 0 l-0.5 0.9z" fill="#ddd"/>
<text x="431.8" y="163.95" font-size="2.9" fill="#f6e6e8" font-weight="bold" opacity="0.62" textLength="15" lengthAdjust="spacingAndGlyphs">Bmesh Props</text>
<text x="446.5" y="168.35" font-size="2.5" fill="#e8e8e8" font-weight="bold" textLength="5.5" lengthAdjust="spacingAndGlyphs">bmesh</text>
<text x="430.2" y="173.35" font-size="2.5" fill="#e8e8e8" font-weight="bold" textLength="8" lengthAdjust="spacingAndGlyphs">Vertices</text>
<text x="430.2" y="177.25" font-size="2.5" fill="#e8e8e8" font-weight="bold" textLength="5.2" lengthAdjust="spacingAndGlyphs">Edges</text>
<text x="430.2" y="180.95" font-size="2.5" fill="#e8e8e8" font-weight="bold" textLength="5.6" lengthAdjust="spacingAndGlyphs">Faces</text>
<rect x="430.9" y="183.1" width="21.6" height="2.6" rx="1" fill="#555555"/>
<text x="434" y="185.2" font-size="2.3" fill="#e8e8e8" font-weight="bold">a</text>
<text x="442.5" y="185.2" font-size="2.3" fill="#e8e8e8" font-weight="bold" textLength="5.5" lengthAdjust="spacingAndGlyphs">0.000</text>
<circle cx="455.6" cy="167.5" r="0.95" fill="#62c462" stroke="#111" stroke-width="0.4"/>
<circle cx="428" cy="172.5" r="0.95" fill="#e39a33" stroke="#111" stroke-width="0.4"/>
<circle cx="428" cy="176.4" r="0.95" fill="#62c462" stroke="#111" stroke-width="0.4"/>
<circle cx="428" cy="180.1" r="0.95" fill="#62c462" stroke="#111" stroke-width="0.4"/>
<circle cx="428" cy="184.4" r="0.95" fill="#62c462" stroke="#111" stroke-width="0.4"/>
<rect x="434.3" y="276" width="28.3" height="19.6" rx="1.6" fill="rgba(0,0,0,0.6)"/>
<rect x="435.1" y="276.5" width="26.7" height="18.1" rx="1" fill="#3f3f3f"/>
<path d="M435.1 277.5 a1 1 0 0 1 1 -1 h24.7 a1 1 0 0 1 1 1 v3 h-26.7 z" fill="#9f313e"/>
<path d="M436.9 278.3 l1 0 l-0.5 0.9z" fill="#ddd"/>
<text x="438.9" y="279.5" font-size="2.9" fill="#f6e6e8" font-weight="bold" opacity="0.62" textLength="10.6" lengthAdjust="spacingAndGlyphs">Bmesh Props</text>
<text x="454.1" y="283.95" font-size="2.5" fill="#e8e8e8" font-weight="bold" textLength="4.9" lengthAdjust="spacingAndGlyphs">Data</text>
<text x="437" y="288.45" font-size="2.5" fill="#e8e8e8" font-weight="bold" textLength="14" lengthAdjust="spacingAndGlyphs">Bmesh vertices</text>
<text x="437" y="292.35" font-size="2.5" fill="#e8e8e8" font-weight="bold" textLength="14.8" lengthAdjust="spacingAndGlyphs">Bmesh vertices2</text>
<circle cx="461.8" cy="283.1" r="0.95" fill="#62c462" stroke="#111" stroke-width="0.4"/>
<circle cx="435.1" cy="287.6" r="0.95" fill="#62c462" stroke="#111" stroke-width="0.4"/>
<circle cx="435.1" cy="291.5" r="0.95" fill="#62c462" stroke="#111" stroke-width="0.4"/>
<rect x="477.5" y="259.3" width="29" height="23.3" rx="1.6" fill="rgba(0,0,0,0.6)"/>
<rect x="478.3" y="259.8" width="27.4" height="21.8" rx="1" fill="#3f3f3f"/>
<path d="M478.3 260.8 a1 1 0 0 1 1 -1 h25.4 a1 1 0 0 1 1 1 v3.4 h-27.4 z" fill="#9f313e"/>
<path d="M480.1 261.8 l1 0 l-0.5 0.9z" fill="#ddd"/>
<text x="482.1" y="263" font-size="2.9" fill="#f6e6e8" font-weight="bold" opacity="0.62" textLength="12" lengthAdjust="spacingAndGlyphs">Bmesh Props</text>
<text x="494.3" y="266.95" font-size="2.5" fill="#e8e8e8" font-weight="bold" textLength="8" lengthAdjust="spacingAndGlyphs">Vertices</text>
<text x="497.3" y="271.15" font-size="2.5" fill="#e8e8e8" font-weight="bold" textLength="5" lengthAdjust="spacingAndGlyphs">Edges</text>
<text x="496.8" y="275.35" font-size="2.5" fill="#e8e8e8" font-weight="bold" textLength="5.5" lengthAdjust="spacingAndGlyphs">Faces</text>
<text x="480.5" y="280.15" font-size="2.5" fill="#e8e8e8" font-weight="bold" textLength="6" lengthAdjust="spacingAndGlyphs">bmesh</text>
<circle cx="505.7" cy="266.1" r="0.95" fill="#e39a33" stroke="#111" stroke-width="0.4"/>
<circle cx="505.7" cy="270.3" r="0.95" fill="#62c462" stroke="#111" stroke-width="0.4"/>
<circle cx="505.7" cy="274.5" r="0.95" fill="#62c462" stroke="#111" stroke-width="0.4"/>
<circle cx="478.3" cy="279.3" r="0.95" fill="#62c462" stroke="#111" stroke-width="0.4"/>
<rect x="524.2" y="224.5" width="28.6" height="63.8" rx="1.6" fill="rgba(0,0,0,0.6)"/>
<rect x="525" y="225" width="27" height="62.3" rx="1" fill="#ae692a"/>
<path d="M525 226 a1 1 0 0 1 1 -1 h25 a1 1 0 0 1 1 1 v2.6 h-27 z" fill="#9f313e"/>
<path d="M526.8 226.6 l1 0 l-0.5 0.9z" fill="#ddd"/>
<text x="528.8" y="227.8" font-size="2.9" fill="#f6e6e8" font-weight="bold" opacity="0.62" textLength="10" lengthAdjust="spacingAndGlyphs">Viewer</text>
<path d="M547.4 225.7 l0.9 0 l0 1.9 l1.9 0 l0.5 -1.2 l0.4 0 l-0.2 2.1 l-3.5 0 z" fill="#f2f2f2"/>
<text x="542.1" y="232.65" font-size="2.5" fill="#e8e8e8" font-weight="bold" textLength="6.5" lengthAdjust="spacingAndGlyphs">Objects</text>
<rect x="527.7" y="236.6" width="9.8" height="2.5" rx="1.1" fill="#5b87d4"/>
<rect x="538.9" y="236.4" width="3.2" height="2.8" rx="0.4" fill="#d8dde8"/>
<rect x="542.4" y="236.4" width="3" height="2.8" rx="0.4" fill="#9cb0d8"/>
<rect x="545.8" y="236" width="3.6" height="3.2" rx="0.6" fill="#e6e9f0"/>
<rect x="527.7" y="240.7" width="21.9" height="13.8" rx="1.4" fill="#2a2a2a"/>
<rect x="527.7" y="243.9" width="21.9" height="7.6" rx="0.9" fill="#5c5c5c"/>
<text x="537" y="248.3" font-size="2.1" fill="#e8e8e8" font-weight="bold" textLength="3.4" lengthAdjust="spacingAndGlyphs">Set</text>
<text x="531.6" y="242.9" font-size="2.0" fill="#e8e8e8" font-weight="bold" textLength="7.5" lengthAdjust="spacingAndGlyphs">Cube.001</text>
<path d="M528.6 242.5 l1.4 -1.4 l0.5 0.9 l-1 1.2z" fill="#eee"/>
<path d="M528.6 253.5 l1.4 -1.4 l0.5 0.9 l-1 1.2z" fill="#eee"/>
<rect x="546.2" y="241.3" width="2.8" height="2.4" rx="0.3" fill="#cfcfcf"/>
<rect x="527.7" y="257.2" width="21.9" height="2.8" rx="1.3" fill="#2a2a2a"/>
<path d="M528.6 259 l1.6 -1.2 l0.6 0.8 l-1.4 1.2z" fill="#ddd"/>
<rect x="546" y="257.2" width="3.4" height="2.8" rx="1.2" fill="#4a4a4a"/>
<rect x="527.7" y="261.8" width="21.9" height="2.9" rx="1.3" fill="#505050"/>
<rect x="527.7" y="261.8" width="10.2" height="2.9" rx="1.3" fill="#5b87d4"/>
<rect x="528.6" y="262.4" width="1.8" height="1.8" rx="0.4" fill="#f0f0f0"/>
<text x="531" y="264" font-size="2.0" fill="#e8e8e8" font-weight="bold" textLength="5" lengthAdjust="spacingAndGlyphs">Group</text>
<text x="539.5" y="264" font-size="2.0" fill="#e8e8e8" font-weight="bold" textLength="6.5" lengthAdjust="spacingAndGlyphs">Transp</text>
<text x="527.4" y="268.55" font-size="2.5" fill="#e8e8e8" font-weight="bold" textLength="7" lengthAdjust="spacingAndGlyphs">vertices</text>
<text x="527.4" y="272.55" font-size="2.5" fill="#e8e8e8" font-weight="bold" textLength="5.5" lengthAdjust="spacingAndGlyphs">edges</text>
<text x="527.4" y="276.85" font-size="2.5" fill="#e8e8e8" font-weight="bold" textLength="5.4" lengthAdjust="spacingAndGlyphs">faces</text>
<text x="527.4" y="280.75" font-size="2.5" fill="#e8e8e8" font-weight="bold" textLength="8" lengthAdjust="spacingAndGlyphs">matrices</text>
<rect x="527.6" y="282.5" width="2.4" height="2.4" rx="0.4" fill="#5f5f5f"/>
<rect x="528.1" y="283" width="1.4" height="1.4" rx="0.2" fill="#dddddd"/>
<text x="531" y="284.65" font-size="2.5" fill="#e8e8e8" font-weight="bold" textLength="5" lengthAdjust="spacingAndGlyphs">Mesh</text>
<rect x="545.2" y="282.4" width="4" height="2.8" rx="0.8" fill="#505050"/>
<rect x="545.5" y="282.6" width="2.2" height="2.3" rx="0.4" fill="#f2f2f2"/>
<circle cx="548.2" cy="272.3" r="1.7" fill="#7a5532" stroke="#4d3620" stroke-width="0.4"/>
<circle cx="552" cy="231.8" r="0.95" fill="#5a5a5a" stroke="#111" stroke-width="0.4"/>
<circle cx="525" cy="267.7" r="0.95" fill="#5a5a5a" stroke="#111" stroke-width="0.4"/>
<circle cx="525" cy="271.7" r="0.95" fill="#62c462" stroke="#111" stroke-width="0.4"/>
<circle cx="525" cy="276" r="0.95" fill="#62c462" stroke="#111" stroke-width="0.4"/>
<circle cx="525" cy="279.9" r="0.95" fill="#62c462" stroke="#111" stroke-width="0.4"/>
<circle cx="525" cy="283.8" r="0.95" fill="#3fb5b5" stroke="#111" stroke-width="0.4"/>
<rect x="403.4" y="312.7" width="29.1" height="43.3" rx="1.6" fill="rgba(0,0,0,0.6)"/>
<rect x="404.2" y="313.2" width="27.5" height="41.8" rx="1" fill="#3f3f3f"/>
<path d="M404.2 314.2 a1 1 0 0 1 1 -1 h25.5 a1 1 0 0 1 1 1 v3 h-27.5 z" fill="#9f313e"/>
<path d="M406 315 l1 0 l-0.5 0.9z" fill="#ddd"/>
<text x="408" y="316.2" font-size="2.9" fill="#f6e6e8" font-weight="bold" opacity="0.62" textLength="11.5" lengthAdjust="spacingAndGlyphs">List Join(2)</text>
<path d="M427.1 313.9 l0.9 0 l0 1.9 l1.9 0 l0.5 -1.2 l0.4 0 l-0.2 2.1 l-3.5 0 z" fill="#f2f2f2"/>
<text x="422.6" y="320.85" font-size="2.5" fill="#e8e8e8" font-weight="bold" textLength="5.8" lengthAdjust="spacingAndGlyphs">data</text>
<rect x="407.2" y="324.4" width="1.4" height="1.4" rx="0.3" fill="#5a5a5a"/>
<text x="409.7" y="325.95" font-size="2.5" fill="#e8e8e8" font-weight="bold" textLength="6.2" lengthAdjust="spacingAndGlyphs">Flatten</text>
<text x="409.6" y="331.05" font-size="2.5" fill="#e8e8e8" font-weight="bold" textLength="2.8" lengthAdjust="spacingAndGlyphs">Fill</text>
<text x="422.1" y="331.05" font-size="2.5" fill="#e8e8e8" font-weight="bold" textLength="5.2" lengthAdjust="spacingAndGlyphs">Wrap</text>
<rect x="407.2" y="334.2" width="21.5" height="2.5" rx="1" fill="#555555"/>
<text x="407.8" y="336.3" font-size="2.3" fill="#e8e8e8" font-weight="bold" textLength="8" lengthAdjust="spacingAndGlyphs">JoinLevel</text>
<text x="425.5" y="336.3" font-size="2.3" fill="#e8e8e8" font-weight="bold">1</text>
<text x="406.4" y="341.05" font-size="2.5" fill="#e8e8e8" font-weight="bold" textLength="4" lengthAdjust="spacingAndGlyphs">data</text>
<text x="406.4" y="344.85" font-size="2.5" fill="#e8e8e8" font-weight="bold" textLength="5" lengthAdjust="spacingAndGlyphs">data 1</text>
<text x="406.4" y="348.65" font-size="2.5" fill="#e8e8e8" font-weight="bold" textLength="5" lengthAdjust="spacingAndGlyphs">data 2</text>
<text x="406.4" y="352.65" font-size="2.5" fill="#e8e8e8" font-weight="bold" textLength="5" lengthAdjust="spacingAndGlyphs">data 3</text>
<circle cx="431.7" cy="320" r="0.95" fill="#62c462" stroke="#111" stroke-width="0.4"/>
<circle cx="404.2" cy="340.2" r="0.95" fill="#62c462" stroke="#111" stroke-width="0.4"/>
<circle cx="404.2" cy="344" r="0.95" fill="#62c462" stroke="#111" stroke-width="0.4"/>
<circle cx="404.2" cy="347.8" r="0.95" fill="#62c462" stroke="#111" stroke-width="0.4"/>
<circle cx="404.2" cy="351.8" r="0.95" fill="#62c462" stroke="#111" stroke-width="0.4"/>
<rect x="534.7" y="314.7" width="28.2" height="19.1" rx="1.6" fill="rgba(0,0,0,0.6)"/>
<rect x="535.5" y="315.2" width="26.6" height="17.6" rx="1" fill="#3f3f3f"/>
<path d="M535.5 316.2 a1 1 0 0 1 1 -1 h24.6 a1 1 0 0 1 1 1 v3 h-26.6 z" fill="#9f313e"/>
<path d="M537.3 317 l1 0 l-0.5 0.9z" fill="#ddd"/>
<text x="539.3" y="318.2" font-size="2.9" fill="#f6e6e8" font-weight="bold" opacity="0.62" textLength="15" lengthAdjust="spacingAndGlyphs">Bmesh Props</text>
<text x="553.6" y="322.65" font-size="2.5" fill="#e8e8e8" font-weight="bold" textLength="5.7" lengthAdjust="spacingAndGlyphs">Data</text>
<text x="537.4" y="327.15" font-size="2.5" fill="#e8e8e8" font-weight="bold" textLength="6" lengthAdjust="spacingAndGlyphs">Bmesh vertices</text>
<text x="537.4" y="331.05" font-size="2.5" fill="#e8e8e8" font-weight="bold" textLength="10" lengthAdjust="spacingAndGlyphs">Bmesh vertices2</text>
<circle cx="562.1" cy="321.8" r="0.95" fill="#62c462" stroke="#111" stroke-width="0.4"/>
<circle cx="535.5" cy="326.3" r="0.95" fill="#62c462" stroke="#111" stroke-width="0.4"/>
<circle cx="535.5" cy="330.2" r="0.95" fill="#62c462" stroke="#111" stroke-width="0.4"/>
<rect x="612.4" y="350.5" width="29" height="15.2" rx="1.6" fill="rgba(0,0,0,0.6)"/>
<rect x="613.2" y="351" width="27.4" height="13.7" rx="1" fill="#3f3f3f"/>
<path d="M613.2 352 a1 1 0 0 1 1 -1 h25.4 a1 1 0 0 1 1 1 v3 h-27.4 z" fill="#9f313e"/>
<path d="M615 352.8 l1 0 l-0.5 0.9z" fill="#ddd"/>
<text x="617" y="354" font-size="2.9" fill="#f6e6e8" font-weight="bold" opacity="0.62" textLength="15" lengthAdjust="spacingAndGlyphs">Mesh Edges</text>
<text x="628.5" y="358.45" font-size="2.5" fill="#e8e8e8" font-weight="bold" textLength="9" lengthAdjust="spacingAndGlyphs">Verts</text>
<text x="615.2" y="363.25" font-size="2.5" fill="#e8e8e8" font-weight="bold" textLength="6" lengthAdjust="spacingAndGlyphs">Object</text>
<circle cx="640.6" cy="357.6" r="0.95" fill="#62c462" stroke="#111" stroke-width="0.4"/>
<circle cx="613.2" cy="362.4" r="0.95" fill="#62c462" stroke="#111" stroke-width="0.4"/>
<rect x="827.7" y="324.8" width="28.2" height="19.7" rx="1.6" fill="rgba(0,0,0,0.6)"/>
<rect x="828.5" y="325.3" width="26.6" height="18.2" rx="1" fill="#3f3f3f"/>
<path d="M828.5 326.3 a1 1 0 0 1 1 -1 h24.6 a1 1 0 0 1 1 1 v3 h-26.6 z" fill="#9f313e"/>
<path d="M830.3 327.1 l1 0 l-0.5 0.9z" fill="#ddd"/>
<text x="832.3" y="328.3" font-size="2.9" fill="#f6e6e8" font-weight="bold" opacity="0.62" textLength="15" lengthAdjust="spacingAndGlyphs">Bmesh Props</text>
<text x="846.3" y="332.75" font-size="2.5" fill="#e8e8e8" font-weight="bold" textLength="6" lengthAdjust="spacingAndGlyphs">Data</text>
<text x="830.4" y="337.25" font-size="2.5" fill="#e8e8e8" font-weight="bold" textLength="5.8" lengthAdjust="spacingAndGlyphs">Bmesh vertices</text>
<text x="830.4" y="341.15" font-size="2.5" fill="#e8e8e8" font-weight="bold" textLength="8.8" lengthAdjust="spacingAndGlyphs">Bmesh vertices2</text>
<circle cx="855.1" cy="331.9" r="0.95" fill="#62c462" stroke="#111" stroke-width="0.4"/>
<circle cx="828.5" cy="336.4" r="0.95" fill="#62c462" stroke="#111" stroke-width="0.4"/>
<circle cx="828.5" cy="340.3" r="0.95" fill="#62c462" stroke="#111" stroke-width="0.4"/>
<rect x="821.2" y="414.5" width="28.2" height="19.3" rx="1.6" fill="rgba(0,0,0,0.6)"/>
<rect x="822" y="415" width="26.6" height="17.8" rx="1" fill="#3f3f3f"/>
<path d="M822 416 a1 1 0 0 1 1 -1 h24.6 a1 1 0 0 1 1 1 v3 h-26.6 z" fill="#9f313e"/>
<path d="M823.8 416.8 l1 0 l-0.5 0.9z" fill="#ddd"/>
<text x="825.8" y="418" font-size="2.9" fill="#f6e6e8" font-weight="bold" opacity="0.62" textLength="20" lengthAdjust="spacingAndGlyphs">Bmesh Props</text>
<text x="836.9" y="422.45" font-size="2.5" fill="#e8e8e8" font-weight="bold" textLength="8.9" lengthAdjust="spacingAndGlyphs">Data</text>
<text x="823.9" y="426.95" font-size="2.5" fill="#e8e8e8" font-weight="bold" textLength="5.4" lengthAdjust="spacingAndGlyphs">Bmesh vertices</text>
<text x="823.9" y="430.85" font-size="2.5" fill="#e8e8e8" font-weight="bold" textLength="6.8" lengthAdjust="spacingAndGlyphs">Bmesh vertices2</text>
<circle cx="848.6" cy="421.6" r="0.95" fill="#62c462" stroke="#111" stroke-width="0.4"/>
<circle cx="822" cy="426.1" r="0.95" fill="#62c462" stroke="#111" stroke-width="0.4"/>
<circle cx="822" cy="430" r="0.95" fill="#62c462" stroke="#111" stroke-width="0.4"/>
<rect x="868.6" y="445" width="28.2" height="15.8" rx="1.6" fill="rgba(0,0,0,0.6)"/>
<rect x="869.4" y="445.5" width="26.6" height="14.3" rx="1" fill="#3f3f3f"/>
<path d="M869.4 446.5 a1 1 0 0 1 1 -1 h24.6 a1 1 0 0 1 1 1 v3 h-26.6 z" fill="#9f313e"/>
<path d="M871.2 447.3 l1 0 l-0.5 0.9z" fill="#ddd"/>
<text x="873.2" y="448.5" font-size="2.9" fill="#f6e6e8" font-weight="bold" opacity="0.62" textLength="8.5" lengthAdjust="spacingAndGlyphs">Mesh Edges</text>
<text x="887.6" y="452.95" font-size="2.5" fill="#e8e8e8" font-weight="bold" textLength="5.3" lengthAdjust="spacingAndGlyphs">Verts</text>
<text x="871.4" y="457.75" font-size="2.5" fill="#e8e8e8" font-weight="bold" textLength="8.6" lengthAdjust="spacingAndGlyphs">Object</text>
<circle cx="896" cy="452.1" r="0.95" fill="#62c462" stroke="#111" stroke-width="0.4"/>
<circle cx="869.4" cy="456.9" r="0.95" fill="#62c462" stroke="#111" stroke-width="0.4"/>
<rect x="939.2" y="403.5" width="28.5" height="15.9" rx="1.6" fill="rgba(0,0,0,0.6)"/>
<rect x="940" y="404" width="26.9" height="14.4" rx="1" fill="#3f3f3f"/>
<path d="M940 405 a1 1 0 0 1 1 -1 h24.9 a1 1 0 0 1 1 1 v3 h-26.9 z" fill="#9f313e"/>
<path d="M941.8 405.8 l1 0 l-0.5 0.9z" fill="#ddd"/>
<text x="943.8" y="407" font-size="2.9" fill="#f6e6e8" font-weight="bold" opacity="0.62" textLength="14" lengthAdjust="spacingAndGlyphs">Mesh Edges</text>
<text x="957.3" y="411.45" font-size="2.5" fill="#e8e8e8" font-weight="bold" textLength="6.5" lengthAdjust="spacingAndGlyphs">Verts</text>
<text x="942" y="416.25" font-size="2.5" fill="#e8e8e8" font-weight="bold" textLength="9" lengthAdjust="spacingAndGlyphs">Object</text>
<circle cx="966.9" cy="410.6" r="0.95" fill="#62c462" stroke="#111" stroke-width="0.4"/>
<circle cx="940" cy="415.4" r="0.95" fill="#62c462" stroke="#111" stroke-width="0.4"/>
<rect x="774.4" y="392.2" width="28.9" height="42.8" rx="1.6" fill="rgba(0,0,0,0.6)"/>
<rect x="775.2" y="392.7" width="27.3" height="41.3" rx="1" fill="#3f3f3f"/>
<path d="M775.2 393.7 a1 1 0 0 1 1 -1 h25.3 a1 1 0 0 1 1 1 v3 h-27.3 z" fill="#9f313e"/>
<path d="M777 394.5 l1 0 l-0.5 0.9z" fill="#ddd"/>
<text x="779" y="395.7" font-size="2.9" fill="#f6e6e8" font-weight="bold" opacity="0.62" textLength="11.5" lengthAdjust="spacingAndGlyphs">List Join(3)</text>
<path d="M797.9 393.4 l0.9 0 l0 1.9 l1.9 0 l0.5 -1.2 l0.4 0 l-0.2 2.1 l-3.5 0 z" fill="#f2f2f2"/>
<text x="793.4" y="399.95" font-size="2.5" fill="#e8e8e8" font-weight="bold" textLength="5.8" lengthAdjust="spacingAndGlyphs">data</text>
<rect x="778.2" y="403.9" width="1.4" height="1.4" rx="0.3" fill="#5a5a5a"/>
<text x="780.7" y="405.45" font-size="2.5" fill="#e8e8e8" font-weight="bold" textLength="6.2" lengthAdjust="spacingAndGlyphs">Flatten</text>
<rect x="790.2" y="403.9" width="1.4" height="1.4" rx="0.3" fill="#5a5a5a"/>
<text x="792.4" y="405.45" font-size="2.5" fill="#e8e8e8" font-weight="bold" textLength="5.2" lengthAdjust="spacingAndGlyphs">perm</text>
<text x="780.6" y="410.55" font-size="2.5" fill="#e8e8e8" font-weight="bold" textLength="2.8" lengthAdjust="spacingAndGlyphs">Fill</text>
<text x="792.9" y="410.55" font-size="2.5" fill="#e8e8e8" font-weight="bold" textLength="5.2" lengthAdjust="spacingAndGlyphs">Wrap</text>
<rect x="778.2" y="413.7" width="21.3" height="2.5" rx="1" fill="#555555"/>
<text x="778.8" y="415.8" font-size="2.3" fill="#e8e8e8" font-weight="bold" textLength="8" lengthAdjust="spacingAndGlyphs">JoinLevel</text>
<text x="796.3" y="415.8" font-size="2.3" fill="#e8e8e8" font-weight="bold">1</text>
<text x="777.4" y="420.05" font-size="2.5" fill="#e8e8e8" font-weight="bold" textLength="4" lengthAdjust="spacingAndGlyphs">data</text>
<text x="777.4" y="423.85" font-size="2.5" fill="#e8e8e8" font-weight="bold" textLength="5" lengthAdjust="spacingAndGlyphs">data 1</text>
<text x="777.4" y="428.05" font-size="2.5" fill="#e8e8e8" font-weight="bold" textLength="5" lengthAdjust="spacingAndGlyphs">data 2</text>
<text x="777.4" y="432.25" font-size="2.5" fill="#e8e8e8" font-weight="bold" textLength="5" lengthAdjust="spacingAndGlyphs">data 3</text>
<circle cx="802.5" cy="399.1" r="0.95" fill="#86c8dc" stroke="#111" stroke-width="0.4"/>
<circle cx="775.2" cy="419.2" r="0.95" fill="#62c462" stroke="#111" stroke-width="0.4"/>
<circle cx="775.2" cy="423" r="0.95" fill="#62c462" stroke="#111" stroke-width="0.4"/>
<circle cx="775.2" cy="427.2" r="0.95" fill="#62c462" stroke="#111" stroke-width="0.4"/>
<circle cx="775.2" cy="431.4" r="0.95" fill="#62c462" stroke="#111" stroke-width="0.4"/>
<rect x="775.2" y="452.4" width="28.1" height="42.5" rx="1.6" fill="rgba(0,0,0,0.6)"/>
<rect x="776" y="452.9" width="26.5" height="41" rx="1" fill="#3f3f3f"/>
<path d="M776 453.9 a1 1 0 0 1 1 -1 h24.5 a1 1 0 0 1 1 1 v3 h-26.5 z" fill="#9f313e"/>
<path d="M777.8 454.7 l1 0 l-0.5 0.9z" fill="#ddd"/>
<text x="779.8" y="455.9" font-size="2.9" fill="#f6e6e8" font-weight="bold" opacity="0.62" textLength="11.5" lengthAdjust="spacingAndGlyphs">List Join(3)</text>
<path d="M797.9 453.6 l0.9 0 l0 1.9 l1.9 0 l0.5 -1.2 l0.4 0 l-0.2 2.1 l-3.5 0 z" fill="#f2f2f2"/>
<text x="793.4" y="460.15" font-size="2.5" fill="#e8e8e8" font-weight="bold" textLength="5.8" lengthAdjust="spacingAndGlyphs">data</text>
<rect x="779" y="464.1" width="1.4" height="1.4" rx="0.3" fill="#5a5a5a"/>
<text x="781.5" y="465.65" font-size="2.5" fill="#e8e8e8" font-weight="bold" textLength="6.2" lengthAdjust="spacingAndGlyphs">Flatten</text>
<rect x="791" y="464.1" width="1.4" height="1.4" rx="0.3" fill="#5a5a5a"/>
<text x="793.2" y="465.65" font-size="2.5" fill="#e8e8e8" font-weight="bold" textLength="5.2" lengthAdjust="spacingAndGlyphs">perm</text>
<text x="781.4" y="470.75" font-size="2.5" fill="#e8e8e8" font-weight="bold" textLength="2.8" lengthAdjust="spacingAndGlyphs">Fill</text>
<text x="792.9" y="470.75" font-size="2.5" fill="#e8e8e8" font-weight="bold" textLength="5.2" lengthAdjust="spacingAndGlyphs">Wrap</text>
<rect x="779" y="473.9" width="20.5" height="2.5" rx="1" fill="#555555"/>
<text x="779.6" y="476" font-size="2.3" fill="#e8e8e8" font-weight="bold" textLength="8" lengthAdjust="spacingAndGlyphs">JoinLevel</text>
<text x="796.3" y="476" font-size="2.3" fill="#e8e8e8" font-weight="bold">1</text>
<text x="778.2" y="480.25" font-size="2.5" fill="#e8e8e8" font-weight="bold" textLength="4" lengthAdjust="spacingAndGlyphs">data</text>
<text x="778.2" y="484.05" font-size="2.5" fill="#e8e8e8" font-weight="bold" textLength="5" lengthAdjust="spacingAndGlyphs">data 1</text>
<text x="778.2" y="488.25" font-size="2.5" fill="#e8e8e8" font-weight="bold" textLength="5" lengthAdjust="spacingAndGlyphs">data 2</text>
<text x="778.2" y="492.45" font-size="2.5" fill="#e8e8e8" font-weight="bold" textLength="5" lengthAdjust="spacingAndGlyphs">data 3</text>
<circle cx="802.5" cy="459.3" r="0.95" fill="#86c8dc" stroke="#111" stroke-width="0.4"/>
<circle cx="776" cy="479.4" r="0.95" fill="#62c462" stroke="#111" stroke-width="0.4"/>
<circle cx="776" cy="483.2" r="0.95" fill="#62c462" stroke="#111" stroke-width="0.4"/>
<circle cx="776" cy="487.4" r="0.95" fill="#62c462" stroke="#111" stroke-width="0.4"/>
<circle cx="776" cy="491.6" r="0.95" fill="#62c462" stroke="#111" stroke-width="0.4"/>
<rect x="732.5" y="376.7" width="28.5" height="25.5" rx="1.6" fill="rgba(0,0,0,0.6)"/>
<rect x="733.3" y="377.2" width="26.9" height="24" rx="1" fill="#5b5bae"/>
<path d="M733.3 378.2 a1 1 0 0 1 1 -1 h24.9 a1 1 0 0 1 1 1 v2.8 h-26.9 z" fill="#9f313e"/>
<path d="M735.1 378.9 l1 0 l-0.5 0.9z" fill="#ddd"/>
<text x="737.1" y="380.1" font-size="2.9" fill="#f6e6e8" font-weight="bold" opacity="0.62" textLength="6.5" lengthAdjust="spacingAndGlyphs">Tuple</text>
<text x="752.2" y="384.75" font-size="2.5" fill="#e8e8e8" font-weight="bold" textLength="5.2" lengthAdjust="spacingAndGlyphs">Data</text>
<rect x="735.4" y="388.2" width="22.3" height="2.8" rx="1.2" fill="#2e2e3e"/>
<path d="M736.3 390.6 l1.0 -2.0 l0.7 0.4 l-0.9 2.0z" fill="#eee"/>
<text x="739.9" y="390.4" font-size="2.1" fill="#e8e8e8" font-weight="bold" textLength="2.7" lengthAdjust="spacingAndGlyphs">3D</text>
<text x="735.2" y="395.05" font-size="2.5" fill="#e8e8e8" font-weight="bold" textLength="3" lengthAdjust="spacingAndGlyphs">Min</text>
<rect x="743.8" y="392.9" width="13.6" height="2.6" rx="1" fill="#2a2a33"/>
<rect x="744.1" y="393.3" width="1.6" height="1.6" rx="0.3" fill="#bbbbbb"/>
<text x="735.2" y="399.25" font-size="2.5" fill="#e8e8e8" font-weight="bold" textLength="4.5" lengthAdjust="spacingAndGlyphs">Max</text>
<rect x="743.8" y="397.1" width="13.6" height="2.6" rx="1" fill="#2a2a33"/>
<circle cx="760.2" cy="383.9" r="0.95" fill="#8fdede" stroke="#111" stroke-width="0.4"/>
<circle cx="733.3" cy="394.2" r="0.95" fill="#3d9c9c" stroke="#111" stroke-width="0.4"/>
<circle cx="733.3" cy="398.4" r="0.95" fill="#3d9c9c" stroke="#111" stroke-width="0.4"/>
<rect x="724.6" y="406.8" width="28.5" height="25.5" rx="1.6" fill="rgba(0,0,0,0.6)"/>
<rect x="725.4" y="407.3" width="26.9" height="24" rx="1" fill="#5b5bae"/>
<path d="M725.4 408.3 a1 1 0 0 1 1 -1 h24.9 a1 1 0 0 1 1 1 v2.8 h-26.9 z" fill="#9f313e"/>
<path d="M727.2 409 l1 0 l-0.5 0.9z" fill="#ddd"/>
<text x="729.2" y="410.2" font-size="2.9" fill="#f6e6e8" font-weight="bold" opacity="0.62" textLength="6.5" lengthAdjust="spacingAndGlyphs">Tuple</text>
<text x="744.3" y="414.85" font-size="2.5" fill="#e8e8e8" font-weight="bold" textLength="5.2" lengthAdjust="spacingAndGlyphs">Data</text>
<rect x="727.5" y="418.3" width="22.3" height="2.8" rx="1.2" fill="#2e2e3e"/>
<path d="M728.4 420.7 l1.0 -2.0 l0.7 0.4 l-0.9 2.0z" fill="#eee"/>
<text x="732" y="420.5" font-size="2.1" fill="#e8e8e8" font-weight="bold" textLength="2.7" lengthAdjust="spacingAndGlyphs">3D</text>
<text x="727.3" y="425.15" font-size="2.5" fill="#e8e8e8" font-weight="bold" textLength="3" lengthAdjust="spacingAndGlyphs">Min</text>
<rect x="735.9" y="423" width="13.6" height="2.6" rx="1" fill="#2a2a33"/>
<rect x="736.2" y="423.4" width="1.6" height="1.6" rx="0.3" fill="#bbbbbb"/>
<text x="727.3" y="429.35" font-size="2.5" fill="#e8e8e8" font-weight="bold" textLength="4.5" lengthAdjust="spacingAndGlyphs">Max</text>
<rect x="735.9" y="427.2" width="13.6" height="2.6" rx="1" fill="#2a2a33"/>
<circle cx="752.3" cy="414" r="0.95" fill="#8fdede" stroke="#111" stroke-width="0.4"/>
<circle cx="725.4" cy="424.3" r="0.95" fill="#3d9c9c" stroke="#111" stroke-width="0.4"/>
<circle cx="725.4" cy="428.5" r="0.95" fill="#3d9c9c" stroke="#111" stroke-width="0.4"/>
<rect x="724.7" y="437.5" width="28.5" height="25.5" rx="1.6" fill="rgba(0,0,0,0.6)"/>
<rect x="725.5" y="438" width="26.9" height="24" rx="1" fill="#5b5bae"/>
<path d="M725.5 439 a1 1 0 0 1 1 -1 h24.9 a1 1 0 0 1 1 1 v2.8 h-26.9 z" fill="#9f313e"/>
<path d="M727.3 439.7 l1 0 l-0.5 0.9z" fill="#ddd"/>
<text x="729.3" y="440.9" font-size="2.9" fill="#f6e6e8" font-weight="bold" opacity="0.62" textLength="6.5" lengthAdjust="spacingAndGlyphs">Tuple</text>
<text x="744.4" y="445.55" font-size="2.5" fill="#e8e8e8" font-weight="bold" textLength="5.2" lengthAdjust="spacingAndGlyphs">Data</text>
<rect x="727.6" y="449" width="22.3" height="2.8" rx="1.2" fill="#2e2e3e"/>
<path d="M728.5 451.4 l1.0 -2.0 l0.7 0.4 l-0.9 2.0z" fill="#eee"/>
<text x="732.1" y="451.2" font-size="2.1" fill="#e8e8e8" font-weight="bold" textLength="2.7" lengthAdjust="spacingAndGlyphs">3D</text>
<text x="727.4" y="455.85" font-size="2.5" fill="#e8e8e8" font-weight="bold" textLength="3" lengthAdjust="spacingAndGlyphs">Min</text>
<rect x="736" y="453.7" width="13.6" height="2.6" rx="1" fill="#2a2a33"/>
<rect x="736.3" y="454.1" width="1.6" height="1.6" rx="0.3" fill="#bbbbbb"/>
<text x="727.4" y="460.05" font-size="2.5" fill="#e8e8e8" font-weight="bold" textLength="4.5" lengthAdjust="spacingAndGlyphs">Max</text>
<rect x="736" y="457.9" width="13.6" height="2.6" rx="1" fill="#2a2a33"/>
<circle cx="752.4" cy="444.7" r="0.95" fill="#8fdede" stroke="#111" stroke-width="0.4"/>
<circle cx="725.5" cy="455" r="0.95" fill="#3d9c9c" stroke="#111" stroke-width="0.4"/>
<circle cx="725.5" cy="459.2" r="0.95" fill="#3d9c9c" stroke="#111" stroke-width="0.4"/>
<rect x="723.9" y="488.4" width="28.5" height="25.5" rx="1.6" fill="rgba(0,0,0,0.6)"/>
<rect x="724.7" y="488.9" width="26.9" height="24" rx="1" fill="#5b5bae"/>
<path d="M724.7 489.9 a1 1 0 0 1 1 -1 h24.9 a1 1 0 0 1 1 1 v2.8 h-26.9 z" fill="#9f313e"/>
<path d="M726.5 490.6 l1 0 l-0.5 0.9z" fill="#ddd"/>
<text x="728.5" y="491.8" font-size="2.9" fill="#f6e6e8" font-weight="bold" opacity="0.62" textLength="6.5" lengthAdjust="spacingAndGlyphs">Tuple</text>
<text x="743.6" y="496.45" font-size="2.5" fill="#e8e8e8" font-weight="bold" textLength="5.2" lengthAdjust="spacingAndGlyphs">Data</text>
<rect x="726.8" y="499.9" width="22.3" height="2.8" rx="1.2" fill="#2e2e3e"/>
<path d="M727.7 502.3 l1.0 -2.0 l0.7 0.4 l-0.9 2.0z" fill="#eee"/>
<text x="731.3" y="502.1" font-size="2.1" fill="#e8e8e8" font-weight="bold" textLength="2.7" lengthAdjust="spacingAndGlyphs">3D</text>
<text x="726.6" y="506.75" font-size="2.5" fill="#e8e8e8" font-weight="bold" textLength="3" lengthAdjust="spacingAndGlyphs">Min</text>
<rect x="735.2" y="504.6" width="13.6" height="2.6" rx="1" fill="#2a2a33"/>
<rect x="735.5" y="505" width="1.6" height="1.6" rx="0.3" fill="#bbbbbb"/>
<text x="726.6" y="510.95" font-size="2.5" fill="#e8e8e8" font-weight="bold" textLength="4.5" lengthAdjust="spacingAndGlyphs">Max</text>
<rect x="735.2" y="508.8" width="13.6" height="2.6" rx="1" fill="#2a2a33"/>
<circle cx="751.6" cy="495.6" r="0.95" fill="#8fdede" stroke="#111" stroke-width="0.4"/>
<circle cx="724.7" cy="505.9" r="0.95" fill="#3d9c9c" stroke="#111" stroke-width="0.4"/>
<circle cx="724.7" cy="510.1" r="0.95" fill="#3d9c9c" stroke="#111" stroke-width="0.4"/>
<rect x="720.2" y="515.7" width="28.5" height="25.5" rx="1.6" fill="rgba(0,0,0,0.6)"/>
<rect x="721" y="516.2" width="26.9" height="24" rx="1" fill="#5b5bae"/>
<path d="M721 517.2 a1 1 0 0 1 1 -1 h24.9 a1 1 0 0 1 1 1 v2.8 h-26.9 z" fill="#9f313e"/>
<path d="M722.8 517.9 l1 0 l-0.5 0.9z" fill="#ddd"/>
<text x="724.8" y="519.1" font-size="2.9" fill="#f6e6e8" font-weight="bold" opacity="0.62" textLength="6.5" lengthAdjust="spacingAndGlyphs">Tuple</text>
<text x="739.9" y="523.75" font-size="2.5" fill="#e8e8e8" font-weight="bold" textLength="5.2" lengthAdjust="spacingAndGlyphs">Data</text>
<rect x="723.1" y="527.2" width="22.3" height="2.8" rx="1.2" fill="#2e2e3e"/>
<path d="M724 529.6 l1.0 -2.0 l0.7 0.4 l-0.9 2.0z" fill="#eee"/>
<text x="727.6" y="529.4" font-size="2.1" fill="#e8e8e8" font-weight="bold" textLength="2.7" lengthAdjust="spacingAndGlyphs">3D</text>
<text x="722.9" y="534.05" font-size="2.5" fill="#e8e8e8" font-weight="bold" textLength="3" lengthAdjust="spacingAndGlyphs">Min</text>
<rect x="731.5" y="531.9" width="13.6" height="2.6" rx="1" fill="#2a2a33"/>
<rect x="731.8" y="532.3" width="1.6" height="1.6" rx="0.3" fill="#bbbbbb"/>
<text x="722.9" y="538.25" font-size="2.5" fill="#e8e8e8" font-weight="bold" textLength="4.5" lengthAdjust="spacingAndGlyphs">Max</text>
<rect x="731.5" y="536.1" width="13.6" height="2.6" rx="1" fill="#2a2a33"/>
<circle cx="747.9" cy="522.9" r="0.95" fill="#8fdede" stroke="#111" stroke-width="0.4"/>
<circle cx="721" cy="533.2" r="0.95" fill="#3d9c9c" stroke="#111" stroke-width="0.4"/>
<circle cx="721" cy="537.4" r="0.95" fill="#3d9c9c" stroke="#111" stroke-width="0.4"/>
<rect x="718.5" y="545.7" width="28.5" height="25.5" rx="1.6" fill="rgba(0,0,0,0.6)"/>
<rect x="719.3" y="546.2" width="26.9" height="24" rx="1" fill="#5b5bae"/>
<path d="M719.3 547.2 a1 1 0 0 1 1 -1 h24.9 a1 1 0 0 1 1 1 v2.8 h-26.9 z" fill="#9f313e"/>
<path d="M721.1 547.9 l1 0 l-0.5 0.9z" fill="#ddd"/>
<text x="723.1" y="549.1" font-size="2.9" fill="#f6e6e8" font-weight="bold" opacity="0.62" textLength="6.5" lengthAdjust="spacingAndGlyphs">Tuple</text>
<text x="738.2" y="553.75" font-size="2.5" fill="#e8e8e8" font-weight="bold" textLength="5.2" lengthAdjust="spacingAndGlyphs">Data</text>
<rect x="721.4" y="557.2" width="22.3" height="2.8" rx="1.2" fill="#2e2e3e"/>
<path d="M722.3 559.6 l1.0 -2.0 l0.7 0.4 l-0.9 2.0z" fill="#eee"/>
<text x="725.9" y="559.4" font-size="2.1" fill="#e8e8e8" font-weight="bold" textLength="2.7" lengthAdjust="spacingAndGlyphs">3D</text>
<text x="721.2" y="564.05" font-size="2.5" fill="#e8e8e8" font-weight="bold" textLength="3" lengthAdjust="spacingAndGlyphs">Min</text>
<rect x="729.8" y="561.9" width="13.6" height="2.6" rx="1" fill="#2a2a33"/>
<rect x="730.1" y="562.3" width="1.6" height="1.6" rx="0.3" fill="#bbbbbb"/>
<text x="721.2" y="568.25" font-size="2.5" fill="#e8e8e8" font-weight="bold" textLength="4.5" lengthAdjust="spacingAndGlyphs">Max</text>
<rect x="729.8" y="566.1" width="13.6" height="2.6" rx="1" fill="#2a2a33"/>
<circle cx="746.2" cy="552.9" r="0.95" fill="#8fdede" stroke="#111" stroke-width="0.4"/>
<circle cx="719.3" cy="563.2" r="0.95" fill="#3d9c9c" stroke="#111" stroke-width="0.4"/>
<circle cx="719.3" cy="567.4" r="0.95" fill="#3d9c9c" stroke="#111" stroke-width="0.4"/>
<path d="M435.7 364.4 L438.1 360.7 L461.3 360.7 L463.7 364.4 L461.3 368.1 L438.1 368.1 Z" fill="rgba(0,0,0,0.6)" stroke="rgba(0,0,0,0.6)" stroke-width="1" stroke-linejoin="round"/>
<path d="M436 364.4 L438.3 361 L461.1 361 L463.4 364.4 L461.1 367.8 L438.3 367.8 Z" fill="#7a74ea" stroke="#7a74ea" stroke-width="0.6" stroke-linejoin="round"/>
<path d="M437.2 364.4 L438.8 362.35 L460.6 362.35 L462.2 364.4 L460.6 366.45 L438.8 366.45 Z" fill="#a8272f" stroke="#a8272f" stroke-width="0.5" stroke-linejoin="round"/>
<rect x="438.4" y="361.8" width="22.6" height="0.9" fill="#b070d8" opacity="0.55"/>
<text x="438.6" y="365.2" font-size="2.2" fill="#e8e8e8" font-weight="bold" opacity="0.85" textLength="12.5" lengthAdjust="spacingAndGlyphs">▸ Stethoscope</text>
<circle cx="458.8" cy="364.4" r="0.75" fill="#f25566"/>
<circle cx="461.6" cy="364.4" r="0.7" fill="#ff3a3a"/>
<circle cx="436.3" cy="364.4" r="0.85" fill="#62c462" stroke="#111" stroke-width="0.4"/>
<path d="M448 385.7 L450.4 382 L472.8 382 L475.2 385.7 L472.8 389.4 L450.4 389.4 Z" fill="rgba(0,0,0,0.6)" stroke="rgba(0,0,0,0.6)" stroke-width="1" stroke-linejoin="round"/>
<path d="M448.3 385.7 L450.6 382.3 L472.6 382.3 L474.9 385.7 L472.6 389.1 L450.6 389.1 Z" fill="#7a74ea" stroke="#7a74ea" stroke-width="0.6" stroke-linejoin="round"/>
<path d="M449.5 385.7 L451.1 383.65 L472.1 383.65 L473.7 385.7 L472.1 387.75 L451.1 387.75 Z" fill="#a8272f" stroke="#a8272f" stroke-width="0.5" stroke-linejoin="round"/>
<rect x="450.7" y="383.1" width="21.8" height="0.9" fill="#b070d8" opacity="0.55"/>
<text x="450.9" y="386.5" font-size="2.2" fill="#e8e8e8" font-weight="bold" opacity="0.85" textLength="12.5" lengthAdjust="spacingAndGlyphs">▸ Stethoscope</text>
<circle cx="470.3" cy="385.7" r="0.75" fill="#f25566"/>
<circle cx="473.1" cy="385.7" r="0.7" fill="#ff3a3a"/>
<circle cx="448.6" cy="385.7" r="0.85" fill="#62c462" stroke="#111" stroke-width="0.4"/>
<path d="M586.6 299.1 L589 295.4 L610.7 295.4 L613.1 299.1 L610.7 302.8 L589 302.8 Z" fill="rgba(0,0,0,0.6)" stroke="rgba(0,0,0,0.6)" stroke-width="1" stroke-linejoin="round"/>
<path d="M586.9 299.1 L589.2 295.7 L610.5 295.7 L612.8 299.1 L610.5 302.5 L589.2 302.5 Z" fill="#7a74ea" stroke="#7a74ea" stroke-width="0.6" stroke-linejoin="round"/>
<path d="M588.1 299.1 L589.7 297.05 L610 297.05 L611.6 299.1 L610 301.15 L589.7 301.15 Z" fill="#a8272f" stroke="#a8272f" stroke-width="0.5" stroke-linejoin="round"/>
<rect x="589.3" y="296.5" width="21.1" height="0.9" fill="#b070d8" opacity="0.55"/>
<text x="589.5" y="299.9" font-size="2.2" fill="#e8e8e8" font-weight="bold" opacity="0.85" textLength="12.5" lengthAdjust="spacingAndGlyphs">▸ Stethoscope</text>
<circle cx="608.2" cy="299.1" r="0.75" fill="#f25566"/>
<circle cx="611" cy="299.1" r="0.7" fill="#ff3a3a"/>
<circle cx="587.2" cy="299.1" r="0.85" fill="#62c462" stroke="#111" stroke-width="0.4"/>
<path d="M646.7 361.6 L649.1 357.9 L671.1 357.9 L673.5 361.6 L671.1 365.3 L649.1 365.3 Z" fill="rgba(0,0,0,0.6)" stroke="rgba(0,0,0,0.6)" stroke-width="1" stroke-linejoin="round"/>
<path d="M647 361.6 L649.3 358.2 L670.9 358.2 L673.2 361.6 L670.9 365 L649.3 365 Z" fill="#7a74ea" stroke="#7a74ea" stroke-width="0.6" stroke-linejoin="round"/>
<path d="M648.2 361.6 L649.8 359.55 L670.4 359.55 L672 361.6 L670.4 363.65 L649.8 363.65 Z" fill="#a8272f" stroke="#a8272f" stroke-width="0.5" stroke-linejoin="round"/>
<rect x="649.4" y="359" width="21.4" height="0.9" fill="#b070d8" opacity="0.55"/>
<text x="649.6" y="362.4" font-size="2.2" fill="#e8e8e8" font-weight="bold" opacity="0.85" textLength="12.5" lengthAdjust="spacingAndGlyphs">▸ Stethoscope</text>
<circle cx="668.6" cy="361.6" r="0.75" fill="#f25566"/>
<circle cx="671.4" cy="361.6" r="0.7" fill="#ff3a3a"/>
<circle cx="647.3" cy="361.6" r="0.85" fill="#62c462" stroke="#111" stroke-width="0.4"/>
<path d="M885.7 333.6 L888.1 329.9 L910.9 329.9 L913.3 333.6 L910.9 337.3 L888.1 337.3 Z" fill="rgba(0,0,0,0.6)" stroke="rgba(0,0,0,0.6)" stroke-width="1" stroke-linejoin="round"/>
<path d="M886 333.6 L888.3 330.2 L910.7 330.2 L913 333.6 L910.7 337 L888.3 337 Z" fill="#7a74ea" stroke="#7a74ea" stroke-width="0.6" stroke-linejoin="round"/>
<path d="M887.2 333.6 L888.8 331.55 L910.2 331.55 L911.8 333.6 L910.2 335.65 L888.8 335.65 Z" fill="#a8272f" stroke="#a8272f" stroke-width="0.5" stroke-linejoin="round"/>
<rect x="888.4" y="331" width="22.2" height="0.9" fill="#b070d8" opacity="0.55"/>
<text x="888.6" y="334.4" font-size="2.2" fill="#e8e8e8" font-weight="bold" opacity="0.85" textLength="12.5" lengthAdjust="spacingAndGlyphs">▸ Stethoscope</text>
<circle cx="908.4" cy="333.6" r="0.75" fill="#f25566"/>
<circle cx="911.2" cy="333.6" r="0.7" fill="#ff3a3a"/>
<circle cx="886.3" cy="333.6" r="0.85" fill="#62c462" stroke="#111" stroke-width="0.4"/>
<path d="M842 382.3 L844.4 378.6 L867.6 378.6 L870 382.3 L867.6 386 L844.4 386 Z" fill="rgba(0,0,0,0.6)" stroke="rgba(0,0,0,0.6)" stroke-width="1" stroke-linejoin="round"/>
<path d="M842.3 382.3 L844.6 378.9 L867.4 378.9 L869.7 382.3 L867.4 385.7 L844.6 385.7 Z" fill="#7a74ea" stroke="#7a74ea" stroke-width="0.6" stroke-linejoin="round"/>
<path d="M843.5 382.3 L845.1 380.25 L866.9 380.25 L868.5 382.3 L866.9 384.35 L845.1 384.35 Z" fill="#a8272f" stroke="#a8272f" stroke-width="0.5" stroke-linejoin="round"/>
<rect x="844.7" y="379.7" width="22.6" height="0.9" fill="#b070d8" opacity="0.55"/>
<text x="844.9" y="383.1" font-size="2.2" fill="#e8e8e8" font-weight="bold" opacity="0.85" textLength="12.5" lengthAdjust="spacingAndGlyphs">▸ Stethoscope</text>
<circle cx="865.1" cy="382.3" r="0.75" fill="#f25566"/>
<circle cx="867.9" cy="382.3" r="0.7" fill="#ff3a3a"/>
<circle cx="842.6" cy="382.3" r="0.85" fill="#62c462" stroke="#111" stroke-width="0.4"/>
<path d="M867 401.6 L869.4 397.9 L892.6 397.9 L895 401.6 L892.6 405.3 L869.4 405.3 Z" fill="rgba(0,0,0,0.6)" stroke="rgba(0,0,0,0.6)" stroke-width="1" stroke-linejoin="round"/>
<path d="M867.3 401.6 L869.6 398.2 L892.4 398.2 L894.7 401.6 L892.4 405 L869.6 405 Z" fill="#7a74ea" stroke="#7a74ea" stroke-width="0.6" stroke-linejoin="round"/>
<path d="M868.5 401.6 L870.1 399.55 L891.9 399.55 L893.5 401.6 L891.9 403.65 L870.1 403.65 Z" fill="#a8272f" stroke="#a8272f" stroke-width="0.5" stroke-linejoin="round"/>
<rect x="869.7" y="399" width="22.6" height="0.9" fill="#b070d8" opacity="0.55"/>
<text x="869.9" y="402.4" font-size="2.2" fill="#e8e8e8" font-weight="bold" opacity="0.85" textLength="12.5" lengthAdjust="spacingAndGlyphs">▸ Stethoscope</text>
<circle cx="890.1" cy="401.6" r="0.75" fill="#f25566"/>
<circle cx="892.9" cy="401.6" r="0.7" fill="#ff3a3a"/>
<circle cx="867.6" cy="401.6" r="0.85" fill="#62c462" stroke="#111" stroke-width="0.4"/>
<path d="M978.7 409.5 L981.1 405.8 L1003.5 405.8 L1005.9 409.5 L1003.5 413.2 L981.1 413.2 Z" fill="rgba(0,0,0,0.6)" stroke="rgba(0,0,0,0.6)" stroke-width="1" stroke-linejoin="round"/>
<path d="M979 409.5 L981.3 406.1 L1003.3 406.1 L1005.6 409.5 L1003.3 412.9 L981.3 412.9 Z" fill="#7a74ea" stroke="#7a74ea" stroke-width="0.6" stroke-linejoin="round"/>
<path d="M980.2 409.5 L981.8 407.45 L1002.8 407.45 L1004.4 409.5 L1002.8 411.55 L981.8 411.55 Z" fill="#a8272f" stroke="#a8272f" stroke-width="0.5" stroke-linejoin="round"/>
<rect x="981.4" y="406.9" width="21.8" height="0.9" fill="#b070d8" opacity="0.55"/>
<text x="981.6" y="410.3" font-size="2.2" fill="#e8e8e8" font-weight="bold" opacity="0.85" textLength="12.5" lengthAdjust="spacingAndGlyphs">▸ Stethoscope</text>
<circle cx="1001" cy="409.5" r="0.75" fill="#f25566"/>
<circle cx="1003.8" cy="409.5" r="0.7" fill="#ff3a3a"/>
<circle cx="979.3" cy="409.5" r="0.85" fill="#62c462" stroke="#111" stroke-width="0.4"/>
<path d="M910.8 432.9 L913.2 429.2 L936 429.2 L938.4 432.9 L936 436.6 L913.2 436.6 Z" fill="rgba(0,0,0,0.6)" stroke="rgba(0,0,0,0.6)" stroke-width="1" stroke-linejoin="round"/>
<path d="M911.1 432.9 L913.4 429.5 L935.8 429.5 L938.1 432.9 L935.8 436.3 L913.4 436.3 Z" fill="#7a74ea" stroke="#7a74ea" stroke-width="0.6" stroke-linejoin="round"/>
<path d="M912.3 432.9 L913.9 430.85 L935.3 430.85 L936.9 432.9 L935.3 434.95 L913.9 434.95 Z" fill="#a8272f" stroke="#a8272f" stroke-width="0.5" stroke-linejoin="round"/>
<rect x="913.5" y="430.3" width="22.2" height="0.9" fill="#b070d8" opacity="0.55"/>
<text x="913.7" y="433.7" font-size="2.2" fill="#e8e8e8" font-weight="bold" opacity="0.85" textLength="12.5" lengthAdjust="spacingAndGlyphs">▸ Stethoscope</text>
<circle cx="933.5" cy="432.9" r="0.75" fill="#f25566"/>
<circle cx="936.3" cy="432.9" r="0.7" fill="#ff3a3a"/>
<circle cx="911.4" cy="432.9" r="0.85" fill="#62c462" stroke="#111" stroke-width="0.4"/>
<path d="M814.3 483.3 L816.7 479.6 L839.6 479.6 L842 483.3 L839.6 487 L816.7 487 Z" fill="rgba(0,0,0,0.6)" stroke="rgba(0,0,0,0.6)" stroke-width="1" stroke-linejoin="round"/>
<path d="M814.6 483.3 L816.9 479.9 L839.4 479.9 L841.7 483.3 L839.4 486.7 L816.9 486.7 Z" fill="#7a74ea" stroke="#7a74ea" stroke-width="0.6" stroke-linejoin="round"/>
<path d="M815.8 483.3 L817.4 481.25 L838.9 481.25 L840.5 483.3 L838.9 485.35 L817.4 485.35 Z" fill="#a8272f" stroke="#a8272f" stroke-width="0.5" stroke-linejoin="round"/>
<rect x="817" y="480.7" width="22.3" height="0.9" fill="#b070d8" opacity="0.55"/>
<text x="817.2" y="484.1" font-size="2.2" fill="#e8e8e8" font-weight="bold" opacity="0.85" textLength="12.5" lengthAdjust="spacingAndGlyphs">▸ Stethoscope</text>
<circle cx="837.1" cy="483.3" r="0.75" fill="#f25566"/>
<circle cx="839.9" cy="483.3" r="0.7" fill="#ff3a3a"/>
<circle cx="814.9" cy="483.3" r="0.85" fill="#62c462" stroke="#111" stroke-width="0.4"/></g>
<g><rect x="449.4" y="88.8" width="18" height="21.2" rx="1" fill="rgba(0,0,0,0.3)"/>
<text x="451.2" y="91.1" font-size="3.0" fill="#ffffff" font-weight="bold" stroke="#000" stroke-opacity="0.7" stroke-width="0.8" paint-order="stroke" textLength="15.2" lengthAdjust="spacingAndGlyphs">· 1 1 C</text>
<text x="451.2" y="94.8" font-size="3.0" fill="#ffffff" font-weight="bold" stroke="#000" stroke-opacity="0.7" stroke-width="0.8" paint-order="stroke" textLength="15.2" lengthAdjust="spacingAndGlyphs">H 4 1 1</text>
<text x="451.2" y="97.8" font-size="3.0" fill="#ffffff" font-weight="bold" stroke="#000" stroke-opacity="0.7" stroke-width="0.8" paint-order="stroke" textLength="15.2" lengthAdjust="spacingAndGlyphs">U 4 C 1</text>
<text x="451.2" y="101.7" font-size="3.0" fill="#ffffff" font-weight="bold" stroke="#000" stroke-opacity="0.7" stroke-width="0.8" paint-order="stroke" textLength="15.2" lengthAdjust="spacingAndGlyphs">N 8 4 1</text>
<text x="451.2" y="104.9" font-size="3.0" fill="#ffffff" font-weight="bold" stroke="#000" stroke-opacity="0.7" stroke-width="0.8" paint-order="stroke" textLength="15.2" lengthAdjust="spacingAndGlyphs">P 4 L 1</text>
<text x="451.2" y="108.6" font-size="3.0" fill="#ffffff" font-weight="bold" stroke="#000" stroke-opacity="0.7" stroke-width="0.8" paint-order="stroke" textLength="15.2" lengthAdjust="spacingAndGlyphs">W . 1 #</text>
<text x="466.8" y="361.8" font-size="3.2" fill="#ffffff" font-weight="bold" stroke="#000" stroke-opacity="0.7" stroke-width="0.8" paint-order="stroke" textLength="173.2" lengthAdjust="spacingAndGlyphs">nes 4.25, esar ysn 2.06, 0,a arygrza sumpmy naruxe nezozytr gnnvstrv ],zr puyy 0.78, 0.97, p</text>
<text x="478.7" y="383.5" font-size="3.2" fill="#ffffff" font-weight="bold" stroke="#000" stroke-opacity="0.7" stroke-width="0.8" paint-order="stroke" textLength="171.8" lengthAdjust="spacingAndGlyphs">[[c zynn 5.46, rxrz 0,tnaa rrteu aeoe ptyuesr 8.16, 7.11, eryzsx nsttpy ],vzu 4.38, yewns tu</text>
<text x="478.7" y="386.6" font-size="3.2" fill="#ffffff" font-weight="bold" stroke="#000" stroke-opacity="0.7" stroke-width="0.8" paint-order="stroke" textLength="171.8" lengthAdjust="spacingAndGlyphs">epwsxvc 8.18, mgysuus mxet yce 5.32, nsw 7.91, 8.29, sepeaes rxnrtrvp vmoyan [uvv gxvnnecs ]</text>
<text x="478.7" y="390.1" font-size="3.2" fill="#ffffff" font-weight="bold" stroke="#000" stroke-opacity="0.7" stroke-width="0.8" paint-order="stroke" textLength="171.8" lengthAdjust="spacingAndGlyphs">epwsxvc 8.18, mgysuus mxet yce 5.32, nsw 7.91, 8.29, sepeaes rxnrtrvp vmoyan [uvv gxvnnecs ]</text>
<text x="618.6" y="297.3" font-size="3.2" fill="#ffffff" font-weight="bold" stroke="#000" stroke-opacity="0.7" stroke-width="0.8" paint-order="stroke" textLength="178.9" lengthAdjust="spacingAndGlyphs">zrs aru [[tu enga lengen pcwoyrtm ncunan tgrrw emnnac ntuxsyoe Vecr ],epr 2.89, eaymn 5.54, ensa</text>
<text x="677.2" y="359.5" font-size="3.2" fill="#ffffff" font-weight="bold" stroke="#000" stroke-opacity="0.7" stroke-width="0.8" paint-order="stroke" textLength="178.2" lengthAdjust="spacingAndGlyphs">6.68, 8.48, 8.30, mxaeep ruev grnerece 4.00, gge lenguy 1.64, Vecnapr ncon [[cnp ],ess 0.51, [[</text>
<text x="677.2" y="362.9" font-size="3.2" fill="#ffffff" font-weight="bold" stroke="#000" stroke-opacity="0.7" stroke-width="0.8" paint-order="stroke" textLength="178.2" lengthAdjust="spacingAndGlyphs">7.40, aaeyv poansgzr (vu 6.56, 5.49, ocprns 6.80, 7.17, vgx ],tv 6.28, [[mwr ectytge 2.41, 3.42</text>
<text x="677.2" y="366.7" font-size="3.2" fill="#ffffff" font-weight="bold" stroke="#000" stroke-opacity="0.7" stroke-width="0.8" paint-order="stroke" textLength="178.2" lengthAdjust="spacingAndGlyphs">7.40, aaeyv poansgzr (vu 6.56, 5.49, ocprns 6.80, 7.17, vgx ],tv 6.28, [[mwr ectytge 2.41, 3.42</text>
<text x="916.4" y="331.5" font-size="3.2" fill="#ffffff" font-weight="bold" stroke="#000" stroke-opacity="0.7" stroke-width="0.8" paint-order="stroke" textLength="179.4" lengthAdjust="spacingAndGlyphs">rxac (vat rrc ravemxx vvr auen evnuyee gpeuycva 4.47, svspn ymcv ozsnwc eoesra (oyp sccnsyy ynxv</text>
<text x="872.8" y="380.3" font-size="3.2" fill="#ffffff" font-weight="bold" stroke="#000" stroke-opacity="0.7" stroke-width="0.8" paint-order="stroke" textLength="30.5" lengthAdjust="spacingAndGlyphs">egyace grxasss </text>
<text x="897.5" y="399.8" font-size="3.2" fill="#ffffff" font-weight="bold" stroke="#000" stroke-opacity="0.7" stroke-width="0.8" paint-order="stroke" textLength="90.5" lengthAdjust="spacingAndGlyphs">neeya wcouwy eyszre eet (zeng 6.53, ngr gya [[se</text>
<text x="1009" y="407.2" font-size="3.2" fill="#ffffff" font-weight="bold" stroke="#000" stroke-opacity="0.7" stroke-width="0.8" paint-order="stroke" textLength="24" lengthAdjust="spacingAndGlyphs">svagss [t mz</text>
<text x="1039.8" y="407.2" font-size="3.2" fill="#ffffff" font-weight="bold" stroke="#000" stroke-opacity="0.7" stroke-width="0.8" paint-order="stroke" textLength="1.4" lengthAdjust="spacingAndGlyphs">|</text>
<text x="942.3" y="430.7" font-size="3.2" fill="#ffffff" font-weight="bold" stroke="#000" stroke-opacity="0.7" stroke-width="0.8" paint-order="stroke" textLength="24.3" lengthAdjust="spacingAndGlyphs">sstvget eesn</text>
<text x="845" y="481.5" font-size="3.2" fill="#ffffff" font-weight="bold" stroke="#000" stroke-opacity="0.7" stroke-width="0.8" paint-order="stroke" textLength="34.6" lengthAdjust="spacingAndGlyphs">typeraps ywmuay 8</text></g>
</svg>
</body></html>
